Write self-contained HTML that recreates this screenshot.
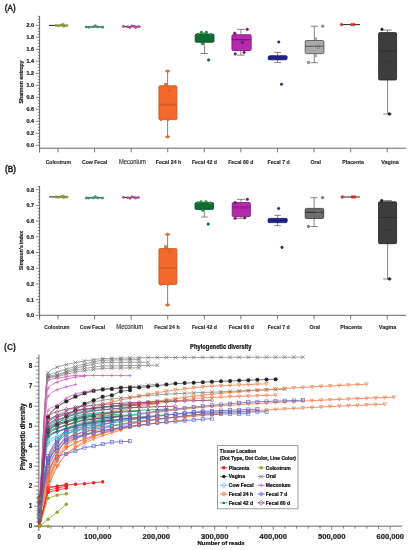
<!DOCTYPE html>
<html><head><meta charset="utf-8"><style>
html,body{margin:0;padding:0;background:#fff;}
svg{display:block;will-change:transform;}
text{font-family:"Liberation Sans",sans-serif;}
</style></head><body>
<svg width="415" height="550" viewBox="0 0 415 550">
<rect width="415" height="550" fill="#fff"/>
<text x="4.80" y="10.60" font-size="8.2" font-weight="normal" text-anchor="start" fill="#222" textLength="10.8" lengthAdjust="spacingAndGlyphs" stroke="#222" stroke-width="0.45" >(A)</text>
<line x1="39.60" y1="16.00" x2="39.60" y2="152.50" stroke="#555" stroke-width="0.9" />
<line x1="39.60" y1="148.20" x2="406.30" y2="148.20" stroke="#555" stroke-width="0.9" />
<line x1="35.80" y1="145.30" x2="39.60" y2="145.30" stroke="#555" stroke-width="0.7" />
<text x="33.90" y="147.20" font-size="5.4" font-weight="bold" text-anchor="end" fill="#222" stroke="#222" stroke-width="0.22" >0.0</text>
<line x1="37.80" y1="142.30" x2="39.60" y2="142.30" stroke="#555" stroke-width="0.7" />
<line x1="37.80" y1="139.30" x2="39.60" y2="139.30" stroke="#555" stroke-width="0.7" />
<line x1="37.80" y1="136.30" x2="39.60" y2="136.30" stroke="#555" stroke-width="0.7" />
<line x1="35.80" y1="133.30" x2="39.60" y2="133.30" stroke="#555" stroke-width="0.7" />
<text x="33.90" y="135.20" font-size="5.4" font-weight="bold" text-anchor="end" fill="#222" stroke="#222" stroke-width="0.22" >0.2</text>
<line x1="37.80" y1="130.30" x2="39.60" y2="130.30" stroke="#555" stroke-width="0.7" />
<line x1="37.80" y1="127.30" x2="39.60" y2="127.30" stroke="#555" stroke-width="0.7" />
<line x1="37.80" y1="124.30" x2="39.60" y2="124.30" stroke="#555" stroke-width="0.7" />
<line x1="35.80" y1="121.30" x2="39.60" y2="121.30" stroke="#555" stroke-width="0.7" />
<text x="33.90" y="123.20" font-size="5.4" font-weight="bold" text-anchor="end" fill="#222" stroke="#222" stroke-width="0.22" >0.4</text>
<line x1="37.80" y1="118.30" x2="39.60" y2="118.30" stroke="#555" stroke-width="0.7" />
<line x1="37.80" y1="115.30" x2="39.60" y2="115.30" stroke="#555" stroke-width="0.7" />
<line x1="37.80" y1="112.30" x2="39.60" y2="112.30" stroke="#555" stroke-width="0.7" />
<line x1="35.80" y1="109.30" x2="39.60" y2="109.30" stroke="#555" stroke-width="0.7" />
<text x="33.90" y="111.20" font-size="5.4" font-weight="bold" text-anchor="end" fill="#222" stroke="#222" stroke-width="0.22" >0.6</text>
<line x1="37.80" y1="106.30" x2="39.60" y2="106.30" stroke="#555" stroke-width="0.7" />
<line x1="37.80" y1="103.30" x2="39.60" y2="103.30" stroke="#555" stroke-width="0.7" />
<line x1="37.80" y1="100.30" x2="39.60" y2="100.30" stroke="#555" stroke-width="0.7" />
<line x1="35.80" y1="97.30" x2="39.60" y2="97.30" stroke="#555" stroke-width="0.7" />
<text x="33.90" y="99.20" font-size="5.4" font-weight="bold" text-anchor="end" fill="#222" stroke="#222" stroke-width="0.22" >0.8</text>
<line x1="37.80" y1="94.30" x2="39.60" y2="94.30" stroke="#555" stroke-width="0.7" />
<line x1="37.80" y1="91.30" x2="39.60" y2="91.30" stroke="#555" stroke-width="0.7" />
<line x1="37.80" y1="88.30" x2="39.60" y2="88.30" stroke="#555" stroke-width="0.7" />
<line x1="35.80" y1="85.30" x2="39.60" y2="85.30" stroke="#555" stroke-width="0.7" />
<text x="33.90" y="87.20" font-size="5.4" font-weight="bold" text-anchor="end" fill="#222" stroke="#222" stroke-width="0.22" >1.0</text>
<line x1="37.80" y1="82.30" x2="39.60" y2="82.30" stroke="#555" stroke-width="0.7" />
<line x1="37.80" y1="79.30" x2="39.60" y2="79.30" stroke="#555" stroke-width="0.7" />
<line x1="37.80" y1="76.30" x2="39.60" y2="76.30" stroke="#555" stroke-width="0.7" />
<line x1="35.80" y1="73.30" x2="39.60" y2="73.30" stroke="#555" stroke-width="0.7" />
<text x="33.90" y="75.20" font-size="5.4" font-weight="bold" text-anchor="end" fill="#222" stroke="#222" stroke-width="0.22" >1.2</text>
<line x1="37.80" y1="70.30" x2="39.60" y2="70.30" stroke="#555" stroke-width="0.7" />
<line x1="37.80" y1="67.30" x2="39.60" y2="67.30" stroke="#555" stroke-width="0.7" />
<line x1="37.80" y1="64.30" x2="39.60" y2="64.30" stroke="#555" stroke-width="0.7" />
<line x1="35.80" y1="61.30" x2="39.60" y2="61.30" stroke="#555" stroke-width="0.7" />
<text x="33.90" y="63.20" font-size="5.4" font-weight="bold" text-anchor="end" fill="#222" stroke="#222" stroke-width="0.22" >1.4</text>
<line x1="37.80" y1="58.30" x2="39.60" y2="58.30" stroke="#555" stroke-width="0.7" />
<line x1="37.80" y1="55.30" x2="39.60" y2="55.30" stroke="#555" stroke-width="0.7" />
<line x1="37.80" y1="52.30" x2="39.60" y2="52.30" stroke="#555" stroke-width="0.7" />
<line x1="35.80" y1="49.30" x2="39.60" y2="49.30" stroke="#555" stroke-width="0.7" />
<text x="33.90" y="51.20" font-size="5.4" font-weight="bold" text-anchor="end" fill="#222" stroke="#222" stroke-width="0.22" >1.6</text>
<line x1="37.80" y1="46.30" x2="39.60" y2="46.30" stroke="#555" stroke-width="0.7" />
<line x1="37.80" y1="43.30" x2="39.60" y2="43.30" stroke="#555" stroke-width="0.7" />
<line x1="37.80" y1="40.30" x2="39.60" y2="40.30" stroke="#555" stroke-width="0.7" />
<line x1="35.80" y1="37.30" x2="39.60" y2="37.30" stroke="#555" stroke-width="0.7" />
<text x="33.90" y="39.20" font-size="5.4" font-weight="bold" text-anchor="end" fill="#222" stroke="#222" stroke-width="0.22" >1.8</text>
<line x1="37.80" y1="34.30" x2="39.60" y2="34.30" stroke="#555" stroke-width="0.7" />
<line x1="37.80" y1="31.30" x2="39.60" y2="31.30" stroke="#555" stroke-width="0.7" />
<line x1="37.80" y1="28.30" x2="39.60" y2="28.30" stroke="#555" stroke-width="0.7" />
<line x1="35.80" y1="25.30" x2="39.60" y2="25.30" stroke="#555" stroke-width="0.7" />
<text x="33.90" y="27.20" font-size="5.4" font-weight="bold" text-anchor="end" fill="#222" stroke="#222" stroke-width="0.22" >2.0</text>
<line x1="37.80" y1="22.30" x2="39.60" y2="22.30" stroke="#555" stroke-width="0.7" />
<line x1="37.80" y1="19.30" x2="39.60" y2="19.30" stroke="#555" stroke-width="0.7" />
<line x1="37.80" y1="16.30" x2="39.60" y2="16.30" stroke="#555" stroke-width="0.7" />
<line x1="58.00" y1="148.20" x2="58.00" y2="152.30" stroke="#555" stroke-width="0.8" />
<text x="58.30" y="163.55" font-size="5.4" font-weight="bold" text-anchor="middle" fill="#222" textLength="25.2" lengthAdjust="spacingAndGlyphs" stroke="#222" stroke-width="0.1" >Colostrum</text>
<line x1="94.58" y1="148.20" x2="94.58" y2="152.30" stroke="#555" stroke-width="0.8" />
<text x="94.65" y="163.55" font-size="5.4" font-weight="bold" text-anchor="middle" fill="#222" textLength="25.3" lengthAdjust="spacingAndGlyphs" stroke="#222" stroke-width="0.1" >Cow Fecal</text>
<line x1="131.16" y1="148.20" x2="131.16" y2="152.30" stroke="#555" stroke-width="0.8" />
<text x="132.40" y="163.90" font-size="6.4" font-weight="normal" text-anchor="middle" fill="#333" textLength="26.7" lengthAdjust="spacingAndGlyphs" stroke="#333" stroke-width="0.15" >Meconium</text>
<line x1="167.74" y1="148.20" x2="167.74" y2="152.30" stroke="#555" stroke-width="0.8" />
<text x="168.50" y="163.55" font-size="5.4" font-weight="bold" text-anchor="middle" fill="#222" textLength="25.5" lengthAdjust="spacingAndGlyphs" stroke="#222" stroke-width="0.1" >Fecal 24 h</text>
<line x1="204.32" y1="148.20" x2="204.32" y2="152.30" stroke="#555" stroke-width="0.8" />
<text x="204.40" y="163.55" font-size="5.4" font-weight="bold" text-anchor="middle" fill="#222" textLength="24.9" lengthAdjust="spacingAndGlyphs" stroke="#222" stroke-width="0.1" >Fecal 42 d</text>
<line x1="240.90" y1="148.20" x2="240.90" y2="152.30" stroke="#555" stroke-width="0.8" />
<text x="240.80" y="163.55" font-size="5.4" font-weight="bold" text-anchor="middle" fill="#222" textLength="25.2" lengthAdjust="spacingAndGlyphs" stroke="#222" stroke-width="0.1" >Fecal 60 d</text>
<line x1="277.48" y1="148.20" x2="277.48" y2="152.30" stroke="#555" stroke-width="0.8" />
<text x="278.60" y="163.55" font-size="5.4" font-weight="bold" text-anchor="middle" fill="#222" textLength="22.1" lengthAdjust="spacingAndGlyphs" stroke="#222" stroke-width="0.1" >Fecal 7 d</text>
<line x1="314.06" y1="148.20" x2="314.06" y2="152.30" stroke="#555" stroke-width="0.8" />
<text x="315.70" y="163.55" font-size="5.4" font-weight="bold" text-anchor="middle" fill="#222" textLength="10.5" lengthAdjust="spacingAndGlyphs" stroke="#222" stroke-width="0.1" >Oral</text>
<line x1="350.64" y1="148.20" x2="350.64" y2="152.30" stroke="#555" stroke-width="0.8" />
<text x="353.10" y="163.55" font-size="5.4" font-weight="bold" text-anchor="middle" fill="#222" textLength="21.7" lengthAdjust="spacingAndGlyphs" stroke="#222" stroke-width="0.1" >Placenta</text>
<line x1="387.22" y1="148.20" x2="387.22" y2="152.30" stroke="#555" stroke-width="0.8" />
<text x="390.00" y="163.55" font-size="5.4" font-weight="bold" text-anchor="middle" fill="#222" textLength="17.6" lengthAdjust="spacingAndGlyphs" stroke="#222" stroke-width="0.1" >Vagina</text>
<text transform="translate(23.2,82) rotate(-90)" font-size="5.3" font-weight="bold" text-anchor="middle" fill="#222" stroke="#222" stroke-width="0.2" textLength="43" lengthAdjust="spacingAndGlyphs">Shannon entropy</text>
<text x="4.90" y="171.60" font-size="8.2" font-weight="normal" text-anchor="start" fill="#222" textLength="11.0" lengthAdjust="spacingAndGlyphs" stroke="#222" stroke-width="0.45" >(B)</text>
<line x1="39.60" y1="185.90" x2="39.60" y2="319.60" stroke="#555" stroke-width="0.9" />
<line x1="39.60" y1="315.30" x2="406.30" y2="315.30" stroke="#555" stroke-width="0.9" />
<line x1="35.80" y1="315.30" x2="39.60" y2="315.30" stroke="#555" stroke-width="0.7" />
<text x="33.90" y="317.20" font-size="5.4" font-weight="bold" text-anchor="end" fill="#222" stroke="#222" stroke-width="0.22" >0.0</text>
<line x1="37.80" y1="312.16" x2="39.60" y2="312.16" stroke="#555" stroke-width="0.7" />
<line x1="37.80" y1="309.02" x2="39.60" y2="309.02" stroke="#555" stroke-width="0.7" />
<line x1="37.80" y1="305.88" x2="39.60" y2="305.88" stroke="#555" stroke-width="0.7" />
<line x1="37.80" y1="302.74" x2="39.60" y2="302.74" stroke="#555" stroke-width="0.7" />
<line x1="35.80" y1="299.60" x2="39.60" y2="299.60" stroke="#555" stroke-width="0.7" />
<text x="33.90" y="301.50" font-size="5.4" font-weight="bold" text-anchor="end" fill="#222" stroke="#222" stroke-width="0.22" >0.1</text>
<line x1="37.80" y1="296.46" x2="39.60" y2="296.46" stroke="#555" stroke-width="0.7" />
<line x1="37.80" y1="293.32" x2="39.60" y2="293.32" stroke="#555" stroke-width="0.7" />
<line x1="37.80" y1="290.18" x2="39.60" y2="290.18" stroke="#555" stroke-width="0.7" />
<line x1="37.80" y1="287.04" x2="39.60" y2="287.04" stroke="#555" stroke-width="0.7" />
<line x1="35.80" y1="283.90" x2="39.60" y2="283.90" stroke="#555" stroke-width="0.7" />
<text x="33.90" y="285.80" font-size="5.4" font-weight="bold" text-anchor="end" fill="#222" stroke="#222" stroke-width="0.22" >0.2</text>
<line x1="37.80" y1="280.76" x2="39.60" y2="280.76" stroke="#555" stroke-width="0.7" />
<line x1="37.80" y1="277.62" x2="39.60" y2="277.62" stroke="#555" stroke-width="0.7" />
<line x1="37.80" y1="274.48" x2="39.60" y2="274.48" stroke="#555" stroke-width="0.7" />
<line x1="37.80" y1="271.34" x2="39.60" y2="271.34" stroke="#555" stroke-width="0.7" />
<line x1="35.80" y1="268.20" x2="39.60" y2="268.20" stroke="#555" stroke-width="0.7" />
<text x="33.90" y="270.10" font-size="5.4" font-weight="bold" text-anchor="end" fill="#222" stroke="#222" stroke-width="0.22" >0.3</text>
<line x1="37.80" y1="265.06" x2="39.60" y2="265.06" stroke="#555" stroke-width="0.7" />
<line x1="37.80" y1="261.92" x2="39.60" y2="261.92" stroke="#555" stroke-width="0.7" />
<line x1="37.80" y1="258.78" x2="39.60" y2="258.78" stroke="#555" stroke-width="0.7" />
<line x1="37.80" y1="255.64" x2="39.60" y2="255.64" stroke="#555" stroke-width="0.7" />
<line x1="35.80" y1="252.50" x2="39.60" y2="252.50" stroke="#555" stroke-width="0.7" />
<text x="33.90" y="254.40" font-size="5.4" font-weight="bold" text-anchor="end" fill="#222" stroke="#222" stroke-width="0.22" >0.4</text>
<line x1="37.80" y1="249.36" x2="39.60" y2="249.36" stroke="#555" stroke-width="0.7" />
<line x1="37.80" y1="246.22" x2="39.60" y2="246.22" stroke="#555" stroke-width="0.7" />
<line x1="37.80" y1="243.08" x2="39.60" y2="243.08" stroke="#555" stroke-width="0.7" />
<line x1="37.80" y1="239.94" x2="39.60" y2="239.94" stroke="#555" stroke-width="0.7" />
<line x1="35.80" y1="236.80" x2="39.60" y2="236.80" stroke="#555" stroke-width="0.7" />
<text x="33.90" y="238.70" font-size="5.4" font-weight="bold" text-anchor="end" fill="#222" stroke="#222" stroke-width="0.22" >0.5</text>
<line x1="37.80" y1="233.66" x2="39.60" y2="233.66" stroke="#555" stroke-width="0.7" />
<line x1="37.80" y1="230.52" x2="39.60" y2="230.52" stroke="#555" stroke-width="0.7" />
<line x1="37.80" y1="227.38" x2="39.60" y2="227.38" stroke="#555" stroke-width="0.7" />
<line x1="37.80" y1="224.24" x2="39.60" y2="224.24" stroke="#555" stroke-width="0.7" />
<line x1="35.80" y1="221.10" x2="39.60" y2="221.10" stroke="#555" stroke-width="0.7" />
<text x="33.90" y="223.00" font-size="5.4" font-weight="bold" text-anchor="end" fill="#222" stroke="#222" stroke-width="0.22" >0.6</text>
<line x1="37.80" y1="217.96" x2="39.60" y2="217.96" stroke="#555" stroke-width="0.7" />
<line x1="37.80" y1="214.82" x2="39.60" y2="214.82" stroke="#555" stroke-width="0.7" />
<line x1="37.80" y1="211.68" x2="39.60" y2="211.68" stroke="#555" stroke-width="0.7" />
<line x1="37.80" y1="208.54" x2="39.60" y2="208.54" stroke="#555" stroke-width="0.7" />
<line x1="35.80" y1="205.40" x2="39.60" y2="205.40" stroke="#555" stroke-width="0.7" />
<text x="33.90" y="207.30" font-size="5.4" font-weight="bold" text-anchor="end" fill="#222" stroke="#222" stroke-width="0.22" >0.7</text>
<line x1="37.80" y1="202.26" x2="39.60" y2="202.26" stroke="#555" stroke-width="0.7" />
<line x1="37.80" y1="199.12" x2="39.60" y2="199.12" stroke="#555" stroke-width="0.7" />
<line x1="37.80" y1="195.98" x2="39.60" y2="195.98" stroke="#555" stroke-width="0.7" />
<line x1="37.80" y1="192.84" x2="39.60" y2="192.84" stroke="#555" stroke-width="0.7" />
<line x1="35.80" y1="189.70" x2="39.60" y2="189.70" stroke="#555" stroke-width="0.7" />
<text x="33.90" y="191.60" font-size="5.4" font-weight="bold" text-anchor="end" fill="#222" stroke="#222" stroke-width="0.22" >0.8</text>
<line x1="37.80" y1="186.56" x2="39.60" y2="186.56" stroke="#555" stroke-width="0.7" />
<line x1="58.00" y1="315.30" x2="58.00" y2="319.40" stroke="#555" stroke-width="0.8" />
<text x="56.90" y="328.95" font-size="5.4" font-weight="bold" text-anchor="middle" fill="#222" textLength="25.2" lengthAdjust="spacingAndGlyphs" stroke="#222" stroke-width="0.1" >Colostrum</text>
<line x1="94.58" y1="315.30" x2="94.58" y2="319.40" stroke="#555" stroke-width="0.8" />
<text x="92.50" y="328.95" font-size="5.4" font-weight="bold" text-anchor="middle" fill="#222" textLength="25.3" lengthAdjust="spacingAndGlyphs" stroke="#222" stroke-width="0.1" >Cow Fecal</text>
<line x1="131.16" y1="315.30" x2="131.16" y2="319.40" stroke="#555" stroke-width="0.8" />
<text x="129.70" y="329.30" font-size="6.4" font-weight="normal" text-anchor="middle" fill="#333" textLength="26.7" lengthAdjust="spacingAndGlyphs" stroke="#333" stroke-width="0.15" >Meconium</text>
<line x1="167.74" y1="315.30" x2="167.74" y2="319.40" stroke="#555" stroke-width="0.8" />
<text x="166.90" y="328.95" font-size="5.4" font-weight="bold" text-anchor="middle" fill="#222" textLength="25.5" lengthAdjust="spacingAndGlyphs" stroke="#222" stroke-width="0.1" >Fecal 24 h</text>
<line x1="204.32" y1="315.30" x2="204.32" y2="319.40" stroke="#555" stroke-width="0.8" />
<text x="204.40" y="328.95" font-size="5.4" font-weight="bold" text-anchor="middle" fill="#222" textLength="24.9" lengthAdjust="spacingAndGlyphs" stroke="#222" stroke-width="0.1" >Fecal 42 d</text>
<line x1="240.90" y1="315.30" x2="240.90" y2="319.40" stroke="#555" stroke-width="0.8" />
<text x="241.40" y="328.95" font-size="5.4" font-weight="bold" text-anchor="middle" fill="#222" textLength="25.2" lengthAdjust="spacingAndGlyphs" stroke="#222" stroke-width="0.1" >Fecal 60 d</text>
<line x1="277.48" y1="315.30" x2="277.48" y2="319.40" stroke="#555" stroke-width="0.8" />
<text x="278.70" y="328.95" font-size="5.4" font-weight="bold" text-anchor="middle" fill="#222" textLength="22.1" lengthAdjust="spacingAndGlyphs" stroke="#222" stroke-width="0.1" >Fecal 7 d</text>
<line x1="314.06" y1="315.30" x2="314.06" y2="319.40" stroke="#555" stroke-width="0.8" />
<text x="314.80" y="328.95" font-size="5.4" font-weight="bold" text-anchor="middle" fill="#222" textLength="10.5" lengthAdjust="spacingAndGlyphs" stroke="#222" stroke-width="0.1" >Oral</text>
<line x1="350.64" y1="315.30" x2="350.64" y2="319.40" stroke="#555" stroke-width="0.8" />
<text x="351.20" y="328.95" font-size="5.4" font-weight="bold" text-anchor="middle" fill="#222" textLength="21.7" lengthAdjust="spacingAndGlyphs" stroke="#222" stroke-width="0.1" >Placenta</text>
<line x1="387.22" y1="315.30" x2="387.22" y2="319.40" stroke="#555" stroke-width="0.8" />
<text x="387.60" y="328.95" font-size="5.4" font-weight="bold" text-anchor="middle" fill="#222" textLength="17.6" lengthAdjust="spacingAndGlyphs" stroke="#222" stroke-width="0.1" >Vagina</text>
<text transform="translate(22.8,250.5) rotate(-90)" font-size="5.1" font-weight="bold" text-anchor="middle" fill="#222" stroke="#222" stroke-width="0.2" textLength="39" lengthAdjust="spacingAndGlyphs">Simpson&#8217;s index</text>
<line x1="48.90" y1="25.40" x2="67.90" y2="25.40" stroke="#222" stroke-width="1.0" />
<circle cx="56.00" cy="25.50" r="1.25" fill="#a3ad22" stroke="#555" stroke-width="0.3"/>
<circle cx="58.60" cy="25.70" r="1.25" fill="#a3ad22" stroke="#555" stroke-width="0.3"/>
<circle cx="61.20" cy="25.10" r="1.25" fill="#a3ad22" stroke="#555" stroke-width="0.3"/>
<circle cx="63.20" cy="24.50" r="1.25" fill="#a3ad22" stroke="#555" stroke-width="0.3"/>
<circle cx="63.80" cy="26.20" r="1.25" fill="#a3ad22" stroke="#555" stroke-width="0.3"/>
<circle cx="66.60" cy="25.60" r="1.25" fill="#a3ad22" stroke="#555" stroke-width="0.3"/>
<line x1="85.00" y1="26.90" x2="103.90" y2="26.90" stroke="#222" stroke-width="1.0" />
<circle cx="86.30" cy="27.10" r="1.2" fill="#1cb386" stroke="#555" stroke-width="0.3"/>
<circle cx="88.80" cy="27.20" r="1.2" fill="#1cb386" stroke="#555" stroke-width="0.3"/>
<circle cx="93.00" cy="26.90" r="1.2" fill="#1cb386" stroke="#555" stroke-width="0.3"/>
<circle cx="95.30" cy="25.60" r="1.2" fill="#1cb386" stroke="#555" stroke-width="0.3"/>
<circle cx="97.80" cy="26.90" r="1.2" fill="#1cb386" stroke="#555" stroke-width="0.3"/>
<circle cx="102.60" cy="27.20" r="1.2" fill="#1cb386" stroke="#555" stroke-width="0.3"/>
<line x1="122.20" y1="26.70" x2="140.70" y2="26.70" stroke="#222" stroke-width="1.0" />
<circle cx="123.50" cy="26.30" r="1.25" fill="#dc3fb0" stroke="#555" stroke-width="0.3"/>
<circle cx="127.60" cy="26.80" r="1.25" fill="#dc3fb0" stroke="#555" stroke-width="0.3"/>
<circle cx="130.00" cy="27.60" r="1.25" fill="#dc3fb0" stroke="#555" stroke-width="0.3"/>
<circle cx="132.00" cy="25.90" r="1.25" fill="#dc3fb0" stroke="#555" stroke-width="0.3"/>
<circle cx="134.30" cy="26.30" r="1.25" fill="#dc3fb0" stroke="#555" stroke-width="0.3"/>
<circle cx="135.60" cy="27.40" r="1.25" fill="#dc3fb0" stroke="#555" stroke-width="0.3"/>
<circle cx="138.50" cy="26.60" r="1.25" fill="#dc3fb0" stroke="#555" stroke-width="0.3"/>
<line x1="341.40" y1="24.60" x2="360.00" y2="24.60" stroke="#222" stroke-width="1.0" />
<circle cx="341.60" cy="24.60" r="1.45" fill="#ee2222" stroke="#555" stroke-width="0.3"/>
<circle cx="351.80" cy="24.60" r="1.45" fill="#ee2222" stroke="#555" stroke-width="0.3"/>
<circle cx="354.00" cy="24.60" r="1.45" fill="#ee2222" stroke="#555" stroke-width="0.3"/>
<line x1="167.60" y1="71.10" x2="167.60" y2="85.80" stroke="#666" stroke-width="0.8" />
<line x1="165.00" y1="71.10" x2="170.20" y2="71.10" stroke="#666" stroke-width="0.8" />
<line x1="167.60" y1="119.60" x2="167.60" y2="136.80" stroke="#666" stroke-width="0.8" />
<line x1="165.00" y1="136.80" x2="170.20" y2="136.80" stroke="#666" stroke-width="0.8" />
<rect x="158.90" y="85.80" width="18.00" height="33.80" rx="1.2" fill="#f26a2b" stroke="#c1511d" stroke-width="0.8"/>
<line x1="158.90" y1="104.90" x2="176.90" y2="104.90" stroke="#c1511d" stroke-width="0.9" />
<line x1="159.90" y1="103.30" x2="175.90" y2="103.30" stroke="#c1511d" stroke-width="0.7" stroke-dasharray="1,1.2"/>
<circle cx="167.60" cy="71.10" r="1.4" fill="#f26a2b" stroke="#c1511d" stroke-width="0.4"/>
<circle cx="167.60" cy="136.80" r="1.4" fill="#f26a2b" stroke="#c1511d" stroke-width="0.4"/>
<rect x="164.4" y="83.2" width="2.6" height="2.6" fill="#f26a2b" stroke="#c1511d" stroke-width="0.4"/>
<circle cx="169.60" cy="90.30" r="1.3" fill="none" stroke="#c1511d" stroke-width="0.5"/>
<circle cx="161.00" cy="119.40" r="1.3" fill="#f26a2b" stroke="#c1511d" stroke-width="0.4"/>
<circle cx="168.00" cy="119.40" r="1.3" fill="#f26a2b" stroke="#c1511d" stroke-width="0.4"/>
<line x1="204.40" y1="42.30" x2="204.40" y2="53.50" stroke="#666" stroke-width="0.8" />
<line x1="200.80" y1="53.50" x2="208.00" y2="53.50" stroke="#666" stroke-width="0.8" />
<rect x="195.20" y="34.10" width="18.80" height="8.20" rx="1.2" fill="#0f6b36" stroke="#0a4a24" stroke-width="0.8"/>
<circle cx="201.30" cy="32.40" r="1.4" fill="#1f8a45" stroke="#0a4a24" stroke-width="0.3"/>
<circle cx="206.40" cy="32.40" r="1.4" fill="#1f8a45" stroke="#0a4a24" stroke-width="0.3"/>
<circle cx="202.40" cy="43.60" r="1.4" fill="#1f8a45" stroke="#0a4a24" stroke-width="0.3"/>
<circle cx="198.00" cy="34.50" r="1.4" fill="#1f8a45" stroke="#0a4a24" stroke-width="0.3"/>
<circle cx="210.00" cy="34.80" r="1.4" fill="#1f8a45" stroke="#0a4a24" stroke-width="0.3"/>
<circle cx="204.00" cy="34.20" r="1.4" fill="#1f8a45" stroke="#0a4a24" stroke-width="0.3"/>
<circle cx="208.60" cy="60.00" r="1.4" fill="#0f6b36" stroke="#0a4a24" stroke-width="0.3"/>
<line x1="240.90" y1="29.30" x2="240.90" y2="34.70" stroke="#666" stroke-width="0.8" />
<line x1="237.10" y1="29.30" x2="244.70" y2="29.30" stroke="#666" stroke-width="0.8" />
<line x1="240.90" y1="50.50" x2="240.90" y2="55.10" stroke="#666" stroke-width="0.8" />
<line x1="237.10" y1="55.10" x2="244.70" y2="55.10" stroke="#666" stroke-width="0.8" />
<rect x="231.90" y="34.70" width="19.30" height="15.80" rx="1.2" fill="#b42bae" stroke="#7a1670" stroke-width="0.8"/>
<line x1="231.90" y1="39.50" x2="251.20" y2="39.50" stroke="#7a1670" stroke-width="0.9" />
<line x1="232.90" y1="40.50" x2="250.20" y2="40.50" stroke="#7a1670" stroke-width="0.7" stroke-dasharray="1,1.2"/>
<circle cx="247.20" cy="29.30" r="1.4" fill="#7a1670" stroke="#7a1670" stroke-width="0.3"/>
<circle cx="234.80" cy="33.30" r="1.4" fill="#7a1670" stroke="#7a1670" stroke-width="0.3"/>
<circle cx="235.20" cy="54.00" r="1.4" fill="#7a1670" stroke="#7a1670" stroke-width="0.3"/>
<circle cx="244.10" cy="52.40" r="1.4" fill="#7a1670" stroke="#7a1670" stroke-width="0.3"/>
<circle cx="242.50" cy="42.50" r="1.4" fill="#7a1670" stroke="#7a1670" stroke-width="0.3"/>
<line x1="277.60" y1="52.40" x2="277.60" y2="55.80" stroke="#666" stroke-width="0.8" />
<line x1="274.20" y1="52.40" x2="281.00" y2="52.40" stroke="#666" stroke-width="0.8" />
<line x1="277.60" y1="59.80" x2="277.60" y2="62.60" stroke="#666" stroke-width="0.8" />
<line x1="274.20" y1="62.60" x2="281.00" y2="62.60" stroke="#666" stroke-width="0.8" />
<rect x="268.30" y="55.80" width="18.70" height="4.00" rx="1.2" fill="#2a2a8c" stroke="#14145e" stroke-width="0.8"/>
<circle cx="269.50" cy="58.20" r="1.3" fill="#25259a" stroke="#111155" stroke-width="0.3"/>
<circle cx="272.00" cy="57.10" r="1.3" fill="#25259a" stroke="#111155" stroke-width="0.3"/>
<circle cx="274.50" cy="57.10" r="1.3" fill="#25259a" stroke="#111155" stroke-width="0.3"/>
<circle cx="277.00" cy="58.20" r="1.3" fill="#25259a" stroke="#111155" stroke-width="0.3"/>
<circle cx="279.50" cy="58.20" r="1.3" fill="#25259a" stroke="#111155" stroke-width="0.3"/>
<circle cx="282.00" cy="57.10" r="1.3" fill="#25259a" stroke="#111155" stroke-width="0.3"/>
<circle cx="284.50" cy="57.10" r="1.3" fill="#25259a" stroke="#111155" stroke-width="0.3"/>
<circle cx="286.00" cy="57.10" r="1.3" fill="#25259a" stroke="#111155" stroke-width="0.3"/>
<circle cx="278.80" cy="42.00" r="1.3" fill="#25259a" stroke="#111155" stroke-width="0.3"/>
<circle cx="281.50" cy="84.30" r="1.3" fill="#25259a" stroke="#111155" stroke-width="0.3"/>
<line x1="314.30" y1="26.20" x2="314.30" y2="40.50" stroke="#666" stroke-width="0.8" />
<line x1="310.70" y1="26.20" x2="317.90" y2="26.20" stroke="#666" stroke-width="0.8" />
<line x1="314.30" y1="53.60" x2="314.30" y2="62.70" stroke="#666" stroke-width="0.8" />
<line x1="310.70" y1="62.70" x2="317.90" y2="62.70" stroke="#666" stroke-width="0.8" />
<rect x="305.20" y="40.50" width="18.70" height="13.10" rx="1.2" fill="#a9a9a9" stroke="#4a4a4a" stroke-width="0.8"/>
<line x1="305.60" y1="46.20" x2="323.50" y2="46.20" stroke="#2a2a2a" stroke-width="1.1" stroke-dasharray="1.3,0.6"/>
<circle cx="322.70" cy="26.20" r="1.4" fill="#9a9a9a" stroke="#666" stroke-width="0.4"/>
<circle cx="308.50" cy="62.50" r="1.4" fill="#9a9a9a" stroke="#666" stroke-width="0.4"/>
<circle cx="318.20" cy="46.80" r="1.8" fill="none" stroke="#666" stroke-width="0.5"/>
<circle cx="315.50" cy="38.80" r="1.3" fill="#bbb" stroke="#777" stroke-width="0.6"/>
<circle cx="315.50" cy="55.40" r="1.3" fill="#bbb" stroke="#777" stroke-width="0.6"/>
<line x1="387.60" y1="30.00" x2="387.60" y2="32.60" stroke="#666" stroke-width="0.8" />
<line x1="383.30" y1="30.00" x2="391.90" y2="30.00" stroke="#666" stroke-width="0.8" />
<line x1="387.60" y1="80.00" x2="387.60" y2="114.00" stroke="#666" stroke-width="0.8" />
<line x1="383.30" y1="114.00" x2="391.90" y2="114.00" stroke="#666" stroke-width="0.8" />
<rect x="378.60" y="32.60" width="18.00" height="47.40" rx="1.2" fill="#3d3d3d" stroke="#222" stroke-width="0.8"/>
<line x1="378.60" y1="51.00" x2="396.60" y2="51.00" stroke="#2a2a2a" stroke-width="0.9" />
<line x1="379.60" y1="61.40" x2="395.60" y2="61.40" stroke="#2a2a2a" stroke-width="0.7" stroke-dasharray="1,1.2"/>
<circle cx="382.00" cy="29.40" r="1.4" fill="#222" stroke="#111" stroke-width="0.3"/>
<circle cx="389.40" cy="114.00" r="1.4" fill="#222" stroke="#111" stroke-width="0.3"/>
<line x1="49.00" y1="196.90" x2="68.20" y2="196.90" stroke="#222" stroke-width="1.0" />
<circle cx="56.00" cy="197.00" r="1.2" fill="#a3ad22" stroke="#555" stroke-width="0.3"/>
<circle cx="58.60" cy="197.20" r="1.2" fill="#a3ad22" stroke="#555" stroke-width="0.3"/>
<circle cx="61.20" cy="196.60" r="1.2" fill="#a3ad22" stroke="#555" stroke-width="0.3"/>
<circle cx="63.20" cy="196.10" r="1.2" fill="#a3ad22" stroke="#555" stroke-width="0.3"/>
<circle cx="63.80" cy="197.60" r="1.2" fill="#a3ad22" stroke="#555" stroke-width="0.3"/>
<circle cx="66.60" cy="197.10" r="1.2" fill="#a3ad22" stroke="#555" stroke-width="0.3"/>
<line x1="85.50" y1="197.80" x2="103.50" y2="197.80" stroke="#222" stroke-width="1.0" />
<circle cx="86.30" cy="198.00" r="1.2" fill="#1cb386" stroke="#555" stroke-width="0.3"/>
<circle cx="88.80" cy="198.10" r="1.2" fill="#1cb386" stroke="#555" stroke-width="0.3"/>
<circle cx="93.00" cy="197.80" r="1.2" fill="#1cb386" stroke="#555" stroke-width="0.3"/>
<circle cx="95.30" cy="196.70" r="1.2" fill="#1cb386" stroke="#555" stroke-width="0.3"/>
<circle cx="97.80" cy="197.80" r="1.2" fill="#1cb386" stroke="#555" stroke-width="0.3"/>
<circle cx="102.40" cy="198.10" r="1.2" fill="#1cb386" stroke="#555" stroke-width="0.3"/>
<line x1="122.30" y1="197.50" x2="139.50" y2="197.50" stroke="#222" stroke-width="1.0" />
<circle cx="123.50" cy="197.20" r="1.2" fill="#dc3fb0" stroke="#555" stroke-width="0.3"/>
<circle cx="127.60" cy="197.60" r="1.2" fill="#dc3fb0" stroke="#555" stroke-width="0.3"/>
<circle cx="130.00" cy="198.30" r="1.2" fill="#dc3fb0" stroke="#555" stroke-width="0.3"/>
<circle cx="132.00" cy="196.80" r="1.2" fill="#dc3fb0" stroke="#555" stroke-width="0.3"/>
<circle cx="134.30" cy="197.20" r="1.2" fill="#dc3fb0" stroke="#555" stroke-width="0.3"/>
<circle cx="135.60" cy="198.10" r="1.2" fill="#dc3fb0" stroke="#555" stroke-width="0.3"/>
<circle cx="138.30" cy="197.40" r="1.2" fill="#dc3fb0" stroke="#555" stroke-width="0.3"/>
<line x1="342.20" y1="197.00" x2="359.80" y2="197.00" stroke="#222" stroke-width="1.0" />
<circle cx="342.30" cy="197.00" r="1.45" fill="#ee2222" stroke="#555" stroke-width="0.3"/>
<circle cx="352.20" cy="197.00" r="1.45" fill="#ee2222" stroke="#555" stroke-width="0.3"/>
<circle cx="354.60" cy="197.00" r="1.45" fill="#ee2222" stroke="#555" stroke-width="0.3"/>
<line x1="167.60" y1="234.40" x2="167.60" y2="248.60" stroke="#666" stroke-width="0.8" />
<line x1="165.00" y1="234.40" x2="170.20" y2="234.40" stroke="#666" stroke-width="0.8" />
<line x1="167.60" y1="284.50" x2="167.60" y2="305.00" stroke="#666" stroke-width="0.8" />
<line x1="165.00" y1="305.00" x2="170.20" y2="305.00" stroke="#666" stroke-width="0.8" />
<rect x="158.90" y="248.60" width="18.00" height="35.90" rx="1.2" fill="#f26a2b" stroke="#c1511d" stroke-width="0.8"/>
<line x1="158.90" y1="267.90" x2="176.90" y2="267.90" stroke="#c1511d" stroke-width="0.9" />
<circle cx="167.60" cy="234.40" r="1.4" fill="#f26a2b" stroke="#c1511d" stroke-width="0.4"/>
<circle cx="167.60" cy="305.00" r="1.4" fill="#f26a2b" stroke="#c1511d" stroke-width="0.4"/>
<rect x="164.6" y="245.7" width="2.6" height="2.6" fill="#f26a2b" stroke="#c1511d" stroke-width="0.4"/>
<circle cx="169.80" cy="251.50" r="1.3" fill="none" stroke="#c1511d" stroke-width="0.5"/>
<circle cx="161.00" cy="284.30" r="1.3" fill="#f26a2b" stroke="#c1511d" stroke-width="0.4"/>
<circle cx="167.90" cy="284.30" r="1.3" fill="#f26a2b" stroke="#c1511d" stroke-width="0.4"/>
<line x1="204.30" y1="209.40" x2="204.30" y2="217.00" stroke="#666" stroke-width="0.8" />
<line x1="200.90" y1="217.00" x2="207.70" y2="217.00" stroke="#666" stroke-width="0.8" />
<rect x="195.00" y="202.60" width="18.60" height="6.80" rx="1.2" fill="#0f6b36" stroke="#0a4a24" stroke-width="0.8"/>
<circle cx="201.00" cy="201.80" r="1.4" fill="#2a9a45" stroke="#0a4a24" stroke-width="0.3"/>
<circle cx="206.00" cy="201.80" r="1.4" fill="#2a9a45" stroke="#0a4a24" stroke-width="0.3"/>
<circle cx="202.50" cy="210.20" r="1.4" fill="#2a9a45" stroke="#0a4a24" stroke-width="0.3"/>
<circle cx="198.00" cy="203.00" r="1.4" fill="#2a9a45" stroke="#0a4a24" stroke-width="0.3"/>
<circle cx="210.00" cy="203.20" r="1.4" fill="#2a9a45" stroke="#0a4a24" stroke-width="0.3"/>
<circle cx="208.20" cy="224.10" r="1.4" fill="#0f6b36" stroke="#0a4a24" stroke-width="0.3"/>
<line x1="241.00" y1="199.30" x2="241.00" y2="202.60" stroke="#666" stroke-width="0.8" />
<line x1="237.00" y1="199.30" x2="245.00" y2="199.30" stroke="#666" stroke-width="0.8" />
<line x1="241.00" y1="216.60" x2="241.00" y2="218.30" stroke="#666" stroke-width="0.8" />
<line x1="237.00" y1="218.30" x2="245.00" y2="218.30" stroke="#666" stroke-width="0.8" />
<rect x="232.20" y="202.60" width="18.20" height="14.00" rx="1.2" fill="#b42bae" stroke="#7a1670" stroke-width="0.8"/>
<line x1="232.20" y1="207.00" x2="250.40" y2="207.00" stroke="#7a1670" stroke-width="0.9" />
<line x1="233.20" y1="208.50" x2="249.40" y2="208.50" stroke="#7a1670" stroke-width="0.7" stroke-dasharray="1,1.2"/>
<circle cx="247.30" cy="199.30" r="1.4" fill="#7a1670" stroke="#7a1670" stroke-width="0.3"/>
<circle cx="235.20" cy="202.60" r="1.4" fill="#7a1670" stroke="#7a1670" stroke-width="0.3"/>
<circle cx="235.20" cy="218.30" r="1.4" fill="#7a1670" stroke="#7a1670" stroke-width="0.3"/>
<circle cx="244.80" cy="217.80" r="1.4" fill="#7a1670" stroke="#7a1670" stroke-width="0.3"/>
<line x1="277.60" y1="215.40" x2="277.60" y2="218.40" stroke="#666" stroke-width="0.8" />
<line x1="274.40" y1="215.40" x2="280.80" y2="215.40" stroke="#666" stroke-width="0.8" />
<line x1="277.60" y1="222.60" x2="277.60" y2="225.70" stroke="#666" stroke-width="0.8" />
<line x1="274.40" y1="225.70" x2="280.80" y2="225.70" stroke="#666" stroke-width="0.8" />
<rect x="268.10" y="218.40" width="19.00" height="4.20" rx="1.2" fill="#2a2a8c" stroke="#14145e" stroke-width="0.8"/>
<circle cx="269.50" cy="221.10" r="1.3" fill="#25259a" stroke="#111155" stroke-width="0.3"/>
<circle cx="272.00" cy="220.00" r="1.3" fill="#25259a" stroke="#111155" stroke-width="0.3"/>
<circle cx="274.50" cy="220.00" r="1.3" fill="#25259a" stroke="#111155" stroke-width="0.3"/>
<circle cx="277.00" cy="221.10" r="1.3" fill="#25259a" stroke="#111155" stroke-width="0.3"/>
<circle cx="279.50" cy="221.10" r="1.3" fill="#25259a" stroke="#111155" stroke-width="0.3"/>
<circle cx="282.00" cy="220.00" r="1.3" fill="#25259a" stroke="#111155" stroke-width="0.3"/>
<circle cx="284.50" cy="220.00" r="1.3" fill="#25259a" stroke="#111155" stroke-width="0.3"/>
<circle cx="286.00" cy="220.00" r="1.3" fill="#25259a" stroke="#111155" stroke-width="0.3"/>
<circle cx="278.60" cy="208.50" r="1.3" fill="#25259a" stroke="#111155" stroke-width="0.3"/>
<circle cx="282.00" cy="247.40" r="1.3" fill="#25259a" stroke="#111155" stroke-width="0.3"/>
<line x1="314.10" y1="197.70" x2="314.10" y2="208.40" stroke="#666" stroke-width="0.8" />
<line x1="310.50" y1="197.70" x2="317.70" y2="197.70" stroke="#666" stroke-width="0.8" />
<line x1="314.10" y1="218.50" x2="314.10" y2="226.50" stroke="#666" stroke-width="0.8" />
<line x1="310.50" y1="226.50" x2="317.70" y2="226.50" stroke="#666" stroke-width="0.8" />
<rect x="305.20" y="208.40" width="18.50" height="10.10" rx="1.2" fill="#6c6c6c" stroke="#3a3a3a" stroke-width="0.8"/>
<line x1="305.60" y1="212.40" x2="323.30" y2="212.40" stroke="#222" stroke-width="1.1" stroke-dasharray="1.3,0.6"/>
<circle cx="322.60" cy="197.70" r="1.4" fill="#8a8a8a" stroke="#555" stroke-width="0.4"/>
<circle cx="308.50" cy="226.50" r="1.4" fill="#8a8a8a" stroke="#555" stroke-width="0.4"/>
<circle cx="318.50" cy="212.80" r="1.5" fill="none" stroke="#999" stroke-width="0.4"/>
<line x1="387.60" y1="200.60" x2="387.60" y2="201.80" stroke="#666" stroke-width="0.8" />
<line x1="383.30" y1="200.60" x2="391.90" y2="200.60" stroke="#666" stroke-width="0.8" />
<line x1="387.60" y1="243.70" x2="387.60" y2="279.00" stroke="#666" stroke-width="0.8" />
<line x1="383.30" y1="279.00" x2="391.90" y2="279.00" stroke="#666" stroke-width="0.8" />
<rect x="378.50" y="201.80" width="18.10" height="41.90" rx="1.2" fill="#3d3d3d" stroke="#222" stroke-width="0.8"/>
<line x1="378.50" y1="217.40" x2="396.60" y2="217.40" stroke="#2a2a2a" stroke-width="0.9" />
<line x1="379.50" y1="229.80" x2="395.60" y2="229.80" stroke="#2a2a2a" stroke-width="0.7" stroke-dasharray="1,1.2"/>
<circle cx="381.70" cy="200.60" r="1.4" fill="#222" stroke="#111" stroke-width="0.3"/>
<circle cx="389.40" cy="279.00" r="1.4" fill="#222" stroke="#111" stroke-width="0.3"/>
<text x="4.00" y="349.80" font-size="8.8" font-weight="bold" text-anchor="start" fill="#222" textLength="12.0" lengthAdjust="spacingAndGlyphs" stroke="#222" stroke-width="0.1" >(C)</text>
<text x="220.80" y="348.50" font-size="6.5" font-weight="bold" text-anchor="middle" fill="#111" textLength="61.4" lengthAdjust="spacingAndGlyphs" stroke="#111" stroke-width="0.22" >Phylogenetic diversity</text>
<text transform="translate(24.5,436.8) rotate(-90)" font-size="6.3" font-weight="bold" text-anchor="middle" fill="#111" stroke="#111" stroke-width="0.2" textLength="66.7" lengthAdjust="spacingAndGlyphs">Phylogenetic diversity</text>
<line x1="38.90" y1="354.50" x2="38.90" y2="531.00" stroke="#555" stroke-width="0.9" />
<line x1="34.30" y1="526.20" x2="402.00" y2="526.20" stroke="#555" stroke-width="0.9" />
<line x1="34.10" y1="526.20" x2="38.90" y2="526.20" stroke="#555" stroke-width="0.7" />
<text x="32.20" y="528.40" font-size="6.3" font-weight="bold" text-anchor="end" fill="#222" stroke="#222" stroke-width="0.22" >0</text>
<line x1="36.10" y1="522.20" x2="38.90" y2="522.20" stroke="#555" stroke-width="0.7" />
<line x1="36.10" y1="518.20" x2="38.90" y2="518.20" stroke="#555" stroke-width="0.7" />
<line x1="36.10" y1="514.20" x2="38.90" y2="514.20" stroke="#555" stroke-width="0.7" />
<line x1="36.10" y1="510.20" x2="38.90" y2="510.20" stroke="#555" stroke-width="0.7" />
<line x1="34.10" y1="506.20" x2="38.90" y2="506.20" stroke="#555" stroke-width="0.7" />
<text x="32.20" y="508.40" font-size="6.3" font-weight="bold" text-anchor="end" fill="#222" stroke="#222" stroke-width="0.22" >1</text>
<line x1="36.10" y1="502.20" x2="38.90" y2="502.20" stroke="#555" stroke-width="0.7" />
<line x1="36.10" y1="498.20" x2="38.90" y2="498.20" stroke="#555" stroke-width="0.7" />
<line x1="36.10" y1="494.20" x2="38.90" y2="494.20" stroke="#555" stroke-width="0.7" />
<line x1="36.10" y1="490.20" x2="38.90" y2="490.20" stroke="#555" stroke-width="0.7" />
<line x1="34.10" y1="486.20" x2="38.90" y2="486.20" stroke="#555" stroke-width="0.7" />
<text x="32.20" y="488.40" font-size="6.3" font-weight="bold" text-anchor="end" fill="#222" stroke="#222" stroke-width="0.22" >2</text>
<line x1="36.10" y1="482.20" x2="38.90" y2="482.20" stroke="#555" stroke-width="0.7" />
<line x1="36.10" y1="478.20" x2="38.90" y2="478.20" stroke="#555" stroke-width="0.7" />
<line x1="36.10" y1="474.20" x2="38.90" y2="474.20" stroke="#555" stroke-width="0.7" />
<line x1="36.10" y1="470.20" x2="38.90" y2="470.20" stroke="#555" stroke-width="0.7" />
<line x1="34.10" y1="466.20" x2="38.90" y2="466.20" stroke="#555" stroke-width="0.7" />
<text x="32.20" y="468.40" font-size="6.3" font-weight="bold" text-anchor="end" fill="#222" stroke="#222" stroke-width="0.22" >3</text>
<line x1="36.10" y1="462.20" x2="38.90" y2="462.20" stroke="#555" stroke-width="0.7" />
<line x1="36.10" y1="458.20" x2="38.90" y2="458.20" stroke="#555" stroke-width="0.7" />
<line x1="36.10" y1="454.20" x2="38.90" y2="454.20" stroke="#555" stroke-width="0.7" />
<line x1="36.10" y1="450.20" x2="38.90" y2="450.20" stroke="#555" stroke-width="0.7" />
<line x1="34.10" y1="446.20" x2="38.90" y2="446.20" stroke="#555" stroke-width="0.7" />
<text x="32.20" y="448.40" font-size="6.3" font-weight="bold" text-anchor="end" fill="#222" stroke="#222" stroke-width="0.22" >4</text>
<line x1="36.10" y1="442.20" x2="38.90" y2="442.20" stroke="#555" stroke-width="0.7" />
<line x1="36.10" y1="438.20" x2="38.90" y2="438.20" stroke="#555" stroke-width="0.7" />
<line x1="36.10" y1="434.20" x2="38.90" y2="434.20" stroke="#555" stroke-width="0.7" />
<line x1="36.10" y1="430.20" x2="38.90" y2="430.20" stroke="#555" stroke-width="0.7" />
<line x1="34.10" y1="426.20" x2="38.90" y2="426.20" stroke="#555" stroke-width="0.7" />
<text x="32.20" y="428.40" font-size="6.3" font-weight="bold" text-anchor="end" fill="#222" stroke="#222" stroke-width="0.22" >5</text>
<line x1="36.10" y1="422.20" x2="38.90" y2="422.20" stroke="#555" stroke-width="0.7" />
<line x1="36.10" y1="418.20" x2="38.90" y2="418.20" stroke="#555" stroke-width="0.7" />
<line x1="36.10" y1="414.20" x2="38.90" y2="414.20" stroke="#555" stroke-width="0.7" />
<line x1="36.10" y1="410.20" x2="38.90" y2="410.20" stroke="#555" stroke-width="0.7" />
<line x1="34.10" y1="406.20" x2="38.90" y2="406.20" stroke="#555" stroke-width="0.7" />
<text x="32.20" y="408.40" font-size="6.3" font-weight="bold" text-anchor="end" fill="#222" stroke="#222" stroke-width="0.22" >6</text>
<line x1="36.10" y1="402.20" x2="38.90" y2="402.20" stroke="#555" stroke-width="0.7" />
<line x1="36.10" y1="398.20" x2="38.90" y2="398.20" stroke="#555" stroke-width="0.7" />
<line x1="36.10" y1="394.20" x2="38.90" y2="394.20" stroke="#555" stroke-width="0.7" />
<line x1="36.10" y1="390.20" x2="38.90" y2="390.20" stroke="#555" stroke-width="0.7" />
<line x1="34.10" y1="386.20" x2="38.90" y2="386.20" stroke="#555" stroke-width="0.7" />
<text x="32.20" y="388.40" font-size="6.3" font-weight="bold" text-anchor="end" fill="#222" stroke="#222" stroke-width="0.22" >7</text>
<line x1="36.10" y1="382.20" x2="38.90" y2="382.20" stroke="#555" stroke-width="0.7" />
<line x1="36.10" y1="378.20" x2="38.90" y2="378.20" stroke="#555" stroke-width="0.7" />
<line x1="36.10" y1="374.20" x2="38.90" y2="374.20" stroke="#555" stroke-width="0.7" />
<line x1="36.10" y1="370.20" x2="38.90" y2="370.20" stroke="#555" stroke-width="0.7" />
<line x1="34.10" y1="366.20" x2="38.90" y2="366.20" stroke="#555" stroke-width="0.7" />
<text x="32.20" y="368.40" font-size="6.3" font-weight="bold" text-anchor="end" fill="#222" stroke="#222" stroke-width="0.22" >8</text>
<line x1="36.10" y1="362.20" x2="38.90" y2="362.20" stroke="#555" stroke-width="0.7" />
<line x1="36.10" y1="358.20" x2="38.90" y2="358.20" stroke="#555" stroke-width="0.7" />
<text x="39.20" y="538.60" font-size="7.4" font-weight="bold" text-anchor="middle" fill="#222" textLength="3.4" lengthAdjust="spacingAndGlyphs" stroke="#222" stroke-width="0.22" >0</text>
<line x1="50.90" y1="526.20" x2="50.90" y2="528.70" stroke="#555" stroke-width="0.7" />
<line x1="62.60" y1="526.20" x2="62.60" y2="528.70" stroke="#555" stroke-width="0.7" />
<line x1="74.30" y1="526.20" x2="74.30" y2="528.70" stroke="#555" stroke-width="0.7" />
<line x1="86.00" y1="526.20" x2="86.00" y2="528.70" stroke="#555" stroke-width="0.7" />
<line x1="97.70" y1="526.20" x2="97.70" y2="530.20" stroke="#555" stroke-width="0.7" />
<text x="97.70" y="538.60" font-size="7.4" font-weight="bold" text-anchor="middle" fill="#222" textLength="27.5" lengthAdjust="spacingAndGlyphs" stroke="#222" stroke-width="0.22" >100,000</text>
<line x1="109.40" y1="526.20" x2="109.40" y2="528.70" stroke="#555" stroke-width="0.7" />
<line x1="121.10" y1="526.20" x2="121.10" y2="528.70" stroke="#555" stroke-width="0.7" />
<line x1="132.80" y1="526.20" x2="132.80" y2="528.70" stroke="#555" stroke-width="0.7" />
<line x1="144.50" y1="526.20" x2="144.50" y2="528.70" stroke="#555" stroke-width="0.7" />
<line x1="156.20" y1="526.20" x2="156.20" y2="530.20" stroke="#555" stroke-width="0.7" />
<text x="156.20" y="538.60" font-size="7.4" font-weight="bold" text-anchor="middle" fill="#222" textLength="27.5" lengthAdjust="spacingAndGlyphs" stroke="#222" stroke-width="0.22" >200,000</text>
<line x1="167.90" y1="526.20" x2="167.90" y2="528.70" stroke="#555" stroke-width="0.7" />
<line x1="179.60" y1="526.20" x2="179.60" y2="528.70" stroke="#555" stroke-width="0.7" />
<line x1="191.30" y1="526.20" x2="191.30" y2="528.70" stroke="#555" stroke-width="0.7" />
<line x1="203.00" y1="526.20" x2="203.00" y2="528.70" stroke="#555" stroke-width="0.7" />
<line x1="214.70" y1="526.20" x2="214.70" y2="530.20" stroke="#555" stroke-width="0.7" />
<text x="214.70" y="538.60" font-size="7.4" font-weight="bold" text-anchor="middle" fill="#222" textLength="27.5" lengthAdjust="spacingAndGlyphs" stroke="#222" stroke-width="0.22" >300,000</text>
<line x1="226.40" y1="526.20" x2="226.40" y2="528.70" stroke="#555" stroke-width="0.7" />
<line x1="238.10" y1="526.20" x2="238.10" y2="528.70" stroke="#555" stroke-width="0.7" />
<line x1="249.80" y1="526.20" x2="249.80" y2="528.70" stroke="#555" stroke-width="0.7" />
<line x1="261.50" y1="526.20" x2="261.50" y2="528.70" stroke="#555" stroke-width="0.7" />
<line x1="273.20" y1="526.20" x2="273.20" y2="530.20" stroke="#555" stroke-width="0.7" />
<text x="273.20" y="538.60" font-size="7.4" font-weight="bold" text-anchor="middle" fill="#222" textLength="27.5" lengthAdjust="spacingAndGlyphs" stroke="#222" stroke-width="0.22" >400,000</text>
<line x1="284.90" y1="526.20" x2="284.90" y2="528.70" stroke="#555" stroke-width="0.7" />
<line x1="296.60" y1="526.20" x2="296.60" y2="528.70" stroke="#555" stroke-width="0.7" />
<line x1="308.30" y1="526.20" x2="308.30" y2="528.70" stroke="#555" stroke-width="0.7" />
<line x1="320.00" y1="526.20" x2="320.00" y2="528.70" stroke="#555" stroke-width="0.7" />
<line x1="331.70" y1="526.20" x2="331.70" y2="530.20" stroke="#555" stroke-width="0.7" />
<text x="331.70" y="538.60" font-size="7.4" font-weight="bold" text-anchor="middle" fill="#222" textLength="27.5" lengthAdjust="spacingAndGlyphs" stroke="#222" stroke-width="0.22" >500,000</text>
<line x1="343.40" y1="526.20" x2="343.40" y2="528.70" stroke="#555" stroke-width="0.7" />
<line x1="355.10" y1="526.20" x2="355.10" y2="528.70" stroke="#555" stroke-width="0.7" />
<line x1="366.80" y1="526.20" x2="366.80" y2="528.70" stroke="#555" stroke-width="0.7" />
<line x1="378.50" y1="526.20" x2="378.50" y2="528.70" stroke="#555" stroke-width="0.7" />
<line x1="390.20" y1="526.20" x2="390.20" y2="530.20" stroke="#555" stroke-width="0.7" />
<text x="390.20" y="538.60" font-size="7.4" font-weight="bold" text-anchor="middle" fill="#222" textLength="27.5" lengthAdjust="spacingAndGlyphs" stroke="#222" stroke-width="0.22" >600,000</text>
<text x="221.10" y="544.60" font-size="5.9" font-weight="bold" text-anchor="middle" fill="#111" textLength="47" lengthAdjust="spacingAndGlyphs" stroke="#111" stroke-width="0.22" >Number of reads</text>
<path d="M39.60,525.20 L48.10,487.20 L57.20,486.20 L66.30,484.20" stroke="#ee2020" stroke-width="0.8" fill="none"/>
<path d="M39.60,525.20 L48.10,490.20 L57.20,488.20 L66.30,486.20" stroke="#ee2020" stroke-width="0.8" fill="none"/>
<path d="M39.60,525.20 L48.10,492.20 L57.20,490.20 L66.30,488.20" stroke="#ee2020" stroke-width="0.8" fill="none"/>
<path d="M39.60,525.20 L48.10,488.20 L57.20,486.20 L66.30,485.20 L75.40,484.20 L84.50,483.80 L93.60,482.80 L102.70,481.80" stroke="#ee2020" stroke-width="0.8" fill="none"/>
<path d="M39.60,526.20 L48.10,498.20 L57.20,495.20 L66.30,493.80" stroke="#9aa52a" stroke-width="0.8" fill="none"/>
<path d="M39.60,526.20 L48.10,519.20 L57.20,512.20 L66.30,504.20" stroke="#9aa52a" stroke-width="0.8" fill="none"/>
<path d="M39.60,526.20 L48.10,526.20" stroke="#9aa52a" stroke-width="0.8" fill="none"/>
<path d="M38.9,526.2 L39.60,506.81 C42.43,462.14 45.27,376.19 48.10,372.80 C51.13,369.17 54.17,368.38 57.20,367.20 C60.23,366.02 63.27,365.35 66.30,364.60 C69.33,363.85 72.37,363.19 75.40,362.60 C78.43,362.01 81.47,361.48 84.50,361.01 C87.53,360.53 90.57,360.10 93.60,359.70 C96.63,359.30 99.67,358.73 102.70,358.60 C105.73,358.47 108.77,358.43 111.80,358.35 C114.83,358.27 117.87,358.20 120.90,358.13 C123.93,358.06 126.97,358.00 130.00,357.94 C133.03,357.88 136.07,357.82 139.10,357.76 C142.13,357.71 145.17,357.62 148.20,357.60 C151.23,357.58 154.27,357.58 157.30,357.56 C160.33,357.55 163.37,357.54 166.40,357.53 C169.43,357.52 172.47,357.51 175.50,357.50 C178.53,357.49 181.57,357.48 184.60,357.47 C187.63,357.46 190.67,357.45 193.70,357.44 C196.73,357.43 199.77,357.42 202.80,357.42 C205.83,357.41 208.87,357.40 211.90,357.39 C214.93,357.38 217.97,357.38 221.00,357.37 C224.03,357.36 227.07,357.35 230.10,357.35 C233.13,357.34 236.17,357.33 239.20,357.33 C242.23,357.32 245.27,357.31 248.30,357.31 C251.33,357.30 254.37,357.29 257.40,357.29 C260.43,357.28 263.47,357.27 266.50,357.27 C269.53,357.26 272.57,357.26 275.60,357.25 C278.63,357.24 281.67,357.24 284.70,357.23 C287.73,357.23 290.77,357.22 293.80,357.22 C296.83,357.21 299.87,357.21 302.90,357.20" stroke="#8c8c8c" stroke-width="0.8" fill="none"/>
<path d="M38.9,526.2 L39.60,516.36 C42.43,469.31 45.27,377.05 48.10,375.20 C51.13,373.22 54.17,373.20 57.20,372.20 C60.23,371.20 63.27,370.13 66.30,369.20 C69.33,368.27 72.37,367.46 75.40,366.60 C78.43,365.74 81.47,364.81 84.50,364.05 C87.53,363.28 90.57,362.60 93.60,361.96 C96.63,361.33 99.67,360.31 102.70,360.20 C105.73,360.09 108.77,360.08 111.80,360.02 C114.83,359.97 117.87,359.92 120.90,359.87 C123.93,359.82 126.97,359.77 130.00,359.73 C133.03,359.68 136.07,359.64 139.10,359.60" stroke="#8c8c8c" stroke-width="0.8" fill="none"/>
<path d="M38.9,526.2 L39.60,500.91 C42.43,459.34 45.27,377.07 48.10,376.20 C51.13,375.27 54.17,375.46 57.20,374.80 C60.23,374.14 63.27,372.46 66.30,371.40 C69.33,370.34 72.37,369.27 75.40,368.40 C78.43,367.53 81.47,366.78 84.50,366.09 C87.53,365.39 90.57,364.77 93.60,364.20 C96.63,363.62 99.67,362.66 102.70,362.60 C105.73,362.54 108.77,362.53 111.80,362.50 C114.83,362.47 117.87,362.44 120.90,362.41 C123.93,362.39 126.97,362.36 130.00,362.34 C133.03,362.31 136.07,362.29 139.10,362.26 C142.13,362.24 145.17,362.22 148.20,362.20" stroke="#8c8c8c" stroke-width="0.8" fill="none"/>
<path d="M38.9,526.2 L39.60,510.46 C42.43,466.04 45.27,378.07 48.10,377.20 C51.13,376.27 54.17,376.45 57.20,375.80 C60.23,375.15 63.27,373.51 66.30,372.60 C69.33,371.69 72.37,370.86 75.40,370.20 C78.43,369.54 81.47,369.03 84.50,368.53 C87.53,368.02 90.57,367.57 93.60,367.16 C96.63,366.74 99.67,366.10 102.70,366.00 C105.73,365.90 108.77,365.88 111.80,365.83 C114.83,365.77 117.87,365.72 120.90,365.68 C123.93,365.63 126.97,365.58 130.00,365.54 C133.03,365.50 136.07,365.46 139.10,365.42 C142.13,365.38 145.17,365.34 148.20,365.30 C151.23,365.27 154.27,365.23 157.30,365.20" stroke="#8c8c8c" stroke-width="0.8" fill="none"/>
<path d="M38.9,526.2 L39.60,520.01 C42.43,472.61 45.27,378.55 48.10,377.80 C51.13,377.00 54.17,377.13 57.20,376.60 C60.23,376.07 63.27,374.92 66.30,374.20 C69.33,373.48 72.37,372.80 75.40,372.23 C78.43,371.66 81.47,371.16 84.50,370.70 C87.53,370.25 90.57,369.84 93.60,369.46 C96.63,369.07 99.67,368.50 102.70,368.40 C105.73,368.30 108.77,368.28 111.80,368.22 C114.83,368.17 117.87,368.12 120.90,368.07 C123.93,368.02 126.97,367.97 130.00,367.93 C133.03,367.88 136.07,367.84 139.10,367.80" stroke="#8c8c8c" stroke-width="0.8" fill="none"/>
<path d="M38.9,526.2 L39.60,504.56 C42.43,477.11 45.27,426.25 48.10,422.20 C51.13,417.87 54.17,416.97 57.20,415.26 C60.23,413.55 63.27,412.50 66.30,411.20 C69.33,409.90 72.37,408.55 75.40,407.47 C78.43,406.38 81.47,405.44 84.50,404.57 C87.53,403.70 90.57,402.92 93.60,402.20 C96.63,401.48 99.67,400.69 102.70,400.20 C105.73,399.71 108.77,399.41 111.80,399.04 C114.83,398.68 117.87,398.35 120.90,398.02 C123.93,397.70 126.97,397.40 130.00,397.11 C133.03,396.82 136.07,396.55 139.10,396.29 C142.13,396.03 145.17,395.77 148.20,395.53 C151.23,395.29 154.27,395.06 157.30,394.84 C160.33,394.62 163.37,394.38 166.40,394.20 C169.43,394.02 172.47,393.89 175.50,393.74 C178.53,393.59 181.57,393.44 184.60,393.30 C187.63,393.16 190.67,393.03 193.70,392.89 C196.73,392.76 199.77,392.63 202.80,392.51 C205.83,392.38 208.87,392.26 211.90,392.15 C214.93,392.03 217.97,391.93 221.00,391.80 C224.03,391.67 227.07,391.51 230.10,391.38 C233.13,391.24 236.17,391.11 239.20,390.97 C242.23,390.84 245.27,390.71 248.30,390.59 C251.33,390.46 254.37,390.34 257.40,390.22 C260.43,390.10 263.47,389.98 266.50,389.87 C269.53,389.75 272.57,389.64 275.60,389.53 C278.63,389.42 281.67,389.31 284.70,389.20" stroke="#8c8c8c" stroke-width="0.8" fill="none"/>
<path d="M38.9,526.2 L39.60,514.11 C42.43,485.47 45.27,432.60 48.10,428.20 C51.13,423.49 54.17,422.49 57.20,420.63 C60.23,418.77 63.27,417.41 66.30,416.20 C69.33,414.99 72.37,414.03 75.40,413.14 C78.43,412.25 81.47,411.48 84.50,410.77 C87.53,410.06 90.57,409.43 93.60,408.84 C96.63,408.25 99.67,407.67 102.70,407.20 C105.73,406.73 108.77,406.36 111.80,405.97 C114.83,405.59 117.87,405.23 120.90,404.89 C123.93,404.55 126.97,404.23 130.00,403.92 C133.03,403.62 136.07,403.33 139.10,403.05 C142.13,402.77 145.17,402.50 148.20,402.25 C151.23,401.99 154.27,401.75 157.30,401.51 C160.33,401.28 163.37,401.05 166.40,400.83 C169.43,400.61 172.47,400.41 175.50,400.20" stroke="#8c8c8c" stroke-width="0.8" fill="none"/>
<path d="M38.9,526.2 L39.60,498.66 C42.43,471.71 45.27,423.73 48.10,417.80 C51.13,411.45 54.17,409.64 57.20,407.20 C60.23,404.76 63.27,403.28 66.30,401.60 C69.33,399.92 72.37,398.30 75.40,397.00 C78.43,395.70 81.47,394.54 84.50,393.60 C87.53,392.66 90.57,391.97 93.60,391.20 C96.63,390.43 99.67,389.33 102.70,389.00 C105.73,388.67 108.77,388.56 111.80,388.36 C114.83,388.16 117.87,388.02 120.90,387.80 C123.93,387.58 126.97,387.23 130.00,386.96 C133.03,386.69 136.07,386.49 139.10,386.20 C142.13,385.91 145.17,385.49 148.20,385.16 C151.23,384.83 154.27,384.52 157.30,384.20" stroke="#8c8c8c" stroke-width="0.8" fill="none"/>
<path d="M38.9,526.2 L39.60,503.17 C42.43,474.51 45.27,423.07 48.10,417.20 C51.13,410.91 54.17,409.23 57.20,406.80 C60.23,404.37 63.27,402.88 66.30,401.20 C69.33,399.52 72.37,397.90 75.40,396.60 C78.43,395.30 81.47,394.14 84.50,393.20 C87.53,392.26 90.57,391.39 93.60,390.80 C96.63,390.21 99.67,389.61 102.70,389.40 C105.73,389.19 108.77,389.20 111.80,389.00 C114.83,388.80 117.87,387.92 120.90,387.80 C123.93,387.68 126.97,387.66 130.00,387.59 C133.03,387.52 136.07,387.50 139.10,387.40 C142.13,387.30 145.17,387.07 148.20,386.80 C151.23,386.53 154.27,385.96 157.30,385.60 C160.33,385.24 163.37,384.93 166.40,384.60 C169.43,384.27 172.47,383.82 175.50,383.60 C178.53,383.38 181.57,383.26 184.60,383.10 C187.63,382.94 190.67,382.79 193.70,382.64 C196.73,382.49 199.77,382.35 202.80,382.20 C205.83,382.05 208.87,381.90 211.90,381.76 C214.93,381.62 217.97,381.48 221.00,381.34 C224.03,381.20 227.07,381.07 230.10,380.94 C233.13,380.81 236.17,380.69 239.20,380.56 C242.23,380.44 245.27,380.32 248.30,380.20 C251.33,380.08 254.37,379.97 257.40,379.85 C260.43,379.74 263.47,379.63 266.50,379.52 C269.53,379.41 272.57,379.31 275.60,379.20" stroke="#505050" stroke-width="0.8" fill="none"/>
<path d="M38.9,526.2 L39.60,512.72 C42.43,485.88 45.27,436.80 48.10,432.20 C51.13,427.27 54.17,426.87 57.20,424.20 C60.23,421.53 63.27,418.49 66.30,416.20 C69.33,413.91 72.37,412.26 75.40,410.20 C78.43,408.14 81.47,405.34 84.50,403.80 C87.53,402.26 90.57,401.37 93.60,400.20 C96.63,399.03 99.67,397.53 102.70,396.80 C105.73,396.07 108.77,395.95 111.80,395.20 C114.83,394.45 117.87,392.01 120.90,391.40 C123.93,390.79 126.97,390.60 130.00,390.20" stroke="#505050" stroke-width="0.8" fill="none"/>
<path d="M38.9,526.2 L39.60,497.26 C42.43,474.91 45.27,433.17 48.10,430.20 C51.13,427.02 54.17,426.39 57.20,425.15 C60.23,423.91 63.27,423.10 66.30,422.20 C69.33,421.30 72.37,420.43 75.40,419.71 C78.43,418.98 81.47,418.36 84.50,417.78 C87.53,417.20 90.57,416.73 93.60,416.20" stroke="#505050" stroke-width="0.8" fill="none"/>
<path d="M38.9,526.2 L39.60,521.20 C42.43,502.87 45.27,476.46 48.10,466.20 C51.13,455.22 54.17,449.08 57.20,443.49 C60.23,437.90 63.27,433.74 66.30,430.20 C69.33,426.66 72.37,423.94 75.40,421.37 C78.43,418.80 81.47,416.58 84.50,414.52 C87.53,412.47 90.57,410.64 93.60,408.93 C96.63,407.22 99.67,405.22 102.70,404.20 C105.73,403.18 108.77,402.66 111.80,401.95 C114.83,401.25 117.87,400.60 120.90,399.97 C123.93,399.35 126.97,398.82 130.00,398.20 C133.03,397.58 136.07,396.85 139.10,396.22 C142.13,395.59 145.17,394.99 148.20,394.41 C151.23,393.83 154.27,393.28 157.30,392.74 C160.33,392.21 163.37,391.65 166.40,391.20 C169.43,390.75 172.47,390.38 175.50,389.99 C178.53,389.60 181.57,389.23 184.60,388.86 C187.63,388.50 190.67,388.14 193.70,387.80 C196.73,387.46 199.77,387.02 202.80,386.80 C205.83,386.58 208.87,386.47 211.90,386.31 C214.93,386.15 217.97,385.99 221.00,385.84 C224.03,385.69 227.07,385.54 230.10,385.39 C233.13,385.25 236.17,385.11 239.20,384.97 C242.23,384.83 245.27,384.69 248.30,384.56 C251.33,384.43 254.37,384.30 257.40,384.17 C260.43,384.05 263.47,383.92 266.50,383.80" stroke="#f47c45" stroke-width="0.8" fill="none"/>
<path d="M38.9,526.2 L39.60,505.75 C42.43,493.90 45.27,478.77 48.10,470.20 C51.13,461.02 54.17,454.03 57.20,448.75 C60.23,443.47 63.27,439.24 66.30,436.20 C69.33,433.16 72.37,431.12 75.40,429.03 C78.43,426.94 81.47,425.14 84.50,423.47 C87.53,421.80 90.57,420.32 93.60,418.93 C96.63,417.54 99.67,416.28 102.70,415.09 C105.73,413.90 108.77,412.80 111.80,411.76 C114.83,410.72 117.87,409.75 120.90,408.83 C123.93,407.90 126.97,406.91 130.00,406.20 C133.03,405.49 136.07,404.98 139.10,404.42 C142.13,403.85 145.17,403.31 148.20,402.79 C151.23,402.27 154.27,401.77 157.30,401.29 C160.33,400.81 163.37,400.35 166.40,399.90 C169.43,399.46 172.47,399.03 175.50,398.61 C178.53,398.20 181.57,397.79 184.60,397.40 C187.63,397.01 190.67,396.64 193.70,396.27 C196.73,395.90 199.77,395.53 202.80,395.20 C205.83,394.87 208.87,394.57 211.90,394.26 C214.93,393.96 217.97,393.66 221.00,393.37 C224.03,393.08 227.07,392.80 230.10,392.52 C233.13,392.24 236.17,391.98 239.20,391.71 C242.23,391.45 245.27,391.19 248.30,390.94 C251.33,390.69 254.37,390.42 257.40,390.20 C260.43,389.98 263.47,389.79 266.50,389.60 C269.53,389.40 272.57,389.21 275.60,389.02 C278.63,388.83 281.67,388.64 284.70,388.46 C287.73,388.27 290.77,388.10 293.80,387.92 C296.83,387.74 299.87,387.57 302.90,387.40 C305.93,387.23 308.97,387.06 312.00,386.90 C315.03,386.73 318.07,386.57 321.10,386.41 C324.13,386.25 327.17,386.10 330.20,385.94 C333.23,385.79 336.27,385.64 339.30,385.49 C342.33,385.34 345.37,385.19 348.40,385.05 C351.43,384.90 354.47,384.76 357.50,384.62 C360.53,384.48 363.57,384.34 366.60,384.20" stroke="#f47c45" stroke-width="0.8" fill="none"/>
<path d="M38.9,526.2 L39.60,515.30 C42.43,502.27 45.27,485.40 48.10,476.20 C51.13,466.35 54.17,459.08 57.20,453.49 C60.23,447.90 63.27,443.44 66.30,440.20 C69.33,436.96 72.37,434.78 75.40,432.55 C78.43,430.33 81.47,428.40 84.50,426.62 C87.53,424.85 90.57,423.26 93.60,421.78 C96.63,420.30 99.67,418.95 102.70,417.68 C105.73,416.41 108.77,415.24 111.80,414.13 C114.83,413.02 117.87,411.99 120.90,411.00 C123.93,410.01 126.97,408.90 130.00,408.20 C133.03,407.50 136.07,407.05 139.10,406.51 C142.13,405.98 145.17,405.47 148.20,404.97 C151.23,404.48 154.27,404.01 157.30,403.56 C160.33,403.10 163.37,402.67 166.40,402.25 C169.43,401.83 172.47,401.42 175.50,401.03 C178.53,400.63 181.57,400.25 184.60,399.88 C187.63,399.52 190.67,399.16 193.70,398.81 C196.73,398.46 199.77,397.98 202.80,397.80 C205.83,397.62 208.87,397.54 211.90,397.42 C214.93,397.29 217.97,397.17 221.00,397.06 C224.03,396.94 227.07,396.82 230.10,396.71 C233.13,396.60 236.17,396.49 239.20,396.38 C242.23,396.27 245.27,396.17 248.30,396.07 C251.33,395.96 254.37,395.86 257.40,395.77 C260.43,395.67 263.47,395.57 266.50,395.48 C269.53,395.38 272.57,395.29 275.60,395.20" stroke="#f47c45" stroke-width="0.8" fill="none"/>
<path d="M38.9,526.2 L39.60,499.85 C42.43,493.30 45.27,486.81 48.10,480.20 C51.13,473.12 54.17,464.03 57.20,458.75 C60.23,453.47 63.27,449.24 66.30,446.20 C69.33,443.16 72.37,441.12 75.40,439.03 C78.43,436.94 81.47,435.14 84.50,433.47 C87.53,431.80 90.57,430.32 93.60,428.93 C96.63,427.54 99.67,426.28 102.70,425.09 C105.73,423.90 108.77,422.80 111.80,421.76 C114.83,420.72 117.87,419.75 120.90,418.83 C123.93,417.90 126.97,416.83 130.00,416.20 C133.03,415.57 136.07,415.20 139.10,414.74 C142.13,414.28 145.17,413.83 148.20,413.41 C151.23,412.98 154.27,412.58 157.30,412.18 C160.33,411.79 163.37,411.41 166.40,411.05 C169.43,410.68 172.47,410.33 175.50,409.99 C178.53,409.65 181.57,409.32 184.60,409.00 C187.63,408.68 190.67,408.38 193.70,408.08 C196.73,407.77 199.77,407.45 202.80,407.20 C205.83,406.95 208.87,406.74 211.90,406.52 C214.93,406.30 217.97,406.09 221.00,405.88 C224.03,405.67 227.07,405.47 230.10,405.27 C233.13,405.07 236.17,404.88 239.20,404.69 C242.23,404.50 245.27,404.31 248.30,404.13 C251.33,403.95 254.37,403.78 257.40,403.60 C260.43,403.42 263.47,403.24 266.50,403.06 C269.53,402.89 272.57,402.71 275.60,402.54 C278.63,402.38 281.67,402.21 284.70,402.05 C287.73,401.88 290.77,401.72 293.80,401.57 C296.83,401.41 299.87,401.26 302.90,401.11 C305.93,400.95 308.97,400.80 312.00,400.66 C315.03,400.51 318.07,400.37 321.10,400.23 C324.13,400.08 327.17,399.95 330.20,399.81 C333.23,399.67 336.27,399.54 339.30,399.40 C342.33,399.27 345.37,399.14 348.40,399.01 C351.43,398.88 354.47,398.75 357.50,398.63 C360.53,398.50 363.57,398.38 366.60,398.26 C369.63,398.13 372.67,398.01 375.70,397.89 C378.73,397.78 381.77,397.66 384.80,397.54 C387.83,397.43 390.87,397.31 393.90,397.20" stroke="#f47c45" stroke-width="0.8" fill="none"/>
<path d="M38.9,526.2 L39.60,509.40 C42.43,501.66 45.27,493.14 48.10,486.20 C51.13,478.77 54.17,470.98 57.20,466.01 C60.23,461.04 63.27,457.17 66.30,454.20 C69.33,451.23 72.37,449.12 75.40,447.03 C78.43,444.94 81.47,443.14 84.50,441.47 C87.53,439.80 90.57,438.32 93.60,436.93 C96.63,435.54 99.67,434.28 102.70,433.09 C105.73,431.90 108.77,430.80 111.80,429.76 C114.83,428.72 117.87,427.75 120.90,426.83 C123.93,425.90 126.97,424.88 130.00,424.20 C133.03,423.52 136.07,423.05 139.10,422.51 C142.13,421.98 145.17,421.47 148.20,420.97 C151.23,420.48 154.27,420.01 157.30,419.56 C160.33,419.10 163.37,418.67 166.40,418.25 C169.43,417.83 172.47,417.42 175.50,417.03 C178.53,416.63 181.57,416.25 184.60,415.88 C187.63,415.52 190.67,415.16 193.70,414.81 C196.73,414.46 199.77,414.05 202.80,413.80 C205.83,413.55 208.87,413.39 211.90,413.20 C214.93,413.00 217.97,412.81 221.00,412.63 C224.03,412.44 227.07,412.26 230.10,412.09 C233.13,411.91 236.17,411.74 239.20,411.57 C242.23,411.40 245.27,411.23 248.30,411.07 C251.33,410.91 254.37,410.77 257.40,410.60 C260.43,410.43 263.47,410.22 266.50,410.03 C269.53,409.85 272.57,409.66 275.60,409.49 C278.63,409.31 281.67,409.13 284.70,408.96 C287.73,408.79 290.77,408.62 293.80,408.45 C296.83,408.29 299.87,408.12 302.90,407.96 C305.93,407.80 308.97,407.65 312.00,407.49 C315.03,407.34 318.07,407.19 321.10,407.04 C324.13,406.89 327.17,406.74 330.20,406.59 C333.23,406.45 336.27,406.31 339.30,406.16 C342.33,406.02 345.37,405.89 348.40,405.75 C351.43,405.61 354.47,405.48 357.50,405.35 C360.53,405.21 363.57,405.08 366.60,404.95 C369.63,404.82 372.67,404.70 375.70,404.57 C378.73,404.45 381.77,404.32 384.80,404.20" stroke="#f47c45" stroke-width="0.8" fill="none"/>
<path d="M38.9,526.2 L39.60,518.95 C42.43,506.70 45.27,490.87 48.10,482.20 C51.13,472.91 54.17,466.03 57.20,460.75 C60.23,455.47 63.27,450.66 66.30,448.20 C69.33,445.74 72.37,444.49 75.40,442.96 C78.43,441.44 81.47,440.12 84.50,438.90 C87.53,437.68 90.57,436.60 93.60,435.58 C96.63,434.57 99.67,433.64 102.70,432.78 C105.73,431.91 108.77,431.10 111.80,430.34 C114.83,429.58 117.87,428.78 120.90,428.20 C123.93,427.62 126.97,427.20 130.00,426.74 C133.03,426.27 136.07,425.83 139.10,425.41 C142.13,424.99 145.17,424.59 148.20,424.20 C151.23,423.81 154.27,423.44 157.30,423.09 C160.33,422.73 163.37,422.39 166.40,422.06 C169.43,421.73 172.47,421.41 175.50,421.10 C178.53,420.79 181.57,420.50 184.60,420.20" stroke="#f47c45" stroke-width="0.8" fill="none"/>
<path d="M38.9,526.2 L39.60,503.49 C42.43,497.06 45.27,490.93 48.10,484.20 C51.13,476.99 54.17,467.08 57.20,461.49 C60.23,455.90 63.27,450.62 66.30,448.20 C69.33,445.78 72.37,444.67 75.40,443.22 C78.43,441.77 81.47,440.51 84.50,439.36 C87.53,438.20 90.57,437.16 93.60,436.20 C96.63,435.24 99.67,434.36 102.70,433.53 C105.73,432.71 108.77,431.94 111.80,431.22 C114.83,430.50 117.87,429.82 120.90,429.18 C123.93,428.54 126.97,427.93 130.00,427.36 C133.03,426.78 136.07,426.23 139.10,425.71 C142.13,425.18 145.17,424.70 148.20,424.20" stroke="#f47c45" stroke-width="0.8" fill="none"/>
<path d="M38.9,526.2 L39.60,513.04 C42.43,504.76 45.27,495.60 48.10,488.20 C51.13,480.27 54.17,472.03 57.20,466.75 C60.23,461.47 63.27,456.99 66.30,454.20 C69.33,451.41 72.37,449.75 75.40,447.92 C78.43,446.09 81.47,444.50 84.50,443.04 C87.53,441.58 90.57,440.27 93.60,439.06 C96.63,437.84 99.67,436.73 102.70,435.69 C105.73,434.65 108.77,433.68 111.80,432.77 C114.83,431.86 117.87,431.06 120.90,430.20" stroke="#f47c45" stroke-width="0.8" fill="none"/>
<path d="M38.9,526.2 L39.60,497.59 C42.43,491.13 45.27,484.77 48.10,478.20 C51.13,471.17 54.17,462.03 57.20,456.75 C60.23,451.47 63.27,446.67 66.30,444.20 C69.33,441.73 72.37,440.47 75.40,438.94 C78.43,437.41 81.47,436.09 84.50,434.87 C87.53,433.64 90.57,432.55 93.60,431.53 C96.63,430.52 99.67,429.59 102.70,428.72 C105.73,427.85 108.77,427.04 111.80,426.28 C114.83,425.52 117.87,424.80 120.90,424.13 C123.93,423.45 126.97,422.67 130.00,422.20 C133.03,421.73 136.07,421.45 139.10,421.10 C142.13,420.75 145.17,420.42 148.20,420.10 C151.23,419.77 154.27,419.47 157.30,419.17 C160.33,418.88 163.37,418.59 166.40,418.32 C169.43,418.04 172.47,417.78 175.50,417.52 C178.53,417.26 181.57,417.02 184.60,416.78 C187.63,416.53 190.67,416.30 193.70,416.08 C196.73,415.85 199.77,415.63 202.80,415.42 C205.83,415.20 208.87,414.99 211.90,414.79 C214.93,414.59 217.97,414.40 221.00,414.20" stroke="#f47c45" stroke-width="0.8" fill="none"/>
<path d="M38.9,526.2 L39.60,498.99 C42.43,490.72 45.27,481.60 48.10,474.20 C51.13,466.28 54.17,458.03 57.20,452.75 C60.23,447.47 63.27,442.67 66.30,440.20 C69.33,437.73 72.37,436.47 75.40,434.94 C78.43,433.41 81.47,432.09 84.50,430.87 C87.53,429.64 90.57,428.55 93.60,427.53 C96.63,426.52 99.67,425.59 102.70,424.72 C105.73,423.85 108.77,423.04 111.80,422.28 C114.83,421.52 117.87,420.80 120.90,420.13 C123.93,419.45 126.97,418.55 130.00,418.20 C133.03,417.85 136.07,417.70 139.10,417.47 C142.13,417.24 145.17,417.02 148.20,416.81 C151.23,416.60 154.27,416.40 157.30,416.20" stroke="#f47c45" stroke-width="0.8" fill="none"/>
<path d="M38.9,526.2 L39.60,507.14 C42.43,490.16 45.27,464.10 48.10,456.20 C51.13,447.74 54.17,443.83 57.20,439.80 C60.23,435.76 63.27,431.94 66.30,430.20 C69.33,428.46 72.37,427.66 75.40,426.62 C78.43,425.57 81.47,424.67 84.50,423.84 C87.53,423.00 90.57,422.26 93.60,421.56 C96.63,420.87 99.67,420.24 102.70,419.64 C105.73,419.05 108.77,418.50 111.80,417.98 C114.83,417.46 117.87,416.97 120.90,416.51 C123.93,416.05 126.97,415.66 130.00,415.20 C133.03,414.74 136.07,414.20 139.10,413.74 C142.13,413.28 145.17,412.83 148.20,412.41 C151.23,411.98 154.27,411.58 157.30,411.18 C160.33,410.79 163.37,410.41 166.40,410.05 C169.43,409.68 172.47,409.33 175.50,408.99 C178.53,408.65 181.57,408.32 184.60,408.00 C187.63,407.68 190.67,407.38 193.70,407.08 C196.73,406.77 199.77,406.49 202.80,406.20 C205.83,405.91 208.87,405.60 211.90,405.32 C214.93,405.03 217.97,404.75 221.00,404.48 C224.03,404.21 227.07,403.94 230.10,403.68 C233.13,403.43 236.17,403.17 239.20,402.93 C242.23,402.68 245.27,402.36 248.30,402.20 C251.33,402.04 254.37,401.95 257.40,401.83 C260.43,401.71 263.47,401.60 266.50,401.48 C269.53,401.37 272.57,401.25 275.60,401.14 C278.63,401.03 281.67,400.92 284.70,400.82 C287.73,400.71 290.77,400.61 293.80,400.50 C296.83,400.40 299.87,400.30 302.90,400.20" stroke="#5a64c8" stroke-width="0.8" fill="none"/>
<path d="M38.9,526.2 L39.60,516.69 C42.43,497.19 45.27,466.35 48.10,458.20 C51.13,449.48 54.17,445.83 57.20,441.80 C60.23,437.76 63.27,433.85 66.30,432.20 C69.33,430.55 72.37,429.83 75.40,428.85 C78.43,427.88 81.47,427.04 84.50,426.26 C87.53,425.48 90.57,424.79 93.60,424.14 C96.63,423.49 99.67,422.90 102.70,422.35 C105.73,421.79 108.77,421.28 111.80,420.79 C114.83,420.31 117.87,419.86 120.90,419.43 C123.93,418.99 126.97,418.56 130.00,418.20 C133.03,417.84 136.07,417.54 139.10,417.23 C142.13,416.92 145.17,416.62 148.20,416.34 C151.23,416.06 154.27,415.78 157.30,415.52 C160.33,415.26 163.37,415.01 166.40,414.77 C169.43,414.52 172.47,414.29 175.50,414.06 C178.53,413.83 181.57,413.62 184.60,413.40 C187.63,413.19 190.67,412.98 193.70,412.78 C196.73,412.58 199.77,412.24 202.80,412.20 C205.83,412.16 208.87,412.16 211.90,412.13 C214.93,412.11 217.97,412.09 221.00,412.07 C224.03,412.05 227.07,412.03 230.10,412.01 C233.13,411.99 236.17,411.97 239.20,411.96 C242.23,411.94 245.27,411.92 248.30,411.90 C251.33,411.88 254.37,411.87 257.40,411.85 C260.43,411.83 263.47,411.82 266.50,411.80" stroke="#5a64c8" stroke-width="0.8" fill="none"/>
<path d="M38.9,526.2 L39.60,501.24 C42.43,487.56 45.27,467.68 48.10,460.20 C51.13,452.20 54.17,447.83 57.20,443.80 C60.23,439.76 63.27,435.85 66.30,434.20 C69.33,432.55 72.37,431.83 75.40,430.85 C78.43,429.88 81.47,429.04 84.50,428.26 C87.53,427.48 90.57,426.79 93.60,426.14 C96.63,425.49 99.67,424.90 102.70,424.35 C105.73,423.79 108.77,423.28 111.80,422.79 C114.83,422.31 117.87,421.86 120.90,421.43 C123.93,420.99 126.97,420.64 130.00,420.20 C133.03,419.76 136.07,419.23 139.10,418.77 C142.13,418.32 145.17,417.89 148.20,417.47 C151.23,417.05 154.27,416.66 157.30,416.27 C160.33,415.89 163.37,415.52 166.40,415.16 C169.43,414.81 172.47,414.46 175.50,414.13 C178.53,413.80 181.57,413.48 184.60,413.16 C187.63,412.85 190.67,412.55 193.70,412.26 C196.73,411.96 199.77,411.59 202.80,411.40 C205.83,411.21 208.87,411.12 211.90,410.99 C214.93,410.85 217.97,410.72 221.00,410.59 C224.03,410.47 227.07,410.34 230.10,410.22 C233.13,410.10 236.17,409.98 239.20,409.87 C242.23,409.75 245.27,409.64 248.30,409.53 C251.33,409.41 254.37,409.31 257.40,409.20" stroke="#5a64c8" stroke-width="0.8" fill="none"/>
<path d="M38.9,526.2 L39.60,510.79 C42.43,494.59 45.27,469.55 48.10,462.20 C51.13,454.33 54.17,450.78 57.20,447.06 C60.23,443.33 63.27,439.90 66.30,438.20 C69.33,436.50 72.37,435.66 75.40,434.62 C78.43,433.57 81.47,432.67 84.50,431.84 C87.53,431.00 90.57,430.26 93.60,429.56 C96.63,428.87 99.67,428.24 102.70,427.64 C105.73,427.05 108.77,426.50 111.80,425.98 C114.83,425.46 117.87,424.97 120.90,424.51 C123.93,424.05 126.97,423.66 130.00,423.20 C133.03,422.74 136.07,422.20 139.10,421.74 C142.13,421.28 145.17,420.83 148.20,420.41 C151.23,419.98 154.27,419.58 157.30,419.18 C160.33,418.79 163.37,418.41 166.40,418.05 C169.43,417.68 172.47,417.33 175.50,416.99 C178.53,416.65 181.57,416.32 184.60,416.00 C187.63,415.68 190.67,415.38 193.70,415.08 C196.73,414.77 199.77,414.25 202.80,414.20 C205.83,414.15 208.87,414.14 211.90,414.11 C214.93,414.08 217.97,414.06 221.00,414.03 C224.03,414.00 227.07,413.97 230.10,413.95 C233.13,413.92 236.17,413.90 239.20,413.87 C242.23,413.85 245.27,413.82 248.30,413.80" stroke="#5a64c8" stroke-width="0.8" fill="none"/>
<path d="M38.9,526.2 L39.60,520.34 C42.43,502.29 45.27,473.73 48.10,466.20 C51.13,458.14 54.17,454.78 57.20,451.06 C60.23,447.33 63.27,443.98 66.30,442.20 C69.33,440.42 72.37,439.49 75.40,438.38 C78.43,437.26 81.47,436.30 84.50,435.41 C87.53,434.52 90.57,433.73 93.60,432.99 C96.63,432.25 99.67,431.57 102.70,430.94 C105.73,430.31 108.77,429.72 111.80,429.17 C114.83,428.61 117.87,428.09 120.90,427.60 C123.93,427.11 126.97,426.62 130.00,426.20 C133.03,425.78 136.07,425.43 139.10,425.07 C142.13,424.71 145.17,424.37 148.20,424.04 C151.23,423.71 154.27,423.40 157.30,423.09 C160.33,422.79 163.37,422.50 166.40,422.22 C169.43,421.93 172.47,421.66 175.50,421.40 C178.53,421.14 181.57,420.88 184.60,420.63 C187.63,420.39 190.67,420.15 193.70,419.92 C196.73,419.68 199.77,419.46 202.80,419.24 C205.83,419.02 208.87,418.81 211.90,418.60" stroke="#5a64c8" stroke-width="0.8" fill="none"/>
<path d="M38.9,526.2 L39.60,504.89 C42.43,493.99 45.27,478.89 48.10,472.20 C51.13,465.04 54.17,458.47 57.20,456.80 C60.23,455.13 63.27,454.77 66.30,453.80 C69.33,452.83 72.37,452.02 75.40,451.00 C78.43,449.98 81.47,448.26 84.50,447.60 C87.53,446.94 90.57,446.75 93.60,446.20 C96.63,445.65 99.67,444.87 102.70,444.20 C105.73,443.53 108.77,442.48 111.80,442.20 C114.83,441.92 117.87,441.84 120.90,441.67 C123.93,441.51 126.97,441.36 130.00,441.20" stroke="#5a64c8" stroke-width="0.8" fill="none"/>
<path d="M38.9,526.2 L39.60,514.44 C42.43,497.02 45.27,469.17 48.10,462.20 C51.13,454.74 54.17,451.73 57.20,448.32 C60.23,444.90 63.27,441.75 66.30,440.20 C69.33,438.65 72.37,437.90 75.40,436.95 C78.43,436.00 81.47,435.19 84.50,434.43 C87.53,433.67 90.57,433.00 93.60,432.37 C96.63,431.74 99.67,431.17 102.70,430.63 C105.73,430.09 108.77,429.59 111.80,429.12 C114.83,428.65 117.87,428.21 120.90,427.79 C123.93,427.37 126.97,427.00 130.00,426.60" stroke="#5a64c8" stroke-width="0.8" fill="none"/>
<path d="M38.9,526.2 L39.60,508.54 C42.43,485.09 45.27,441.86 48.10,438.20 C51.13,434.28 54.17,433.44 57.20,431.89 C60.23,430.34 63.27,429.09 66.30,428.20 C69.33,427.31 72.37,426.72 75.40,426.11 C78.43,425.50 81.47,424.97 84.50,424.48 C87.53,423.99 90.57,423.56 93.60,423.15 C96.63,422.75 99.67,422.38 102.70,422.03 C105.73,421.68 108.77,421.36 111.80,421.06 C114.83,420.75 117.87,420.46 120.90,420.20 C123.93,419.94 126.97,419.70 130.00,419.47 C133.03,419.24 136.07,419.02 139.10,418.80 C142.13,418.59 145.17,418.40 148.20,418.20" stroke="#3cc8d4" stroke-width="0.8" fill="none"/>
<path d="M38.9,526.2 L39.60,518.08 C42.43,487.46 45.27,429.58 48.10,426.20 C51.13,422.58 54.17,421.92 57.20,420.52 C60.23,419.12 63.27,418.32 66.30,417.20 C69.33,416.08 72.37,414.81 75.40,413.82 C78.43,412.84 81.47,411.66 84.50,411.20 C87.53,410.74 90.57,410.55 93.60,410.27 C96.63,409.99 99.67,409.73 102.70,409.48 C105.73,409.24 108.77,409.01 111.80,408.80 C114.83,408.59 117.87,408.45 120.90,408.20 C123.93,407.95 126.97,407.53 130.00,407.20" stroke="#3cc8d4" stroke-width="0.8" fill="none"/>
<path d="M38.9,526.2 L39.60,502.63 C42.43,478.49 45.27,433.53 48.10,430.20 C51.13,426.64 54.17,425.92 57.20,424.52 C60.23,423.12 63.27,422.32 66.30,421.20 C69.33,420.08 72.37,418.81 75.40,417.82 C78.43,416.84 81.47,415.66 84.50,415.20 C87.53,414.74 90.57,414.55 93.60,414.27 C96.63,413.99 99.67,413.73 102.70,413.48 C105.73,413.24 108.77,413.01 111.80,412.80 C114.83,412.59 117.87,412.40 120.90,412.20" stroke="#3cc8d4" stroke-width="0.8" fill="none"/>
<path d="M38.9,526.2 L39.60,512.18 C42.43,486.19 45.27,437.54 48.10,434.20 C51.13,430.62 54.17,429.92 57.20,428.52 C60.23,427.12 63.27,426.32 66.30,425.20 C69.33,424.08 72.37,422.81 75.40,421.82 C78.43,420.84 81.47,419.76 84.50,419.20 C87.53,418.64 90.57,418.34 93.60,417.96 C96.63,417.58 99.67,417.23 102.70,416.91 C105.73,416.59 108.77,416.29 111.80,416.00 C114.83,415.72 117.87,415.41 120.90,415.20 C123.93,414.99 126.97,414.84 130.00,414.67 C133.03,414.51 136.07,414.36 139.10,414.20" stroke="#3cc8d4" stroke-width="0.8" fill="none"/>
<path d="M38.9,526.2 L39.60,496.73 C42.43,477.22 45.27,441.80 48.10,438.20 C51.13,434.34 54.17,433.44 57.20,431.89 C60.23,430.34 63.27,429.38 66.30,428.20 C69.33,427.02 72.37,425.81 75.40,424.82 C78.43,423.84 81.47,422.74 84.50,422.20 C87.53,421.66 90.57,421.39 93.60,421.04 C96.63,420.68 99.67,420.36 102.70,420.05 C105.73,419.75 108.77,419.48 111.80,419.20" stroke="#3cc8d4" stroke-width="0.8" fill="none"/>
<path d="M38.9,526.2 L39.60,506.28 C42.43,484.92 45.27,445.83 48.10,442.20 C51.13,438.31 54.17,437.44 57.20,435.89 C60.23,434.34 63.27,433.38 66.30,432.20 C69.33,431.02 72.37,429.81 75.40,428.82 C78.43,427.84 81.47,426.71 84.50,426.20 C87.53,425.69 90.57,425.45 93.60,425.12 C96.63,424.79 99.67,424.51 102.70,424.20" stroke="#3cc8d4" stroke-width="0.8" fill="none"/>
<path d="M38.9,526.2 L39.60,515.83 C42.43,491.95 45.27,447.87 48.10,444.20 C51.13,440.28 54.17,439.44 57.20,437.89 C60.23,436.34 63.27,435.26 66.30,434.20 C69.33,433.14 72.37,432.20 75.40,431.38 C78.43,430.56 81.47,429.80 84.50,429.20 C87.53,428.60 90.57,428.12 93.60,427.65 C96.63,427.18 99.67,426.74 102.70,426.34 C105.73,425.93 108.77,425.56 111.80,425.20 C114.83,424.85 117.87,424.53 120.90,424.20" stroke="#3cc8d4" stroke-width="0.8" fill="none"/>
<path d="M38.9,526.2 L39.60,500.38 C42.43,474.32 45.27,425.19 48.10,422.20 C51.13,418.99 54.17,418.39 57.20,417.15 C60.23,415.91 63.27,415.16 66.30,414.20 C69.33,413.24 72.37,412.20 75.40,411.38 C78.43,410.56 81.47,409.64 84.50,409.20 C87.53,408.76 90.57,408.55 93.60,408.27 C96.63,407.99 99.67,407.73 102.70,407.48 C105.73,407.24 108.77,407.01 111.80,406.80 C114.83,406.59 117.87,406.39 120.90,406.20 C123.93,406.01 126.97,405.84 130.00,405.67 C133.03,405.51 136.07,405.36 139.10,405.20" stroke="#24a062" stroke-width="0.8" fill="none"/>
<path d="M38.9,526.2 L39.60,509.93 C42.43,482.69 45.27,431.55 48.10,428.20 C51.13,424.61 54.17,423.92 57.20,422.52 C60.23,421.12 63.27,420.22 66.30,419.20 C69.33,418.18 72.37,417.20 75.40,416.38 C78.43,415.56 81.47,414.64 84.50,414.20 C87.53,413.76 90.57,413.55 93.60,413.27 C96.63,412.99 99.67,412.73 102.70,412.48 C105.73,412.24 108.77,412.01 111.80,411.80 C114.83,411.59 117.87,411.38 120.90,411.20 C123.93,411.02 126.97,410.87 130.00,410.72 C133.03,410.57 136.07,410.43 139.10,410.29 C142.13,410.15 145.17,410.02 148.20,409.90 C151.23,409.77 154.27,409.65 157.30,409.54 C160.33,409.42 163.37,409.31 166.40,409.20" stroke="#24a062" stroke-width="0.8" fill="none"/>
<path d="M38.9,526.2 L39.60,519.48 C42.43,489.72 45.27,433.22 48.10,430.20 C51.13,426.97 54.17,426.39 57.20,425.15 C60.23,423.91 63.27,423.16 66.30,422.20 C69.33,421.24 72.37,420.20 75.40,419.38 C78.43,418.56 81.47,417.64 84.50,417.20 C87.53,416.76 90.57,416.55 93.60,416.27 C96.63,415.99 99.67,415.73 102.70,415.48 C105.73,415.24 108.77,415.01 111.80,414.80 C114.83,414.59 117.87,414.40 120.90,414.20" stroke="#24a062" stroke-width="0.8" fill="none"/>
<path d="M38.9,526.2 L39.60,504.03 C42.43,480.75 45.27,437.52 48.10,434.20 C51.13,430.65 54.17,429.92 57.20,428.52 C60.23,427.12 63.27,426.22 66.30,425.20 C69.33,424.18 72.37,423.20 75.40,422.38 C78.43,421.56 81.47,420.73 84.50,420.20 C87.53,419.67 90.57,419.34 93.60,418.96 C96.63,418.58 99.67,418.23 102.70,417.91 C105.73,417.59 108.77,417.29 111.80,417.00 C114.83,416.72 117.87,416.50 120.90,416.20 C123.93,415.90 126.97,415.53 130.00,415.20" stroke="#24a062" stroke-width="0.8" fill="none"/>
<path d="M38.9,526.2 L39.60,513.58 C42.43,487.78 45.27,439.19 48.10,436.20 C51.13,433.00 54.17,432.39 57.20,431.15 C60.23,429.91 63.27,429.16 66.30,428.20 C69.33,427.24 72.37,426.20 75.40,425.38 C78.43,424.56 81.47,423.71 84.50,423.20 C87.53,422.69 90.57,422.39 93.60,422.04 C96.63,421.68 99.67,421.36 102.70,421.05 C105.73,420.75 108.77,420.48 111.80,420.20" stroke="#24a062" stroke-width="0.8" fill="none"/>
<path d="M38.9,526.2 L39.60,505.42 C42.43,463.68 45.27,381.44 48.10,380.20 C51.13,378.87 54.17,378.75 57.20,378.20 C60.23,377.65 63.27,377.27 66.30,376.80 C69.33,376.33 72.37,375.40 75.40,375.40 C78.43,375.40 81.47,375.43 84.50,375.45 C87.53,375.46 90.57,375.48 93.60,375.49 C96.63,375.50 99.67,375.51 102.70,375.52 C105.73,375.53 108.77,375.54 111.80,375.55 C114.83,375.56 117.87,375.57 120.90,375.58 C123.93,375.59 126.97,375.59 130.00,375.60" stroke="#de58bc" stroke-width="0.8" fill="none"/>
<path d="M38.9,526.2 L39.60,514.97 C42.43,472.71 45.27,391.82 48.10,388.20 C51.13,384.33 54.17,383.53 57.20,382.20 C60.23,380.87 63.27,380.00 66.30,379.20 C69.33,378.40 72.37,377.64 75.40,377.20 C78.43,376.76 81.47,376.53 84.50,376.20" stroke="#de58bc" stroke-width="0.8" fill="none"/>
<path d="M38.9,526.2 L39.60,499.52 C42.43,465.08 45.27,400.01 48.10,396.20 C51.13,392.13 54.17,391.16 57.20,389.80 C60.23,388.44 63.27,387.65 66.30,386.80 C69.33,385.95 72.37,385.33 75.40,384.60" stroke="#de58bc" stroke-width="0.8" fill="none"/>
<path d="M38.9,526.2 L39.60,509.07 C42.43,476.11 45.27,413.20 48.10,410.20 C51.13,406.98 54.17,407.14 57.20,405.20 C60.23,403.26 63.27,399.90 66.30,398.20 C69.33,396.50 72.37,395.20 75.40,394.20 C78.43,393.20 81.47,392.44 84.50,391.80 C87.53,391.16 90.57,390.73 93.60,390.20" stroke="#de58bc" stroke-width="0.8" fill="none"/>
<path d="M38.9,526.2 L39.60,518.62 C42.43,487.81 45.27,430.85 48.10,426.20 C51.13,421.22 54.17,419.98 57.20,418.20 C60.23,416.42 63.27,415.42 66.30,414.20 C69.33,412.98 72.37,411.81 75.40,410.82 C78.43,409.84 81.47,409.07 84.50,408.20" stroke="#de58bc" stroke-width="0.8" fill="none"/>
<path d="M38.9,526.2 L39.60,498.13 C42.43,470.82 45.27,418.85 48.10,416.20 C51.13,413.37 54.17,412.87 57.20,411.78 C60.23,410.70 63.27,409.88 66.30,409.20 C69.33,408.52 72.37,408.00 75.40,407.51 C78.43,407.02 81.47,406.56 84.50,406.20 C87.53,405.84 90.57,405.55 93.60,405.27 C96.63,404.99 99.67,404.73 102.70,404.48 C105.73,404.24 108.77,404.01 111.80,403.80 C114.83,403.59 117.87,403.37 120.90,403.20 C123.93,403.03 126.97,402.91 130.00,402.78 C133.03,402.64 136.07,402.52 139.10,402.39 C142.13,402.27 145.17,402.16 148.20,402.04 C151.23,401.93 154.27,401.83 157.30,401.72 C160.33,401.62 163.37,401.52 166.40,401.43 C169.43,401.33 172.47,401.24 175.50,401.15 C178.53,401.06 181.57,400.97 184.60,400.89 C187.63,400.81 190.67,400.73 193.70,400.65 C196.73,400.57 199.77,400.49 202.80,400.42 C205.83,400.34 208.87,400.27 211.90,400.20" stroke="#8e3a70" stroke-width="0.8" fill="none"/>
<path d="M38.9,526.2 L39.60,507.67 C42.43,478.52 45.27,422.85 48.10,420.20 C51.13,417.36 54.17,416.87 57.20,415.78 C60.23,414.70 63.27,414.00 66.30,413.20 C69.33,412.40 72.37,411.60 75.40,410.95 C78.43,410.29 81.47,409.68 84.50,409.20 C87.53,408.72 90.57,408.34 93.60,407.96 C96.63,407.58 99.67,407.23 102.70,406.91 C105.73,406.59 108.77,406.29 111.80,406.00 C114.83,405.72 117.87,405.42 120.90,405.20 C123.93,404.98 126.97,404.81 130.00,404.63 C133.03,404.45 136.07,404.27 139.10,404.11 C142.13,403.94 145.17,403.79 148.20,403.64 C151.23,403.48 154.27,403.35 157.30,403.20" stroke="#8e3a70" stroke-width="0.8" fill="none"/>
<path d="M38.9,526.2 L39.60,517.22 C42.43,486.22 45.27,426.86 48.10,424.20 C51.13,421.35 54.17,420.87 57.20,419.78 C60.23,418.70 63.27,418.10 66.30,417.20 C69.33,416.30 72.37,415.20 75.40,414.38 C78.43,413.56 81.47,412.73 84.50,412.20 C87.53,411.67 90.57,411.34 93.60,410.96 C96.63,410.58 99.67,410.23 102.70,409.91 C105.73,409.59 108.77,409.29 111.80,409.00 C114.83,408.72 117.87,408.38 120.90,408.20 C123.93,408.02 126.97,407.92 130.00,407.79 C133.03,407.66 136.07,407.53 139.10,407.41 C142.13,407.30 145.17,407.18 148.20,407.07 C151.23,406.96 154.27,406.86 157.30,406.76 C160.33,406.66 163.37,406.56 166.40,406.47 C169.43,406.38 172.47,406.29 175.50,406.20" stroke="#8e3a70" stroke-width="0.8" fill="none"/>
<path d="M38.9,526.2 L39.60,501.77 C42.43,477.25 45.27,430.83 48.10,428.20 C51.13,425.38 54.17,424.87 57.20,423.78 C60.23,422.70 63.27,422.10 66.30,421.20 C69.33,420.30 72.37,419.20 75.40,418.38 C78.43,417.56 81.47,416.73 84.50,416.20 C87.53,415.67 90.57,415.34 93.60,414.96 C96.63,414.58 99.67,414.23 102.70,413.91 C105.73,413.59 108.77,413.29 111.80,413.00 C114.83,412.72 117.87,412.41 120.90,412.20 C123.93,411.99 126.97,411.84 130.00,411.67 C133.03,411.51 136.07,411.36 139.10,411.20" stroke="#8e3a70" stroke-width="0.8" fill="none"/>
<path d="M38.9,526.2 L39.60,511.32 C42.43,484.95 45.27,434.84 48.10,432.20 C51.13,429.37 54.17,428.87 57.20,427.78 C60.23,426.70 63.27,426.10 66.30,425.20 C69.33,424.30 72.37,423.20 75.40,422.38 C78.43,421.56 81.47,420.73 84.50,420.20 C87.53,419.67 90.57,419.34 93.60,418.96 C96.63,418.58 99.67,418.23 102.70,417.91 C105.73,417.59 108.77,417.29 111.80,417.00 C114.83,416.72 117.87,416.47 120.90,416.20" stroke="#8e3a70" stroke-width="0.8" fill="none"/>
<path d="M38.9,526.2 L39.60,520.87 C42.43,492.65 45.27,438.85 48.10,436.20 C51.13,433.36 54.17,432.87 57.20,431.78 C60.23,430.70 63.27,430.10 66.30,429.20 C69.33,428.30 72.37,427.20 75.40,426.38 C78.43,425.56 81.47,424.80 84.50,424.20 C87.53,423.60 90.57,423.12 93.60,422.65 C96.63,422.18 99.67,421.74 102.70,421.34 C105.73,420.93 108.77,420.56 111.80,420.20 C114.83,419.85 117.87,419.48 120.90,419.20 C123.93,418.92 126.97,418.70 130.00,418.47 C133.03,418.24 136.07,418.02 139.10,417.80 C142.13,417.59 145.17,417.40 148.20,417.20" stroke="#8e3a70" stroke-width="0.8" fill="none"/>
<circle cx="39.60" cy="525.20" r="1.70" fill="#ee2020"/>
<circle cx="48.10" cy="487.20" r="1.70" fill="#ee2020"/>
<circle cx="57.20" cy="486.20" r="1.70" fill="#ee2020"/>
<circle cx="66.30" cy="484.20" r="1.70" fill="#ee2020"/>
<circle cx="39.60" cy="525.20" r="1.70" fill="#ee2020"/>
<circle cx="48.10" cy="490.20" r="1.70" fill="#ee2020"/>
<circle cx="57.20" cy="488.20" r="1.70" fill="#ee2020"/>
<circle cx="66.30" cy="486.20" r="1.70" fill="#ee2020"/>
<circle cx="39.60" cy="525.20" r="1.70" fill="#ee2020"/>
<circle cx="48.10" cy="492.20" r="1.70" fill="#ee2020"/>
<circle cx="57.20" cy="490.20" r="1.70" fill="#ee2020"/>
<circle cx="66.30" cy="488.20" r="1.70" fill="#ee2020"/>
<circle cx="39.60" cy="525.20" r="1.70" fill="#ee2020"/>
<circle cx="48.10" cy="488.20" r="1.70" fill="#ee2020"/>
<circle cx="57.20" cy="486.20" r="1.70" fill="#ee2020"/>
<circle cx="66.30" cy="485.20" r="1.70" fill="#ee2020"/>
<circle cx="75.40" cy="484.20" r="1.70" fill="#ee2020"/>
<circle cx="84.50" cy="483.80" r="1.70" fill="#ee2020"/>
<circle cx="93.60" cy="482.80" r="1.70" fill="#ee2020"/>
<circle cx="102.70" cy="481.80" r="1.70" fill="#ee2020"/>
<circle cx="39.60" cy="526.20" r="1.70" fill="#9aa52a"/>
<circle cx="48.10" cy="498.20" r="1.70" fill="#9aa52a"/>
<circle cx="57.20" cy="495.20" r="1.70" fill="#9aa52a"/>
<circle cx="66.30" cy="493.80" r="1.70" fill="#9aa52a"/>
<circle cx="39.60" cy="526.20" r="1.70" fill="#9aa52a"/>
<circle cx="48.10" cy="519.20" r="1.70" fill="#9aa52a"/>
<circle cx="57.20" cy="512.20" r="1.70" fill="#9aa52a"/>
<circle cx="66.30" cy="504.20" r="1.70" fill="#9aa52a"/>
<circle cx="39.60" cy="526.20" r="1.70" fill="#9aa52a"/>
<circle cx="48.10" cy="526.20" r="1.70" fill="#9aa52a"/>
<path d="M37.75,504.96L41.45,508.66M37.75,508.66L41.45,504.96" stroke="#6e6e6e" stroke-width="0.7" fill="none"/>
<path d="M46.25,370.95L49.95,374.65M46.25,374.65L49.95,370.95" stroke="#6e6e6e" stroke-width="0.7" fill="none"/>
<path d="M55.35,365.35L59.05,369.05M55.35,369.05L59.05,365.35" stroke="#6e6e6e" stroke-width="0.7" fill="none"/>
<path d="M64.45,362.75L68.15,366.45M64.45,366.45L68.15,362.75" stroke="#6e6e6e" stroke-width="0.7" fill="none"/>
<path d="M73.55,360.75L77.25,364.45M73.55,364.45L77.25,360.75" stroke="#6e6e6e" stroke-width="0.7" fill="none"/>
<path d="M82.65,359.16L86.35,362.86M82.65,362.86L86.35,359.16" stroke="#6e6e6e" stroke-width="0.7" fill="none"/>
<path d="M91.75,357.85L95.45,361.55M91.75,361.55L95.45,357.85" stroke="#6e6e6e" stroke-width="0.7" fill="none"/>
<path d="M100.85,356.75L104.55,360.45M100.85,360.45L104.55,356.75" stroke="#6e6e6e" stroke-width="0.7" fill="none"/>
<path d="M109.95,356.50L113.65,360.20M109.95,360.20L113.65,356.50" stroke="#6e6e6e" stroke-width="0.7" fill="none"/>
<path d="M119.05,356.28L122.75,359.98M119.05,359.98L122.75,356.28" stroke="#6e6e6e" stroke-width="0.7" fill="none"/>
<path d="M128.15,356.09L131.85,359.79M128.15,359.79L131.85,356.09" stroke="#6e6e6e" stroke-width="0.7" fill="none"/>
<path d="M137.25,355.91L140.95,359.61M137.25,359.61L140.95,355.91" stroke="#6e6e6e" stroke-width="0.7" fill="none"/>
<path d="M146.35,355.75L150.05,359.45M146.35,359.45L150.05,355.75" stroke="#6e6e6e" stroke-width="0.7" fill="none"/>
<path d="M155.45,355.71L159.15,359.41M155.45,359.41L159.15,355.71" stroke="#6e6e6e" stroke-width="0.7" fill="none"/>
<path d="M164.55,355.68L168.25,359.38M164.55,359.38L168.25,355.68" stroke="#6e6e6e" stroke-width="0.7" fill="none"/>
<path d="M173.65,355.65L177.35,359.35M173.65,359.35L177.35,355.65" stroke="#6e6e6e" stroke-width="0.7" fill="none"/>
<path d="M182.75,355.62L186.45,359.32M182.75,359.32L186.45,355.62" stroke="#6e6e6e" stroke-width="0.7" fill="none"/>
<path d="M191.85,355.59L195.55,359.29M191.85,359.29L195.55,355.59" stroke="#6e6e6e" stroke-width="0.7" fill="none"/>
<path d="M200.95,355.57L204.65,359.27M200.95,359.27L204.65,355.57" stroke="#6e6e6e" stroke-width="0.7" fill="none"/>
<path d="M210.05,355.54L213.75,359.24M210.05,359.24L213.75,355.54" stroke="#6e6e6e" stroke-width="0.7" fill="none"/>
<path d="M219.15,355.52L222.85,359.22M219.15,359.22L222.85,355.52" stroke="#6e6e6e" stroke-width="0.7" fill="none"/>
<path d="M228.25,355.50L231.95,359.20M228.25,359.20L231.95,355.50" stroke="#6e6e6e" stroke-width="0.7" fill="none"/>
<path d="M237.35,355.48L241.05,359.18M237.35,359.18L241.05,355.48" stroke="#6e6e6e" stroke-width="0.7" fill="none"/>
<path d="M246.45,355.46L250.15,359.16M246.45,359.16L250.15,355.46" stroke="#6e6e6e" stroke-width="0.7" fill="none"/>
<path d="M255.55,355.44L259.25,359.14M255.55,359.14L259.25,355.44" stroke="#6e6e6e" stroke-width="0.7" fill="none"/>
<path d="M264.65,355.42L268.35,359.12M264.65,359.12L268.35,355.42" stroke="#6e6e6e" stroke-width="0.7" fill="none"/>
<path d="M273.75,355.40L277.45,359.10M273.75,359.10L277.45,355.40" stroke="#6e6e6e" stroke-width="0.7" fill="none"/>
<path d="M282.85,355.38L286.55,359.08M282.85,359.08L286.55,355.38" stroke="#6e6e6e" stroke-width="0.7" fill="none"/>
<path d="M291.95,355.37L295.65,359.07M291.95,359.07L295.65,355.37" stroke="#6e6e6e" stroke-width="0.7" fill="none"/>
<path d="M301.05,355.35L304.75,359.05M301.05,359.05L304.75,355.35" stroke="#6e6e6e" stroke-width="0.7" fill="none"/>
<path d="M37.75,514.51L41.45,518.21M37.75,518.21L41.45,514.51" stroke="#6e6e6e" stroke-width="0.7" fill="none"/>
<path d="M46.25,373.35L49.95,377.05M46.25,377.05L49.95,373.35" stroke="#6e6e6e" stroke-width="0.7" fill="none"/>
<path d="M55.35,370.35L59.05,374.05M55.35,374.05L59.05,370.35" stroke="#6e6e6e" stroke-width="0.7" fill="none"/>
<path d="M64.45,367.35L68.15,371.05M64.45,371.05L68.15,367.35" stroke="#6e6e6e" stroke-width="0.7" fill="none"/>
<path d="M73.55,364.75L77.25,368.45M73.55,368.45L77.25,364.75" stroke="#6e6e6e" stroke-width="0.7" fill="none"/>
<path d="M82.65,362.20L86.35,365.90M82.65,365.90L86.35,362.20" stroke="#6e6e6e" stroke-width="0.7" fill="none"/>
<path d="M91.75,360.11L95.45,363.81M91.75,363.81L95.45,360.11" stroke="#6e6e6e" stroke-width="0.7" fill="none"/>
<path d="M100.85,358.35L104.55,362.05M100.85,362.05L104.55,358.35" stroke="#6e6e6e" stroke-width="0.7" fill="none"/>
<path d="M109.95,358.17L113.65,361.87M109.95,361.87L113.65,358.17" stroke="#6e6e6e" stroke-width="0.7" fill="none"/>
<path d="M119.05,358.02L122.75,361.72M119.05,361.72L122.75,358.02" stroke="#6e6e6e" stroke-width="0.7" fill="none"/>
<path d="M128.15,357.88L131.85,361.58M128.15,361.58L131.85,357.88" stroke="#6e6e6e" stroke-width="0.7" fill="none"/>
<path d="M137.25,357.75L140.95,361.45M137.25,361.45L140.95,357.75" stroke="#6e6e6e" stroke-width="0.7" fill="none"/>
<path d="M37.75,499.06L41.45,502.76M37.75,502.76L41.45,499.06" stroke="#6e6e6e" stroke-width="0.7" fill="none"/>
<path d="M46.25,374.35L49.95,378.05M46.25,378.05L49.95,374.35" stroke="#6e6e6e" stroke-width="0.7" fill="none"/>
<path d="M55.35,372.95L59.05,376.65M55.35,376.65L59.05,372.95" stroke="#6e6e6e" stroke-width="0.7" fill="none"/>
<path d="M64.45,369.55L68.15,373.25M64.45,373.25L68.15,369.55" stroke="#6e6e6e" stroke-width="0.7" fill="none"/>
<path d="M73.55,366.55L77.25,370.25M73.55,370.25L77.25,366.55" stroke="#6e6e6e" stroke-width="0.7" fill="none"/>
<path d="M82.65,364.24L86.35,367.94M82.65,367.94L86.35,364.24" stroke="#6e6e6e" stroke-width="0.7" fill="none"/>
<path d="M91.75,362.35L95.45,366.05M91.75,366.05L95.45,362.35" stroke="#6e6e6e" stroke-width="0.7" fill="none"/>
<path d="M100.85,360.75L104.55,364.45M100.85,364.45L104.55,360.75" stroke="#6e6e6e" stroke-width="0.7" fill="none"/>
<path d="M109.95,360.65L113.65,364.35M109.95,364.35L113.65,360.65" stroke="#6e6e6e" stroke-width="0.7" fill="none"/>
<path d="M119.05,360.56L122.75,364.26M119.05,364.26L122.75,360.56" stroke="#6e6e6e" stroke-width="0.7" fill="none"/>
<path d="M128.15,360.49L131.85,364.19M128.15,364.19L131.85,360.49" stroke="#6e6e6e" stroke-width="0.7" fill="none"/>
<path d="M137.25,360.41L140.95,364.11M137.25,364.11L140.95,360.41" stroke="#6e6e6e" stroke-width="0.7" fill="none"/>
<path d="M146.35,360.35L150.05,364.05M146.35,364.05L150.05,360.35" stroke="#6e6e6e" stroke-width="0.7" fill="none"/>
<path d="M37.75,508.61L41.45,512.31M37.75,512.31L41.45,508.61" stroke="#6e6e6e" stroke-width="0.7" fill="none"/>
<path d="M46.25,375.35L49.95,379.05M46.25,379.05L49.95,375.35" stroke="#6e6e6e" stroke-width="0.7" fill="none"/>
<path d="M55.35,373.95L59.05,377.65M55.35,377.65L59.05,373.95" stroke="#6e6e6e" stroke-width="0.7" fill="none"/>
<path d="M64.45,370.75L68.15,374.45M64.45,374.45L68.15,370.75" stroke="#6e6e6e" stroke-width="0.7" fill="none"/>
<path d="M73.55,368.35L77.25,372.05M73.55,372.05L77.25,368.35" stroke="#6e6e6e" stroke-width="0.7" fill="none"/>
<path d="M82.65,366.68L86.35,370.38M82.65,370.38L86.35,366.68" stroke="#6e6e6e" stroke-width="0.7" fill="none"/>
<path d="M91.75,365.31L95.45,369.01M91.75,369.01L95.45,365.31" stroke="#6e6e6e" stroke-width="0.7" fill="none"/>
<path d="M100.85,364.15L104.55,367.85M100.85,367.85L104.55,364.15" stroke="#6e6e6e" stroke-width="0.7" fill="none"/>
<path d="M109.95,363.98L113.65,367.68M109.95,367.68L113.65,363.98" stroke="#6e6e6e" stroke-width="0.7" fill="none"/>
<path d="M119.05,363.83L122.75,367.53M119.05,367.53L122.75,363.83" stroke="#6e6e6e" stroke-width="0.7" fill="none"/>
<path d="M128.15,363.69L131.85,367.39M128.15,367.39L131.85,363.69" stroke="#6e6e6e" stroke-width="0.7" fill="none"/>
<path d="M137.25,363.57L140.95,367.27M137.25,367.27L140.95,363.57" stroke="#6e6e6e" stroke-width="0.7" fill="none"/>
<path d="M146.35,363.45L150.05,367.15M146.35,367.15L150.05,363.45" stroke="#6e6e6e" stroke-width="0.7" fill="none"/>
<path d="M155.45,363.35L159.15,367.05M155.45,367.05L159.15,363.35" stroke="#6e6e6e" stroke-width="0.7" fill="none"/>
<path d="M37.75,518.16L41.45,521.86M37.75,521.86L41.45,518.16" stroke="#6e6e6e" stroke-width="0.7" fill="none"/>
<path d="M46.25,375.95L49.95,379.65M46.25,379.65L49.95,375.95" stroke="#6e6e6e" stroke-width="0.7" fill="none"/>
<path d="M55.35,374.75L59.05,378.45M55.35,378.45L59.05,374.75" stroke="#6e6e6e" stroke-width="0.7" fill="none"/>
<path d="M64.45,372.35L68.15,376.05M64.45,376.05L68.15,372.35" stroke="#6e6e6e" stroke-width="0.7" fill="none"/>
<path d="M73.55,370.38L77.25,374.08M73.55,374.08L77.25,370.38" stroke="#6e6e6e" stroke-width="0.7" fill="none"/>
<path d="M82.65,368.85L86.35,372.55M82.65,372.55L86.35,368.85" stroke="#6e6e6e" stroke-width="0.7" fill="none"/>
<path d="M91.75,367.61L95.45,371.31M91.75,371.31L95.45,367.61" stroke="#6e6e6e" stroke-width="0.7" fill="none"/>
<path d="M100.85,366.55L104.55,370.25M100.85,370.25L104.55,366.55" stroke="#6e6e6e" stroke-width="0.7" fill="none"/>
<path d="M109.95,366.37L113.65,370.07M109.95,370.07L113.65,366.37" stroke="#6e6e6e" stroke-width="0.7" fill="none"/>
<path d="M119.05,366.22L122.75,369.92M119.05,369.92L122.75,366.22" stroke="#6e6e6e" stroke-width="0.7" fill="none"/>
<path d="M128.15,366.08L131.85,369.78M128.15,369.78L131.85,366.08" stroke="#6e6e6e" stroke-width="0.7" fill="none"/>
<path d="M137.25,365.95L140.95,369.65M137.25,369.65L140.95,365.95" stroke="#6e6e6e" stroke-width="0.7" fill="none"/>
<path d="M37.75,502.71L41.45,506.41M37.75,506.41L41.45,502.71" stroke="#6e6e6e" stroke-width="0.7" fill="none"/>
<path d="M46.25,420.35L49.95,424.05M46.25,424.05L49.95,420.35" stroke="#6e6e6e" stroke-width="0.7" fill="none"/>
<path d="M55.35,413.41L59.05,417.11M55.35,417.11L59.05,413.41" stroke="#6e6e6e" stroke-width="0.7" fill="none"/>
<path d="M64.45,409.35L68.15,413.05M64.45,413.05L68.15,409.35" stroke="#6e6e6e" stroke-width="0.7" fill="none"/>
<path d="M73.55,405.62L77.25,409.32M73.55,409.32L77.25,405.62" stroke="#6e6e6e" stroke-width="0.7" fill="none"/>
<path d="M82.65,402.72L86.35,406.42M82.65,406.42L86.35,402.72" stroke="#6e6e6e" stroke-width="0.7" fill="none"/>
<path d="M91.75,400.35L95.45,404.05M91.75,404.05L95.45,400.35" stroke="#6e6e6e" stroke-width="0.7" fill="none"/>
<path d="M100.85,398.35L104.55,402.05M100.85,402.05L104.55,398.35" stroke="#6e6e6e" stroke-width="0.7" fill="none"/>
<path d="M109.95,397.19L113.65,400.89M109.95,400.89L113.65,397.19" stroke="#6e6e6e" stroke-width="0.7" fill="none"/>
<path d="M119.05,396.17L122.75,399.87M119.05,399.87L122.75,396.17" stroke="#6e6e6e" stroke-width="0.7" fill="none"/>
<path d="M128.15,395.26L131.85,398.96M128.15,398.96L131.85,395.26" stroke="#6e6e6e" stroke-width="0.7" fill="none"/>
<path d="M137.25,394.44L140.95,398.14M137.25,398.14L140.95,394.44" stroke="#6e6e6e" stroke-width="0.7" fill="none"/>
<path d="M146.35,393.68L150.05,397.38M146.35,397.38L150.05,393.68" stroke="#6e6e6e" stroke-width="0.7" fill="none"/>
<path d="M155.45,392.99L159.15,396.69M155.45,396.69L159.15,392.99" stroke="#6e6e6e" stroke-width="0.7" fill="none"/>
<path d="M164.55,392.35L168.25,396.05M164.55,396.05L168.25,392.35" stroke="#6e6e6e" stroke-width="0.7" fill="none"/>
<path d="M173.65,391.89L177.35,395.59M173.65,395.59L177.35,391.89" stroke="#6e6e6e" stroke-width="0.7" fill="none"/>
<path d="M182.75,391.45L186.45,395.15M182.75,395.15L186.45,391.45" stroke="#6e6e6e" stroke-width="0.7" fill="none"/>
<path d="M191.85,391.04L195.55,394.74M191.85,394.74L195.55,391.04" stroke="#6e6e6e" stroke-width="0.7" fill="none"/>
<path d="M200.95,390.66L204.65,394.36M200.95,394.36L204.65,390.66" stroke="#6e6e6e" stroke-width="0.7" fill="none"/>
<path d="M210.05,390.30L213.75,394.00M210.05,394.00L213.75,390.30" stroke="#6e6e6e" stroke-width="0.7" fill="none"/>
<path d="M219.15,389.95L222.85,393.65M219.15,393.65L222.85,389.95" stroke="#6e6e6e" stroke-width="0.7" fill="none"/>
<path d="M228.25,389.53L231.95,393.23M228.25,393.23L231.95,389.53" stroke="#6e6e6e" stroke-width="0.7" fill="none"/>
<path d="M237.35,389.12L241.05,392.82M237.35,392.82L241.05,389.12" stroke="#6e6e6e" stroke-width="0.7" fill="none"/>
<path d="M246.45,388.74L250.15,392.44M246.45,392.44L250.15,388.74" stroke="#6e6e6e" stroke-width="0.7" fill="none"/>
<path d="M255.55,388.37L259.25,392.07M255.55,392.07L259.25,388.37" stroke="#6e6e6e" stroke-width="0.7" fill="none"/>
<path d="M264.65,388.02L268.35,391.72M264.65,391.72L268.35,388.02" stroke="#6e6e6e" stroke-width="0.7" fill="none"/>
<path d="M273.75,387.68L277.45,391.38M273.75,391.38L277.45,387.68" stroke="#6e6e6e" stroke-width="0.7" fill="none"/>
<path d="M282.85,387.35L286.55,391.05M282.85,391.05L286.55,387.35" stroke="#6e6e6e" stroke-width="0.7" fill="none"/>
<path d="M37.75,512.26L41.45,515.96M37.75,515.96L41.45,512.26" stroke="#6e6e6e" stroke-width="0.7" fill="none"/>
<path d="M46.25,426.35L49.95,430.05M46.25,430.05L49.95,426.35" stroke="#6e6e6e" stroke-width="0.7" fill="none"/>
<path d="M55.35,418.78L59.05,422.48M55.35,422.48L59.05,418.78" stroke="#6e6e6e" stroke-width="0.7" fill="none"/>
<path d="M64.45,414.35L68.15,418.05M64.45,418.05L68.15,414.35" stroke="#6e6e6e" stroke-width="0.7" fill="none"/>
<path d="M73.55,411.29L77.25,414.99M73.55,414.99L77.25,411.29" stroke="#6e6e6e" stroke-width="0.7" fill="none"/>
<path d="M82.65,408.92L86.35,412.62M82.65,412.62L86.35,408.92" stroke="#6e6e6e" stroke-width="0.7" fill="none"/>
<path d="M91.75,406.99L95.45,410.69M91.75,410.69L95.45,406.99" stroke="#6e6e6e" stroke-width="0.7" fill="none"/>
<path d="M100.85,405.35L104.55,409.05M100.85,409.05L104.55,405.35" stroke="#6e6e6e" stroke-width="0.7" fill="none"/>
<path d="M109.95,404.12L113.65,407.82M109.95,407.82L113.65,404.12" stroke="#6e6e6e" stroke-width="0.7" fill="none"/>
<path d="M119.05,403.04L122.75,406.74M119.05,406.74L122.75,403.04" stroke="#6e6e6e" stroke-width="0.7" fill="none"/>
<path d="M128.15,402.07L131.85,405.77M128.15,405.77L131.85,402.07" stroke="#6e6e6e" stroke-width="0.7" fill="none"/>
<path d="M137.25,401.20L140.95,404.90M137.25,404.90L140.95,401.20" stroke="#6e6e6e" stroke-width="0.7" fill="none"/>
<path d="M146.35,400.40L150.05,404.10M146.35,404.10L150.05,400.40" stroke="#6e6e6e" stroke-width="0.7" fill="none"/>
<path d="M155.45,399.66L159.15,403.36M155.45,403.36L159.15,399.66" stroke="#6e6e6e" stroke-width="0.7" fill="none"/>
<path d="M164.55,398.98L168.25,402.68M164.55,402.68L168.25,398.98" stroke="#6e6e6e" stroke-width="0.7" fill="none"/>
<path d="M173.65,398.35L177.35,402.05M173.65,402.05L177.35,398.35" stroke="#6e6e6e" stroke-width="0.7" fill="none"/>
<path d="M37.75,496.81L41.45,500.51M37.75,500.51L41.45,496.81" stroke="#6e6e6e" stroke-width="0.7" fill="none"/>
<path d="M46.25,415.95L49.95,419.65M46.25,419.65L49.95,415.95" stroke="#6e6e6e" stroke-width="0.7" fill="none"/>
<path d="M55.35,405.35L59.05,409.05M55.35,409.05L59.05,405.35" stroke="#6e6e6e" stroke-width="0.7" fill="none"/>
<path d="M64.45,399.75L68.15,403.45M64.45,403.45L68.15,399.75" stroke="#6e6e6e" stroke-width="0.7" fill="none"/>
<path d="M73.55,395.15L77.25,398.85M73.55,398.85L77.25,395.15" stroke="#6e6e6e" stroke-width="0.7" fill="none"/>
<path d="M82.65,391.75L86.35,395.45M82.65,395.45L86.35,391.75" stroke="#6e6e6e" stroke-width="0.7" fill="none"/>
<path d="M91.75,389.35L95.45,393.05M91.75,393.05L95.45,389.35" stroke="#6e6e6e" stroke-width="0.7" fill="none"/>
<path d="M100.85,387.15L104.55,390.85M100.85,390.85L104.55,387.15" stroke="#6e6e6e" stroke-width="0.7" fill="none"/>
<path d="M109.95,386.51L113.65,390.21M109.95,390.21L113.65,386.51" stroke="#6e6e6e" stroke-width="0.7" fill="none"/>
<path d="M119.05,385.95L122.75,389.65M119.05,389.65L122.75,385.95" stroke="#6e6e6e" stroke-width="0.7" fill="none"/>
<path d="M128.15,385.11L131.85,388.81M128.15,388.81L131.85,385.11" stroke="#6e6e6e" stroke-width="0.7" fill="none"/>
<path d="M137.25,384.35L140.95,388.05M137.25,388.05L140.95,384.35" stroke="#6e6e6e" stroke-width="0.7" fill="none"/>
<path d="M146.35,383.31L150.05,387.01M146.35,387.01L150.05,383.31" stroke="#6e6e6e" stroke-width="0.7" fill="none"/>
<path d="M155.45,382.35L159.15,386.05M155.45,386.05L159.15,382.35" stroke="#6e6e6e" stroke-width="0.7" fill="none"/>
<circle cx="39.60" cy="503.17" r="2.00" fill="#262626"/>
<circle cx="48.10" cy="417.20" r="2.00" fill="#262626"/>
<circle cx="57.20" cy="406.80" r="2.00" fill="#262626"/>
<circle cx="66.30" cy="401.20" r="2.00" fill="#262626"/>
<circle cx="75.40" cy="396.60" r="2.00" fill="#262626"/>
<circle cx="84.50" cy="393.20" r="2.00" fill="#262626"/>
<circle cx="93.60" cy="390.80" r="2.00" fill="#262626"/>
<circle cx="102.70" cy="389.40" r="2.00" fill="#262626"/>
<circle cx="111.80" cy="389.00" r="2.00" fill="#262626"/>
<circle cx="120.90" cy="387.80" r="2.00" fill="#262626"/>
<circle cx="130.00" cy="387.59" r="2.00" fill="#262626"/>
<circle cx="139.10" cy="387.40" r="2.00" fill="#262626"/>
<circle cx="148.20" cy="386.80" r="2.00" fill="#262626"/>
<circle cx="157.30" cy="385.60" r="2.00" fill="#262626"/>
<circle cx="166.40" cy="384.60" r="2.00" fill="#262626"/>
<circle cx="175.50" cy="383.60" r="2.00" fill="#262626"/>
<circle cx="184.60" cy="383.10" r="2.00" fill="#262626"/>
<circle cx="193.70" cy="382.64" r="2.00" fill="#262626"/>
<circle cx="202.80" cy="382.20" r="2.00" fill="#262626"/>
<circle cx="211.90" cy="381.76" r="2.00" fill="#262626"/>
<circle cx="221.00" cy="381.34" r="2.00" fill="#262626"/>
<circle cx="230.10" cy="380.94" r="2.00" fill="#262626"/>
<circle cx="239.20" cy="380.56" r="2.00" fill="#262626"/>
<circle cx="248.30" cy="380.20" r="2.00" fill="#262626"/>
<circle cx="257.40" cy="379.85" r="2.00" fill="#262626"/>
<circle cx="266.50" cy="379.52" r="2.00" fill="#262626"/>
<circle cx="275.60" cy="379.20" r="2.00" fill="#262626"/>
<circle cx="39.60" cy="512.72" r="2.00" fill="#262626"/>
<circle cx="48.10" cy="432.20" r="2.00" fill="#262626"/>
<circle cx="57.20" cy="424.20" r="2.00" fill="#262626"/>
<circle cx="66.30" cy="416.20" r="2.00" fill="#262626"/>
<circle cx="75.40" cy="410.20" r="2.00" fill="#262626"/>
<circle cx="84.50" cy="403.80" r="2.00" fill="#262626"/>
<circle cx="93.60" cy="400.20" r="2.00" fill="#262626"/>
<circle cx="102.70" cy="396.80" r="2.00" fill="#262626"/>
<circle cx="111.80" cy="395.20" r="2.00" fill="#262626"/>
<circle cx="120.90" cy="391.40" r="2.00" fill="#262626"/>
<circle cx="130.00" cy="390.20" r="2.00" fill="#262626"/>
<circle cx="39.60" cy="497.26" r="2.00" fill="#262626"/>
<circle cx="48.10" cy="430.20" r="2.00" fill="#262626"/>
<circle cx="57.20" cy="425.15" r="2.00" fill="#262626"/>
<circle cx="66.30" cy="422.20" r="2.00" fill="#262626"/>
<circle cx="75.40" cy="419.71" r="2.00" fill="#262626"/>
<circle cx="84.50" cy="417.78" r="2.00" fill="#262626"/>
<circle cx="93.60" cy="416.20" r="2.00" fill="#262626"/>
<path d="M37.90,519.84L41.30,519.84L39.60,522.90Z" stroke="#f26a30" stroke-width="0.6" fill="none"/>
<path d="M46.40,464.84L49.80,464.84L48.10,467.90Z" stroke="#f26a30" stroke-width="0.6" fill="none"/>
<path d="M55.50,442.13L58.90,442.13L57.20,445.19Z" stroke="#f26a30" stroke-width="0.6" fill="none"/>
<path d="M64.60,428.84L68.00,428.84L66.30,431.90Z" stroke="#f26a30" stroke-width="0.6" fill="none"/>
<path d="M73.70,420.01L77.10,420.01L75.40,423.07Z" stroke="#f26a30" stroke-width="0.6" fill="none"/>
<path d="M82.80,413.16L86.20,413.16L84.50,416.22Z" stroke="#f26a30" stroke-width="0.6" fill="none"/>
<path d="M91.90,407.57L95.30,407.57L93.60,410.63Z" stroke="#f26a30" stroke-width="0.6" fill="none"/>
<path d="M101.00,402.84L104.40,402.84L102.70,405.90Z" stroke="#f26a30" stroke-width="0.6" fill="none"/>
<path d="M110.10,400.59L113.50,400.59L111.80,403.65Z" stroke="#f26a30" stroke-width="0.6" fill="none"/>
<path d="M119.20,398.61L122.60,398.61L120.90,401.67Z" stroke="#f26a30" stroke-width="0.6" fill="none"/>
<path d="M128.30,396.84L131.70,396.84L130.00,399.90Z" stroke="#f26a30" stroke-width="0.6" fill="none"/>
<path d="M137.40,394.86L140.80,394.86L139.10,397.92Z" stroke="#f26a30" stroke-width="0.6" fill="none"/>
<path d="M146.50,393.05L149.90,393.05L148.20,396.11Z" stroke="#f26a30" stroke-width="0.6" fill="none"/>
<path d="M155.60,391.38L159.00,391.38L157.30,394.44Z" stroke="#f26a30" stroke-width="0.6" fill="none"/>
<path d="M164.70,389.84L168.10,389.84L166.40,392.90Z" stroke="#f26a30" stroke-width="0.6" fill="none"/>
<path d="M173.80,388.63L177.20,388.63L175.50,391.69Z" stroke="#f26a30" stroke-width="0.6" fill="none"/>
<path d="M182.90,387.50L186.30,387.50L184.60,390.56Z" stroke="#f26a30" stroke-width="0.6" fill="none"/>
<path d="M192.00,386.44L195.40,386.44L193.70,389.50Z" stroke="#f26a30" stroke-width="0.6" fill="none"/>
<path d="M201.10,385.44L204.50,385.44L202.80,388.50Z" stroke="#f26a30" stroke-width="0.6" fill="none"/>
<path d="M210.20,384.95L213.60,384.95L211.90,388.01Z" stroke="#f26a30" stroke-width="0.6" fill="none"/>
<path d="M219.30,384.48L222.70,384.48L221.00,387.54Z" stroke="#f26a30" stroke-width="0.6" fill="none"/>
<path d="M228.40,384.03L231.80,384.03L230.10,387.09Z" stroke="#f26a30" stroke-width="0.6" fill="none"/>
<path d="M237.50,383.61L240.90,383.61L239.20,386.67Z" stroke="#f26a30" stroke-width="0.6" fill="none"/>
<path d="M246.60,383.20L250.00,383.20L248.30,386.26Z" stroke="#f26a30" stroke-width="0.6" fill="none"/>
<path d="M255.70,382.81L259.10,382.81L257.40,385.87Z" stroke="#f26a30" stroke-width="0.6" fill="none"/>
<path d="M264.80,382.44L268.20,382.44L266.50,385.50Z" stroke="#f26a30" stroke-width="0.6" fill="none"/>
<path d="M37.90,504.39L41.30,504.39L39.60,507.45Z" stroke="#f26a30" stroke-width="0.6" fill="none"/>
<path d="M46.40,468.84L49.80,468.84L48.10,471.90Z" stroke="#f26a30" stroke-width="0.6" fill="none"/>
<path d="M55.50,447.39L58.90,447.39L57.20,450.45Z" stroke="#f26a30" stroke-width="0.6" fill="none"/>
<path d="M64.60,434.84L68.00,434.84L66.30,437.90Z" stroke="#f26a30" stroke-width="0.6" fill="none"/>
<path d="M73.70,427.67L77.10,427.67L75.40,430.73Z" stroke="#f26a30" stroke-width="0.6" fill="none"/>
<path d="M82.80,422.11L86.20,422.11L84.50,425.17Z" stroke="#f26a30" stroke-width="0.6" fill="none"/>
<path d="M91.90,417.57L95.30,417.57L93.60,420.63Z" stroke="#f26a30" stroke-width="0.6" fill="none"/>
<path d="M101.00,413.73L104.40,413.73L102.70,416.79Z" stroke="#f26a30" stroke-width="0.6" fill="none"/>
<path d="M110.10,410.40L113.50,410.40L111.80,413.46Z" stroke="#f26a30" stroke-width="0.6" fill="none"/>
<path d="M119.20,407.47L122.60,407.47L120.90,410.53Z" stroke="#f26a30" stroke-width="0.6" fill="none"/>
<path d="M128.30,404.84L131.70,404.84L130.00,407.90Z" stroke="#f26a30" stroke-width="0.6" fill="none"/>
<path d="M137.40,403.06L140.80,403.06L139.10,406.12Z" stroke="#f26a30" stroke-width="0.6" fill="none"/>
<path d="M146.50,401.43L149.90,401.43L148.20,404.49Z" stroke="#f26a30" stroke-width="0.6" fill="none"/>
<path d="M155.60,399.93L159.00,399.93L157.30,402.99Z" stroke="#f26a30" stroke-width="0.6" fill="none"/>
<path d="M164.70,398.54L168.10,398.54L166.40,401.60Z" stroke="#f26a30" stroke-width="0.6" fill="none"/>
<path d="M173.80,397.25L177.20,397.25L175.50,400.31Z" stroke="#f26a30" stroke-width="0.6" fill="none"/>
<path d="M182.90,396.04L186.30,396.04L184.60,399.10Z" stroke="#f26a30" stroke-width="0.6" fill="none"/>
<path d="M192.00,394.91L195.40,394.91L193.70,397.97Z" stroke="#f26a30" stroke-width="0.6" fill="none"/>
<path d="M201.10,393.84L204.50,393.84L202.80,396.90Z" stroke="#f26a30" stroke-width="0.6" fill="none"/>
<path d="M210.20,392.90L213.60,392.90L211.90,395.96Z" stroke="#f26a30" stroke-width="0.6" fill="none"/>
<path d="M219.30,392.01L222.70,392.01L221.00,395.07Z" stroke="#f26a30" stroke-width="0.6" fill="none"/>
<path d="M228.40,391.16L231.80,391.16L230.10,394.22Z" stroke="#f26a30" stroke-width="0.6" fill="none"/>
<path d="M237.50,390.35L240.90,390.35L239.20,393.41Z" stroke="#f26a30" stroke-width="0.6" fill="none"/>
<path d="M246.60,389.58L250.00,389.58L248.30,392.64Z" stroke="#f26a30" stroke-width="0.6" fill="none"/>
<path d="M255.70,388.84L259.10,388.84L257.40,391.90Z" stroke="#f26a30" stroke-width="0.6" fill="none"/>
<path d="M264.80,388.24L268.20,388.24L266.50,391.30Z" stroke="#f26a30" stroke-width="0.6" fill="none"/>
<path d="M273.90,387.66L277.30,387.66L275.60,390.72Z" stroke="#f26a30" stroke-width="0.6" fill="none"/>
<path d="M283.00,387.10L286.40,387.10L284.70,390.16Z" stroke="#f26a30" stroke-width="0.6" fill="none"/>
<path d="M292.10,386.56L295.50,386.56L293.80,389.62Z" stroke="#f26a30" stroke-width="0.6" fill="none"/>
<path d="M301.20,386.04L304.60,386.04L302.90,389.10Z" stroke="#f26a30" stroke-width="0.6" fill="none"/>
<path d="M310.30,385.54L313.70,385.54L312.00,388.60Z" stroke="#f26a30" stroke-width="0.6" fill="none"/>
<path d="M319.40,385.05L322.80,385.05L321.10,388.11Z" stroke="#f26a30" stroke-width="0.6" fill="none"/>
<path d="M328.50,384.58L331.90,384.58L330.20,387.64Z" stroke="#f26a30" stroke-width="0.6" fill="none"/>
<path d="M337.60,384.13L341.00,384.13L339.30,387.19Z" stroke="#f26a30" stroke-width="0.6" fill="none"/>
<path d="M346.70,383.69L350.10,383.69L348.40,386.75Z" stroke="#f26a30" stroke-width="0.6" fill="none"/>
<path d="M355.80,383.26L359.20,383.26L357.50,386.32Z" stroke="#f26a30" stroke-width="0.6" fill="none"/>
<path d="M364.90,382.84L368.30,382.84L366.60,385.90Z" stroke="#f26a30" stroke-width="0.6" fill="none"/>
<path d="M37.90,513.94L41.30,513.94L39.60,517.00Z" stroke="#f26a30" stroke-width="0.6" fill="none"/>
<path d="M46.40,474.84L49.80,474.84L48.10,477.90Z" stroke="#f26a30" stroke-width="0.6" fill="none"/>
<path d="M55.50,452.13L58.90,452.13L57.20,455.19Z" stroke="#f26a30" stroke-width="0.6" fill="none"/>
<path d="M64.60,438.84L68.00,438.84L66.30,441.90Z" stroke="#f26a30" stroke-width="0.6" fill="none"/>
<path d="M73.70,431.19L77.10,431.19L75.40,434.25Z" stroke="#f26a30" stroke-width="0.6" fill="none"/>
<path d="M82.80,425.26L86.20,425.26L84.50,428.32Z" stroke="#f26a30" stroke-width="0.6" fill="none"/>
<path d="M91.90,420.42L95.30,420.42L93.60,423.48Z" stroke="#f26a30" stroke-width="0.6" fill="none"/>
<path d="M101.00,416.32L104.40,416.32L102.70,419.38Z" stroke="#f26a30" stroke-width="0.6" fill="none"/>
<path d="M110.10,412.77L113.50,412.77L111.80,415.83Z" stroke="#f26a30" stroke-width="0.6" fill="none"/>
<path d="M119.20,409.64L122.60,409.64L120.90,412.70Z" stroke="#f26a30" stroke-width="0.6" fill="none"/>
<path d="M128.30,406.84L131.70,406.84L130.00,409.90Z" stroke="#f26a30" stroke-width="0.6" fill="none"/>
<path d="M137.40,405.15L140.80,405.15L139.10,408.21Z" stroke="#f26a30" stroke-width="0.6" fill="none"/>
<path d="M146.50,403.61L149.90,403.61L148.20,406.67Z" stroke="#f26a30" stroke-width="0.6" fill="none"/>
<path d="M155.60,402.20L159.00,402.20L157.30,405.26Z" stroke="#f26a30" stroke-width="0.6" fill="none"/>
<path d="M164.70,400.89L168.10,400.89L166.40,403.95Z" stroke="#f26a30" stroke-width="0.6" fill="none"/>
<path d="M173.80,399.67L177.20,399.67L175.50,402.73Z" stroke="#f26a30" stroke-width="0.6" fill="none"/>
<path d="M182.90,398.52L186.30,398.52L184.60,401.58Z" stroke="#f26a30" stroke-width="0.6" fill="none"/>
<path d="M192.00,397.45L195.40,397.45L193.70,400.51Z" stroke="#f26a30" stroke-width="0.6" fill="none"/>
<path d="M201.10,396.44L204.50,396.44L202.80,399.50Z" stroke="#f26a30" stroke-width="0.6" fill="none"/>
<path d="M210.20,396.06L213.60,396.06L211.90,399.12Z" stroke="#f26a30" stroke-width="0.6" fill="none"/>
<path d="M219.30,395.70L222.70,395.70L221.00,398.76Z" stroke="#f26a30" stroke-width="0.6" fill="none"/>
<path d="M228.40,395.35L231.80,395.35L230.10,398.41Z" stroke="#f26a30" stroke-width="0.6" fill="none"/>
<path d="M237.50,395.02L240.90,395.02L239.20,398.08Z" stroke="#f26a30" stroke-width="0.6" fill="none"/>
<path d="M246.60,394.71L250.00,394.71L248.30,397.77Z" stroke="#f26a30" stroke-width="0.6" fill="none"/>
<path d="M255.70,394.41L259.10,394.41L257.40,397.47Z" stroke="#f26a30" stroke-width="0.6" fill="none"/>
<path d="M264.80,394.12L268.20,394.12L266.50,397.18Z" stroke="#f26a30" stroke-width="0.6" fill="none"/>
<path d="M273.90,393.84L277.30,393.84L275.60,396.90Z" stroke="#f26a30" stroke-width="0.6" fill="none"/>
<path d="M37.90,498.49L41.30,498.49L39.60,501.55Z" stroke="#f26a30" stroke-width="0.6" fill="none"/>
<path d="M46.40,478.84L49.80,478.84L48.10,481.90Z" stroke="#f26a30" stroke-width="0.6" fill="none"/>
<path d="M55.50,457.39L58.90,457.39L57.20,460.45Z" stroke="#f26a30" stroke-width="0.6" fill="none"/>
<path d="M64.60,444.84L68.00,444.84L66.30,447.90Z" stroke="#f26a30" stroke-width="0.6" fill="none"/>
<path d="M73.70,437.67L77.10,437.67L75.40,440.73Z" stroke="#f26a30" stroke-width="0.6" fill="none"/>
<path d="M82.80,432.11L86.20,432.11L84.50,435.17Z" stroke="#f26a30" stroke-width="0.6" fill="none"/>
<path d="M91.90,427.57L95.30,427.57L93.60,430.63Z" stroke="#f26a30" stroke-width="0.6" fill="none"/>
<path d="M101.00,423.73L104.40,423.73L102.70,426.79Z" stroke="#f26a30" stroke-width="0.6" fill="none"/>
<path d="M110.10,420.40L113.50,420.40L111.80,423.46Z" stroke="#f26a30" stroke-width="0.6" fill="none"/>
<path d="M119.20,417.47L122.60,417.47L120.90,420.53Z" stroke="#f26a30" stroke-width="0.6" fill="none"/>
<path d="M128.30,414.84L131.70,414.84L130.00,417.90Z" stroke="#f26a30" stroke-width="0.6" fill="none"/>
<path d="M137.40,413.38L140.80,413.38L139.10,416.44Z" stroke="#f26a30" stroke-width="0.6" fill="none"/>
<path d="M146.50,412.05L149.90,412.05L148.20,415.11Z" stroke="#f26a30" stroke-width="0.6" fill="none"/>
<path d="M155.60,410.82L159.00,410.82L157.30,413.88Z" stroke="#f26a30" stroke-width="0.6" fill="none"/>
<path d="M164.70,409.69L168.10,409.69L166.40,412.75Z" stroke="#f26a30" stroke-width="0.6" fill="none"/>
<path d="M173.80,408.63L177.20,408.63L175.50,411.69Z" stroke="#f26a30" stroke-width="0.6" fill="none"/>
<path d="M182.90,407.64L186.30,407.64L184.60,410.70Z" stroke="#f26a30" stroke-width="0.6" fill="none"/>
<path d="M192.00,406.72L195.40,406.72L193.70,409.78Z" stroke="#f26a30" stroke-width="0.6" fill="none"/>
<path d="M201.10,405.84L204.50,405.84L202.80,408.90Z" stroke="#f26a30" stroke-width="0.6" fill="none"/>
<path d="M210.20,405.16L213.60,405.16L211.90,408.22Z" stroke="#f26a30" stroke-width="0.6" fill="none"/>
<path d="M219.30,404.52L222.70,404.52L221.00,407.58Z" stroke="#f26a30" stroke-width="0.6" fill="none"/>
<path d="M228.40,403.91L231.80,403.91L230.10,406.97Z" stroke="#f26a30" stroke-width="0.6" fill="none"/>
<path d="M237.50,403.33L240.90,403.33L239.20,406.39Z" stroke="#f26a30" stroke-width="0.6" fill="none"/>
<path d="M246.60,402.77L250.00,402.77L248.30,405.83Z" stroke="#f26a30" stroke-width="0.6" fill="none"/>
<path d="M255.70,402.24L259.10,402.24L257.40,405.30Z" stroke="#f26a30" stroke-width="0.6" fill="none"/>
<path d="M264.80,401.70L268.20,401.70L266.50,404.76Z" stroke="#f26a30" stroke-width="0.6" fill="none"/>
<path d="M273.90,401.18L277.30,401.18L275.60,404.24Z" stroke="#f26a30" stroke-width="0.6" fill="none"/>
<path d="M283.00,400.69L286.40,400.69L284.70,403.75Z" stroke="#f26a30" stroke-width="0.6" fill="none"/>
<path d="M292.10,400.21L295.50,400.21L293.80,403.27Z" stroke="#f26a30" stroke-width="0.6" fill="none"/>
<path d="M301.20,399.75L304.60,399.75L302.90,402.81Z" stroke="#f26a30" stroke-width="0.6" fill="none"/>
<path d="M310.30,399.30L313.70,399.30L312.00,402.36Z" stroke="#f26a30" stroke-width="0.6" fill="none"/>
<path d="M319.40,398.87L322.80,398.87L321.10,401.93Z" stroke="#f26a30" stroke-width="0.6" fill="none"/>
<path d="M328.50,398.45L331.90,398.45L330.20,401.51Z" stroke="#f26a30" stroke-width="0.6" fill="none"/>
<path d="M337.60,398.04L341.00,398.04L339.30,401.10Z" stroke="#f26a30" stroke-width="0.6" fill="none"/>
<path d="M346.70,397.65L350.10,397.65L348.40,400.71Z" stroke="#f26a30" stroke-width="0.6" fill="none"/>
<path d="M355.80,397.27L359.20,397.27L357.50,400.33Z" stroke="#f26a30" stroke-width="0.6" fill="none"/>
<path d="M364.90,396.90L368.30,396.90L366.60,399.96Z" stroke="#f26a30" stroke-width="0.6" fill="none"/>
<path d="M374.00,396.53L377.40,396.53L375.70,399.59Z" stroke="#f26a30" stroke-width="0.6" fill="none"/>
<path d="M383.10,396.18L386.50,396.18L384.80,399.24Z" stroke="#f26a30" stroke-width="0.6" fill="none"/>
<path d="M392.20,395.84L395.60,395.84L393.90,398.90Z" stroke="#f26a30" stroke-width="0.6" fill="none"/>
<path d="M37.90,508.04L41.30,508.04L39.60,511.10Z" stroke="#f26a30" stroke-width="0.6" fill="none"/>
<path d="M46.40,484.84L49.80,484.84L48.10,487.90Z" stroke="#f26a30" stroke-width="0.6" fill="none"/>
<path d="M55.50,464.65L58.90,464.65L57.20,467.71Z" stroke="#f26a30" stroke-width="0.6" fill="none"/>
<path d="M64.60,452.84L68.00,452.84L66.30,455.90Z" stroke="#f26a30" stroke-width="0.6" fill="none"/>
<path d="M73.70,445.67L77.10,445.67L75.40,448.73Z" stroke="#f26a30" stroke-width="0.6" fill="none"/>
<path d="M82.80,440.11L86.20,440.11L84.50,443.17Z" stroke="#f26a30" stroke-width="0.6" fill="none"/>
<path d="M91.90,435.57L95.30,435.57L93.60,438.63Z" stroke="#f26a30" stroke-width="0.6" fill="none"/>
<path d="M101.00,431.73L104.40,431.73L102.70,434.79Z" stroke="#f26a30" stroke-width="0.6" fill="none"/>
<path d="M110.10,428.40L113.50,428.40L111.80,431.46Z" stroke="#f26a30" stroke-width="0.6" fill="none"/>
<path d="M119.20,425.47L122.60,425.47L120.90,428.53Z" stroke="#f26a30" stroke-width="0.6" fill="none"/>
<path d="M128.30,422.84L131.70,422.84L130.00,425.90Z" stroke="#f26a30" stroke-width="0.6" fill="none"/>
<path d="M137.40,421.15L140.80,421.15L139.10,424.21Z" stroke="#f26a30" stroke-width="0.6" fill="none"/>
<path d="M146.50,419.61L149.90,419.61L148.20,422.67Z" stroke="#f26a30" stroke-width="0.6" fill="none"/>
<path d="M155.60,418.20L159.00,418.20L157.30,421.26Z" stroke="#f26a30" stroke-width="0.6" fill="none"/>
<path d="M164.70,416.89L168.10,416.89L166.40,419.95Z" stroke="#f26a30" stroke-width="0.6" fill="none"/>
<path d="M173.80,415.67L177.20,415.67L175.50,418.73Z" stroke="#f26a30" stroke-width="0.6" fill="none"/>
<path d="M182.90,414.52L186.30,414.52L184.60,417.58Z" stroke="#f26a30" stroke-width="0.6" fill="none"/>
<path d="M192.00,413.45L195.40,413.45L193.70,416.51Z" stroke="#f26a30" stroke-width="0.6" fill="none"/>
<path d="M201.10,412.44L204.50,412.44L202.80,415.50Z" stroke="#f26a30" stroke-width="0.6" fill="none"/>
<path d="M210.20,411.84L213.60,411.84L211.90,414.90Z" stroke="#f26a30" stroke-width="0.6" fill="none"/>
<path d="M219.30,411.27L222.70,411.27L221.00,414.33Z" stroke="#f26a30" stroke-width="0.6" fill="none"/>
<path d="M228.40,410.73L231.80,410.73L230.10,413.79Z" stroke="#f26a30" stroke-width="0.6" fill="none"/>
<path d="M237.50,410.21L240.90,410.21L239.20,413.27Z" stroke="#f26a30" stroke-width="0.6" fill="none"/>
<path d="M246.60,409.71L250.00,409.71L248.30,412.77Z" stroke="#f26a30" stroke-width="0.6" fill="none"/>
<path d="M255.70,409.24L259.10,409.24L257.40,412.30Z" stroke="#f26a30" stroke-width="0.6" fill="none"/>
<path d="M264.80,408.67L268.20,408.67L266.50,411.73Z" stroke="#f26a30" stroke-width="0.6" fill="none"/>
<path d="M273.90,408.13L277.30,408.13L275.60,411.19Z" stroke="#f26a30" stroke-width="0.6" fill="none"/>
<path d="M283.00,407.60L286.40,407.60L284.70,410.66Z" stroke="#f26a30" stroke-width="0.6" fill="none"/>
<path d="M292.10,407.09L295.50,407.09L293.80,410.15Z" stroke="#f26a30" stroke-width="0.6" fill="none"/>
<path d="M301.20,406.60L304.60,406.60L302.90,409.66Z" stroke="#f26a30" stroke-width="0.6" fill="none"/>
<path d="M310.30,406.13L313.70,406.13L312.00,409.19Z" stroke="#f26a30" stroke-width="0.6" fill="none"/>
<path d="M319.40,405.68L322.80,405.68L321.10,408.74Z" stroke="#f26a30" stroke-width="0.6" fill="none"/>
<path d="M328.50,405.23L331.90,405.23L330.20,408.29Z" stroke="#f26a30" stroke-width="0.6" fill="none"/>
<path d="M337.60,404.80L341.00,404.80L339.30,407.86Z" stroke="#f26a30" stroke-width="0.6" fill="none"/>
<path d="M346.70,404.39L350.10,404.39L348.40,407.45Z" stroke="#f26a30" stroke-width="0.6" fill="none"/>
<path d="M355.80,403.99L359.20,403.99L357.50,407.05Z" stroke="#f26a30" stroke-width="0.6" fill="none"/>
<path d="M364.90,403.59L368.30,403.59L366.60,406.65Z" stroke="#f26a30" stroke-width="0.6" fill="none"/>
<path d="M374.00,403.21L377.40,403.21L375.70,406.27Z" stroke="#f26a30" stroke-width="0.6" fill="none"/>
<path d="M383.10,402.84L386.50,402.84L384.80,405.90Z" stroke="#f26a30" stroke-width="0.6" fill="none"/>
<path d="M37.90,517.59L41.30,517.59L39.60,520.65Z" stroke="#f26a30" stroke-width="0.6" fill="none"/>
<path d="M46.40,480.84L49.80,480.84L48.10,483.90Z" stroke="#f26a30" stroke-width="0.6" fill="none"/>
<path d="M55.50,459.39L58.90,459.39L57.20,462.45Z" stroke="#f26a30" stroke-width="0.6" fill="none"/>
<path d="M64.60,446.84L68.00,446.84L66.30,449.90Z" stroke="#f26a30" stroke-width="0.6" fill="none"/>
<path d="M73.70,441.60L77.10,441.60L75.40,444.66Z" stroke="#f26a30" stroke-width="0.6" fill="none"/>
<path d="M82.80,437.54L86.20,437.54L84.50,440.60Z" stroke="#f26a30" stroke-width="0.6" fill="none"/>
<path d="M91.90,434.22L95.30,434.22L93.60,437.28Z" stroke="#f26a30" stroke-width="0.6" fill="none"/>
<path d="M101.00,431.42L104.40,431.42L102.70,434.48Z" stroke="#f26a30" stroke-width="0.6" fill="none"/>
<path d="M110.10,428.98L113.50,428.98L111.80,432.04Z" stroke="#f26a30" stroke-width="0.6" fill="none"/>
<path d="M119.20,426.84L122.60,426.84L120.90,429.90Z" stroke="#f26a30" stroke-width="0.6" fill="none"/>
<path d="M128.30,425.38L131.70,425.38L130.00,428.44Z" stroke="#f26a30" stroke-width="0.6" fill="none"/>
<path d="M137.40,424.05L140.80,424.05L139.10,427.11Z" stroke="#f26a30" stroke-width="0.6" fill="none"/>
<path d="M146.50,422.84L149.90,422.84L148.20,425.90Z" stroke="#f26a30" stroke-width="0.6" fill="none"/>
<path d="M155.60,421.73L159.00,421.73L157.30,424.79Z" stroke="#f26a30" stroke-width="0.6" fill="none"/>
<path d="M164.70,420.70L168.10,420.70L166.40,423.76Z" stroke="#f26a30" stroke-width="0.6" fill="none"/>
<path d="M173.80,419.74L177.20,419.74L175.50,422.80Z" stroke="#f26a30" stroke-width="0.6" fill="none"/>
<path d="M182.90,418.84L186.30,418.84L184.60,421.90Z" stroke="#f26a30" stroke-width="0.6" fill="none"/>
<path d="M37.90,502.13L41.30,502.13L39.60,505.19Z" stroke="#f26a30" stroke-width="0.6" fill="none"/>
<path d="M46.40,482.84L49.80,482.84L48.10,485.90Z" stroke="#f26a30" stroke-width="0.6" fill="none"/>
<path d="M55.50,460.13L58.90,460.13L57.20,463.19Z" stroke="#f26a30" stroke-width="0.6" fill="none"/>
<path d="M64.60,446.84L68.00,446.84L66.30,449.90Z" stroke="#f26a30" stroke-width="0.6" fill="none"/>
<path d="M73.70,441.86L77.10,441.86L75.40,444.92Z" stroke="#f26a30" stroke-width="0.6" fill="none"/>
<path d="M82.80,438.00L86.20,438.00L84.50,441.06Z" stroke="#f26a30" stroke-width="0.6" fill="none"/>
<path d="M91.90,434.84L95.30,434.84L93.60,437.90Z" stroke="#f26a30" stroke-width="0.6" fill="none"/>
<path d="M101.00,432.17L104.40,432.17L102.70,435.23Z" stroke="#f26a30" stroke-width="0.6" fill="none"/>
<path d="M110.10,429.86L113.50,429.86L111.80,432.92Z" stroke="#f26a30" stroke-width="0.6" fill="none"/>
<path d="M119.20,427.82L122.60,427.82L120.90,430.88Z" stroke="#f26a30" stroke-width="0.6" fill="none"/>
<path d="M128.30,426.00L131.70,426.00L130.00,429.06Z" stroke="#f26a30" stroke-width="0.6" fill="none"/>
<path d="M137.40,424.35L140.80,424.35L139.10,427.41Z" stroke="#f26a30" stroke-width="0.6" fill="none"/>
<path d="M146.50,422.84L149.90,422.84L148.20,425.90Z" stroke="#f26a30" stroke-width="0.6" fill="none"/>
<path d="M37.90,511.68L41.30,511.68L39.60,514.74Z" stroke="#f26a30" stroke-width="0.6" fill="none"/>
<path d="M46.40,486.84L49.80,486.84L48.10,489.90Z" stroke="#f26a30" stroke-width="0.6" fill="none"/>
<path d="M55.50,465.39L58.90,465.39L57.20,468.45Z" stroke="#f26a30" stroke-width="0.6" fill="none"/>
<path d="M64.60,452.84L68.00,452.84L66.30,455.90Z" stroke="#f26a30" stroke-width="0.6" fill="none"/>
<path d="M73.70,446.56L77.10,446.56L75.40,449.62Z" stroke="#f26a30" stroke-width="0.6" fill="none"/>
<path d="M82.80,441.68L86.20,441.68L84.50,444.74Z" stroke="#f26a30" stroke-width="0.6" fill="none"/>
<path d="M91.90,437.70L95.30,437.70L93.60,440.76Z" stroke="#f26a30" stroke-width="0.6" fill="none"/>
<path d="M101.00,434.33L104.40,434.33L102.70,437.39Z" stroke="#f26a30" stroke-width="0.6" fill="none"/>
<path d="M110.10,431.41L113.50,431.41L111.80,434.47Z" stroke="#f26a30" stroke-width="0.6" fill="none"/>
<path d="M119.20,428.84L122.60,428.84L120.90,431.90Z" stroke="#f26a30" stroke-width="0.6" fill="none"/>
<path d="M37.90,496.23L41.30,496.23L39.60,499.29Z" stroke="#f26a30" stroke-width="0.6" fill="none"/>
<path d="M46.40,476.84L49.80,476.84L48.10,479.90Z" stroke="#f26a30" stroke-width="0.6" fill="none"/>
<path d="M55.50,455.39L58.90,455.39L57.20,458.45Z" stroke="#f26a30" stroke-width="0.6" fill="none"/>
<path d="M64.60,442.84L68.00,442.84L66.30,445.90Z" stroke="#f26a30" stroke-width="0.6" fill="none"/>
<path d="M73.70,437.58L77.10,437.58L75.40,440.64Z" stroke="#f26a30" stroke-width="0.6" fill="none"/>
<path d="M82.80,433.51L86.20,433.51L84.50,436.57Z" stroke="#f26a30" stroke-width="0.6" fill="none"/>
<path d="M91.90,430.17L95.30,430.17L93.60,433.23Z" stroke="#f26a30" stroke-width="0.6" fill="none"/>
<path d="M101.00,427.36L104.40,427.36L102.70,430.42Z" stroke="#f26a30" stroke-width="0.6" fill="none"/>
<path d="M110.10,424.92L113.50,424.92L111.80,427.98Z" stroke="#f26a30" stroke-width="0.6" fill="none"/>
<path d="M119.20,422.77L122.60,422.77L120.90,425.83Z" stroke="#f26a30" stroke-width="0.6" fill="none"/>
<path d="M128.30,420.84L131.70,420.84L130.00,423.90Z" stroke="#f26a30" stroke-width="0.6" fill="none"/>
<path d="M137.40,419.74L140.80,419.74L139.10,422.80Z" stroke="#f26a30" stroke-width="0.6" fill="none"/>
<path d="M146.50,418.74L149.90,418.74L148.20,421.80Z" stroke="#f26a30" stroke-width="0.6" fill="none"/>
<path d="M155.60,417.81L159.00,417.81L157.30,420.87Z" stroke="#f26a30" stroke-width="0.6" fill="none"/>
<path d="M164.70,416.96L168.10,416.96L166.40,420.02Z" stroke="#f26a30" stroke-width="0.6" fill="none"/>
<path d="M173.80,416.16L177.20,416.16L175.50,419.22Z" stroke="#f26a30" stroke-width="0.6" fill="none"/>
<path d="M182.90,415.42L186.30,415.42L184.60,418.48Z" stroke="#f26a30" stroke-width="0.6" fill="none"/>
<path d="M192.00,414.72L195.40,414.72L193.70,417.78Z" stroke="#f26a30" stroke-width="0.6" fill="none"/>
<path d="M201.10,414.06L204.50,414.06L202.80,417.12Z" stroke="#f26a30" stroke-width="0.6" fill="none"/>
<path d="M210.20,413.43L213.60,413.43L211.90,416.49Z" stroke="#f26a30" stroke-width="0.6" fill="none"/>
<path d="M219.30,412.84L222.70,412.84L221.00,415.90Z" stroke="#f26a30" stroke-width="0.6" fill="none"/>
<path d="M37.90,497.63L41.30,497.63L39.60,500.69Z" stroke="#f26a30" stroke-width="0.6" fill="none"/>
<path d="M46.40,472.84L49.80,472.84L48.10,475.90Z" stroke="#f26a30" stroke-width="0.6" fill="none"/>
<path d="M55.50,451.39L58.90,451.39L57.20,454.45Z" stroke="#f26a30" stroke-width="0.6" fill="none"/>
<path d="M64.60,438.84L68.00,438.84L66.30,441.90Z" stroke="#f26a30" stroke-width="0.6" fill="none"/>
<path d="M73.70,433.58L77.10,433.58L75.40,436.64Z" stroke="#f26a30" stroke-width="0.6" fill="none"/>
<path d="M82.80,429.51L86.20,429.51L84.50,432.57Z" stroke="#f26a30" stroke-width="0.6" fill="none"/>
<path d="M91.90,426.17L95.30,426.17L93.60,429.23Z" stroke="#f26a30" stroke-width="0.6" fill="none"/>
<path d="M101.00,423.36L104.40,423.36L102.70,426.42Z" stroke="#f26a30" stroke-width="0.6" fill="none"/>
<path d="M110.10,420.92L113.50,420.92L111.80,423.98Z" stroke="#f26a30" stroke-width="0.6" fill="none"/>
<path d="M119.20,418.77L122.60,418.77L120.90,421.83Z" stroke="#f26a30" stroke-width="0.6" fill="none"/>
<path d="M128.30,416.84L131.70,416.84L130.00,419.90Z" stroke="#f26a30" stroke-width="0.6" fill="none"/>
<path d="M137.40,416.11L140.80,416.11L139.10,419.17Z" stroke="#f26a30" stroke-width="0.6" fill="none"/>
<path d="M146.50,415.45L149.90,415.45L148.20,418.51Z" stroke="#f26a30" stroke-width="0.6" fill="none"/>
<path d="M155.60,414.84L159.00,414.84L157.30,417.90Z" stroke="#f26a30" stroke-width="0.6" fill="none"/>
<rect x="38.00" y="505.54" width="3.20" height="3.20" stroke="#5a64c8" stroke-width="0.6" fill="none"/>
<rect x="46.50" y="454.60" width="3.20" height="3.20" stroke="#5a64c8" stroke-width="0.6" fill="none"/>
<rect x="55.60" y="438.20" width="3.20" height="3.20" stroke="#5a64c8" stroke-width="0.6" fill="none"/>
<rect x="64.70" y="428.60" width="3.20" height="3.20" stroke="#5a64c8" stroke-width="0.6" fill="none"/>
<rect x="73.80" y="425.02" width="3.20" height="3.20" stroke="#5a64c8" stroke-width="0.6" fill="none"/>
<rect x="82.90" y="422.24" width="3.20" height="3.20" stroke="#5a64c8" stroke-width="0.6" fill="none"/>
<rect x="92.00" y="419.96" width="3.20" height="3.20" stroke="#5a64c8" stroke-width="0.6" fill="none"/>
<rect x="101.10" y="418.04" width="3.20" height="3.20" stroke="#5a64c8" stroke-width="0.6" fill="none"/>
<rect x="110.20" y="416.38" width="3.20" height="3.20" stroke="#5a64c8" stroke-width="0.6" fill="none"/>
<rect x="119.30" y="414.91" width="3.20" height="3.20" stroke="#5a64c8" stroke-width="0.6" fill="none"/>
<rect x="128.40" y="413.60" width="3.20" height="3.20" stroke="#5a64c8" stroke-width="0.6" fill="none"/>
<rect x="137.50" y="412.14" width="3.20" height="3.20" stroke="#5a64c8" stroke-width="0.6" fill="none"/>
<rect x="146.60" y="410.81" width="3.20" height="3.20" stroke="#5a64c8" stroke-width="0.6" fill="none"/>
<rect x="155.70" y="409.58" width="3.20" height="3.20" stroke="#5a64c8" stroke-width="0.6" fill="none"/>
<rect x="164.80" y="408.45" width="3.20" height="3.20" stroke="#5a64c8" stroke-width="0.6" fill="none"/>
<rect x="173.90" y="407.39" width="3.20" height="3.20" stroke="#5a64c8" stroke-width="0.6" fill="none"/>
<rect x="183.00" y="406.40" width="3.20" height="3.20" stroke="#5a64c8" stroke-width="0.6" fill="none"/>
<rect x="192.10" y="405.48" width="3.20" height="3.20" stroke="#5a64c8" stroke-width="0.6" fill="none"/>
<rect x="201.20" y="404.60" width="3.20" height="3.20" stroke="#5a64c8" stroke-width="0.6" fill="none"/>
<rect x="210.30" y="403.72" width="3.20" height="3.20" stroke="#5a64c8" stroke-width="0.6" fill="none"/>
<rect x="219.40" y="402.88" width="3.20" height="3.20" stroke="#5a64c8" stroke-width="0.6" fill="none"/>
<rect x="228.50" y="402.08" width="3.20" height="3.20" stroke="#5a64c8" stroke-width="0.6" fill="none"/>
<rect x="237.60" y="401.33" width="3.20" height="3.20" stroke="#5a64c8" stroke-width="0.6" fill="none"/>
<rect x="246.70" y="400.60" width="3.20" height="3.20" stroke="#5a64c8" stroke-width="0.6" fill="none"/>
<rect x="255.80" y="400.23" width="3.20" height="3.20" stroke="#5a64c8" stroke-width="0.6" fill="none"/>
<rect x="264.90" y="399.88" width="3.20" height="3.20" stroke="#5a64c8" stroke-width="0.6" fill="none"/>
<rect x="274.00" y="399.54" width="3.20" height="3.20" stroke="#5a64c8" stroke-width="0.6" fill="none"/>
<rect x="283.10" y="399.22" width="3.20" height="3.20" stroke="#5a64c8" stroke-width="0.6" fill="none"/>
<rect x="292.20" y="398.90" width="3.20" height="3.20" stroke="#5a64c8" stroke-width="0.6" fill="none"/>
<rect x="301.30" y="398.60" width="3.20" height="3.20" stroke="#5a64c8" stroke-width="0.6" fill="none"/>
<rect x="38.00" y="515.09" width="3.20" height="3.20" stroke="#5a64c8" stroke-width="0.6" fill="none"/>
<rect x="46.50" y="456.60" width="3.20" height="3.20" stroke="#5a64c8" stroke-width="0.6" fill="none"/>
<rect x="55.60" y="440.20" width="3.20" height="3.20" stroke="#5a64c8" stroke-width="0.6" fill="none"/>
<rect x="64.70" y="430.60" width="3.20" height="3.20" stroke="#5a64c8" stroke-width="0.6" fill="none"/>
<rect x="73.80" y="427.25" width="3.20" height="3.20" stroke="#5a64c8" stroke-width="0.6" fill="none"/>
<rect x="82.90" y="424.66" width="3.20" height="3.20" stroke="#5a64c8" stroke-width="0.6" fill="none"/>
<rect x="92.00" y="422.54" width="3.20" height="3.20" stroke="#5a64c8" stroke-width="0.6" fill="none"/>
<rect x="101.10" y="420.75" width="3.20" height="3.20" stroke="#5a64c8" stroke-width="0.6" fill="none"/>
<rect x="110.20" y="419.19" width="3.20" height="3.20" stroke="#5a64c8" stroke-width="0.6" fill="none"/>
<rect x="119.30" y="417.83" width="3.20" height="3.20" stroke="#5a64c8" stroke-width="0.6" fill="none"/>
<rect x="128.40" y="416.60" width="3.20" height="3.20" stroke="#5a64c8" stroke-width="0.6" fill="none"/>
<rect x="137.50" y="415.63" width="3.20" height="3.20" stroke="#5a64c8" stroke-width="0.6" fill="none"/>
<rect x="146.60" y="414.74" width="3.20" height="3.20" stroke="#5a64c8" stroke-width="0.6" fill="none"/>
<rect x="155.70" y="413.92" width="3.20" height="3.20" stroke="#5a64c8" stroke-width="0.6" fill="none"/>
<rect x="164.80" y="413.17" width="3.20" height="3.20" stroke="#5a64c8" stroke-width="0.6" fill="none"/>
<rect x="173.90" y="412.46" width="3.20" height="3.20" stroke="#5a64c8" stroke-width="0.6" fill="none"/>
<rect x="183.00" y="411.80" width="3.20" height="3.20" stroke="#5a64c8" stroke-width="0.6" fill="none"/>
<rect x="192.10" y="411.18" width="3.20" height="3.20" stroke="#5a64c8" stroke-width="0.6" fill="none"/>
<rect x="201.20" y="410.60" width="3.20" height="3.20" stroke="#5a64c8" stroke-width="0.6" fill="none"/>
<rect x="210.30" y="410.53" width="3.20" height="3.20" stroke="#5a64c8" stroke-width="0.6" fill="none"/>
<rect x="219.40" y="410.47" width="3.20" height="3.20" stroke="#5a64c8" stroke-width="0.6" fill="none"/>
<rect x="228.50" y="410.41" width="3.20" height="3.20" stroke="#5a64c8" stroke-width="0.6" fill="none"/>
<rect x="237.60" y="410.36" width="3.20" height="3.20" stroke="#5a64c8" stroke-width="0.6" fill="none"/>
<rect x="246.70" y="410.30" width="3.20" height="3.20" stroke="#5a64c8" stroke-width="0.6" fill="none"/>
<rect x="255.80" y="410.25" width="3.20" height="3.20" stroke="#5a64c8" stroke-width="0.6" fill="none"/>
<rect x="264.90" y="410.20" width="3.20" height="3.20" stroke="#5a64c8" stroke-width="0.6" fill="none"/>
<rect x="38.00" y="499.64" width="3.20" height="3.20" stroke="#5a64c8" stroke-width="0.6" fill="none"/>
<rect x="46.50" y="458.60" width="3.20" height="3.20" stroke="#5a64c8" stroke-width="0.6" fill="none"/>
<rect x="55.60" y="442.20" width="3.20" height="3.20" stroke="#5a64c8" stroke-width="0.6" fill="none"/>
<rect x="64.70" y="432.60" width="3.20" height="3.20" stroke="#5a64c8" stroke-width="0.6" fill="none"/>
<rect x="73.80" y="429.25" width="3.20" height="3.20" stroke="#5a64c8" stroke-width="0.6" fill="none"/>
<rect x="82.90" y="426.66" width="3.20" height="3.20" stroke="#5a64c8" stroke-width="0.6" fill="none"/>
<rect x="92.00" y="424.54" width="3.20" height="3.20" stroke="#5a64c8" stroke-width="0.6" fill="none"/>
<rect x="101.10" y="422.75" width="3.20" height="3.20" stroke="#5a64c8" stroke-width="0.6" fill="none"/>
<rect x="110.20" y="421.19" width="3.20" height="3.20" stroke="#5a64c8" stroke-width="0.6" fill="none"/>
<rect x="119.30" y="419.83" width="3.20" height="3.20" stroke="#5a64c8" stroke-width="0.6" fill="none"/>
<rect x="128.40" y="418.60" width="3.20" height="3.20" stroke="#5a64c8" stroke-width="0.6" fill="none"/>
<rect x="137.50" y="417.17" width="3.20" height="3.20" stroke="#5a64c8" stroke-width="0.6" fill="none"/>
<rect x="146.60" y="415.87" width="3.20" height="3.20" stroke="#5a64c8" stroke-width="0.6" fill="none"/>
<rect x="155.70" y="414.67" width="3.20" height="3.20" stroke="#5a64c8" stroke-width="0.6" fill="none"/>
<rect x="164.80" y="413.56" width="3.20" height="3.20" stroke="#5a64c8" stroke-width="0.6" fill="none"/>
<rect x="173.90" y="412.53" width="3.20" height="3.20" stroke="#5a64c8" stroke-width="0.6" fill="none"/>
<rect x="183.00" y="411.56" width="3.20" height="3.20" stroke="#5a64c8" stroke-width="0.6" fill="none"/>
<rect x="192.10" y="410.66" width="3.20" height="3.20" stroke="#5a64c8" stroke-width="0.6" fill="none"/>
<rect x="201.20" y="409.80" width="3.20" height="3.20" stroke="#5a64c8" stroke-width="0.6" fill="none"/>
<rect x="210.30" y="409.39" width="3.20" height="3.20" stroke="#5a64c8" stroke-width="0.6" fill="none"/>
<rect x="219.40" y="408.99" width="3.20" height="3.20" stroke="#5a64c8" stroke-width="0.6" fill="none"/>
<rect x="228.50" y="408.62" width="3.20" height="3.20" stroke="#5a64c8" stroke-width="0.6" fill="none"/>
<rect x="237.60" y="408.27" width="3.20" height="3.20" stroke="#5a64c8" stroke-width="0.6" fill="none"/>
<rect x="246.70" y="407.93" width="3.20" height="3.20" stroke="#5a64c8" stroke-width="0.6" fill="none"/>
<rect x="255.80" y="407.60" width="3.20" height="3.20" stroke="#5a64c8" stroke-width="0.6" fill="none"/>
<rect x="38.00" y="509.19" width="3.20" height="3.20" stroke="#5a64c8" stroke-width="0.6" fill="none"/>
<rect x="46.50" y="460.60" width="3.20" height="3.20" stroke="#5a64c8" stroke-width="0.6" fill="none"/>
<rect x="55.60" y="445.46" width="3.20" height="3.20" stroke="#5a64c8" stroke-width="0.6" fill="none"/>
<rect x="64.70" y="436.60" width="3.20" height="3.20" stroke="#5a64c8" stroke-width="0.6" fill="none"/>
<rect x="73.80" y="433.02" width="3.20" height="3.20" stroke="#5a64c8" stroke-width="0.6" fill="none"/>
<rect x="82.90" y="430.24" width="3.20" height="3.20" stroke="#5a64c8" stroke-width="0.6" fill="none"/>
<rect x="92.00" y="427.96" width="3.20" height="3.20" stroke="#5a64c8" stroke-width="0.6" fill="none"/>
<rect x="101.10" y="426.04" width="3.20" height="3.20" stroke="#5a64c8" stroke-width="0.6" fill="none"/>
<rect x="110.20" y="424.38" width="3.20" height="3.20" stroke="#5a64c8" stroke-width="0.6" fill="none"/>
<rect x="119.30" y="422.91" width="3.20" height="3.20" stroke="#5a64c8" stroke-width="0.6" fill="none"/>
<rect x="128.40" y="421.60" width="3.20" height="3.20" stroke="#5a64c8" stroke-width="0.6" fill="none"/>
<rect x="137.50" y="420.14" width="3.20" height="3.20" stroke="#5a64c8" stroke-width="0.6" fill="none"/>
<rect x="146.60" y="418.81" width="3.20" height="3.20" stroke="#5a64c8" stroke-width="0.6" fill="none"/>
<rect x="155.70" y="417.58" width="3.20" height="3.20" stroke="#5a64c8" stroke-width="0.6" fill="none"/>
<rect x="164.80" y="416.45" width="3.20" height="3.20" stroke="#5a64c8" stroke-width="0.6" fill="none"/>
<rect x="173.90" y="415.39" width="3.20" height="3.20" stroke="#5a64c8" stroke-width="0.6" fill="none"/>
<rect x="183.00" y="414.40" width="3.20" height="3.20" stroke="#5a64c8" stroke-width="0.6" fill="none"/>
<rect x="192.10" y="413.48" width="3.20" height="3.20" stroke="#5a64c8" stroke-width="0.6" fill="none"/>
<rect x="201.20" y="412.60" width="3.20" height="3.20" stroke="#5a64c8" stroke-width="0.6" fill="none"/>
<rect x="210.30" y="412.51" width="3.20" height="3.20" stroke="#5a64c8" stroke-width="0.6" fill="none"/>
<rect x="219.40" y="412.43" width="3.20" height="3.20" stroke="#5a64c8" stroke-width="0.6" fill="none"/>
<rect x="228.50" y="412.35" width="3.20" height="3.20" stroke="#5a64c8" stroke-width="0.6" fill="none"/>
<rect x="237.60" y="412.27" width="3.20" height="3.20" stroke="#5a64c8" stroke-width="0.6" fill="none"/>
<rect x="246.70" y="412.20" width="3.20" height="3.20" stroke="#5a64c8" stroke-width="0.6" fill="none"/>
<rect x="38.00" y="518.74" width="3.20" height="3.20" stroke="#5a64c8" stroke-width="0.6" fill="none"/>
<rect x="46.50" y="464.60" width="3.20" height="3.20" stroke="#5a64c8" stroke-width="0.6" fill="none"/>
<rect x="55.60" y="449.46" width="3.20" height="3.20" stroke="#5a64c8" stroke-width="0.6" fill="none"/>
<rect x="64.70" y="440.60" width="3.20" height="3.20" stroke="#5a64c8" stroke-width="0.6" fill="none"/>
<rect x="73.80" y="436.78" width="3.20" height="3.20" stroke="#5a64c8" stroke-width="0.6" fill="none"/>
<rect x="82.90" y="433.81" width="3.20" height="3.20" stroke="#5a64c8" stroke-width="0.6" fill="none"/>
<rect x="92.00" y="431.39" width="3.20" height="3.20" stroke="#5a64c8" stroke-width="0.6" fill="none"/>
<rect x="101.10" y="429.34" width="3.20" height="3.20" stroke="#5a64c8" stroke-width="0.6" fill="none"/>
<rect x="110.20" y="427.57" width="3.20" height="3.20" stroke="#5a64c8" stroke-width="0.6" fill="none"/>
<rect x="119.30" y="426.00" width="3.20" height="3.20" stroke="#5a64c8" stroke-width="0.6" fill="none"/>
<rect x="128.40" y="424.60" width="3.20" height="3.20" stroke="#5a64c8" stroke-width="0.6" fill="none"/>
<rect x="137.50" y="423.47" width="3.20" height="3.20" stroke="#5a64c8" stroke-width="0.6" fill="none"/>
<rect x="146.60" y="422.44" width="3.20" height="3.20" stroke="#5a64c8" stroke-width="0.6" fill="none"/>
<rect x="155.70" y="421.49" width="3.20" height="3.20" stroke="#5a64c8" stroke-width="0.6" fill="none"/>
<rect x="164.80" y="420.62" width="3.20" height="3.20" stroke="#5a64c8" stroke-width="0.6" fill="none"/>
<rect x="173.90" y="419.80" width="3.20" height="3.20" stroke="#5a64c8" stroke-width="0.6" fill="none"/>
<rect x="183.00" y="419.03" width="3.20" height="3.20" stroke="#5a64c8" stroke-width="0.6" fill="none"/>
<rect x="192.10" y="418.32" width="3.20" height="3.20" stroke="#5a64c8" stroke-width="0.6" fill="none"/>
<rect x="201.20" y="417.64" width="3.20" height="3.20" stroke="#5a64c8" stroke-width="0.6" fill="none"/>
<rect x="210.30" y="417.00" width="3.20" height="3.20" stroke="#5a64c8" stroke-width="0.6" fill="none"/>
<rect x="38.00" y="503.29" width="3.20" height="3.20" stroke="#5a64c8" stroke-width="0.6" fill="none"/>
<rect x="46.50" y="470.60" width="3.20" height="3.20" stroke="#5a64c8" stroke-width="0.6" fill="none"/>
<rect x="55.60" y="455.20" width="3.20" height="3.20" stroke="#5a64c8" stroke-width="0.6" fill="none"/>
<rect x="64.70" y="452.20" width="3.20" height="3.20" stroke="#5a64c8" stroke-width="0.6" fill="none"/>
<rect x="73.80" y="449.40" width="3.20" height="3.20" stroke="#5a64c8" stroke-width="0.6" fill="none"/>
<rect x="82.90" y="446.00" width="3.20" height="3.20" stroke="#5a64c8" stroke-width="0.6" fill="none"/>
<rect x="92.00" y="444.60" width="3.20" height="3.20" stroke="#5a64c8" stroke-width="0.6" fill="none"/>
<rect x="101.10" y="442.60" width="3.20" height="3.20" stroke="#5a64c8" stroke-width="0.6" fill="none"/>
<rect x="110.20" y="440.60" width="3.20" height="3.20" stroke="#5a64c8" stroke-width="0.6" fill="none"/>
<rect x="119.30" y="440.07" width="3.20" height="3.20" stroke="#5a64c8" stroke-width="0.6" fill="none"/>
<rect x="128.40" y="439.60" width="3.20" height="3.20" stroke="#5a64c8" stroke-width="0.6" fill="none"/>
<rect x="38.00" y="512.84" width="3.20" height="3.20" stroke="#5a64c8" stroke-width="0.6" fill="none"/>
<rect x="46.50" y="460.60" width="3.20" height="3.20" stroke="#5a64c8" stroke-width="0.6" fill="none"/>
<rect x="55.60" y="446.72" width="3.20" height="3.20" stroke="#5a64c8" stroke-width="0.6" fill="none"/>
<rect x="64.70" y="438.60" width="3.20" height="3.20" stroke="#5a64c8" stroke-width="0.6" fill="none"/>
<rect x="73.80" y="435.35" width="3.20" height="3.20" stroke="#5a64c8" stroke-width="0.6" fill="none"/>
<rect x="82.90" y="432.83" width="3.20" height="3.20" stroke="#5a64c8" stroke-width="0.6" fill="none"/>
<rect x="92.00" y="430.77" width="3.20" height="3.20" stroke="#5a64c8" stroke-width="0.6" fill="none"/>
<rect x="101.10" y="429.03" width="3.20" height="3.20" stroke="#5a64c8" stroke-width="0.6" fill="none"/>
<rect x="110.20" y="427.52" width="3.20" height="3.20" stroke="#5a64c8" stroke-width="0.6" fill="none"/>
<rect x="119.30" y="426.19" width="3.20" height="3.20" stroke="#5a64c8" stroke-width="0.6" fill="none"/>
<rect x="128.40" y="425.00" width="3.20" height="3.20" stroke="#5a64c8" stroke-width="0.6" fill="none"/>
<path d="M39.60,506.64L41.50,508.54L39.60,510.44L37.70,508.54Z" stroke="#2bb5c2" stroke-width="0.6" fill="none"/>
<path d="M48.10,436.30L50.00,438.20L48.10,440.10L46.20,438.20Z" stroke="#2bb5c2" stroke-width="0.6" fill="none"/>
<path d="M57.20,429.99L59.10,431.89L57.20,433.79L55.30,431.89Z" stroke="#2bb5c2" stroke-width="0.6" fill="none"/>
<path d="M66.30,426.30L68.20,428.20L66.30,430.10L64.40,428.20Z" stroke="#2bb5c2" stroke-width="0.6" fill="none"/>
<path d="M75.40,424.21L77.30,426.11L75.40,428.01L73.50,426.11Z" stroke="#2bb5c2" stroke-width="0.6" fill="none"/>
<path d="M84.50,422.58L86.40,424.48L84.50,426.38L82.60,424.48Z" stroke="#2bb5c2" stroke-width="0.6" fill="none"/>
<path d="M93.60,421.25L95.50,423.15L93.60,425.05L91.70,423.15Z" stroke="#2bb5c2" stroke-width="0.6" fill="none"/>
<path d="M102.70,420.13L104.60,422.03L102.70,423.93L100.80,422.03Z" stroke="#2bb5c2" stroke-width="0.6" fill="none"/>
<path d="M111.80,419.16L113.70,421.06L111.80,422.96L109.90,421.06Z" stroke="#2bb5c2" stroke-width="0.6" fill="none"/>
<path d="M120.90,418.30L122.80,420.20L120.90,422.10L119.00,420.20Z" stroke="#2bb5c2" stroke-width="0.6" fill="none"/>
<path d="M130.00,417.57L131.90,419.47L130.00,421.37L128.10,419.47Z" stroke="#2bb5c2" stroke-width="0.6" fill="none"/>
<path d="M139.10,416.90L141.00,418.80L139.10,420.70L137.20,418.80Z" stroke="#2bb5c2" stroke-width="0.6" fill="none"/>
<path d="M148.20,416.30L150.10,418.20L148.20,420.10L146.30,418.20Z" stroke="#2bb5c2" stroke-width="0.6" fill="none"/>
<path d="M39.60,516.18L41.50,518.08L39.60,519.98L37.70,518.08Z" stroke="#2bb5c2" stroke-width="0.6" fill="none"/>
<path d="M48.10,424.30L50.00,426.20L48.10,428.10L46.20,426.20Z" stroke="#2bb5c2" stroke-width="0.6" fill="none"/>
<path d="M57.20,418.62L59.10,420.52L57.20,422.42L55.30,420.52Z" stroke="#2bb5c2" stroke-width="0.6" fill="none"/>
<path d="M66.30,415.30L68.20,417.20L66.30,419.10L64.40,417.20Z" stroke="#2bb5c2" stroke-width="0.6" fill="none"/>
<path d="M75.40,411.92L77.30,413.82L75.40,415.72L73.50,413.82Z" stroke="#2bb5c2" stroke-width="0.6" fill="none"/>
<path d="M84.50,409.30L86.40,411.20L84.50,413.10L82.60,411.20Z" stroke="#2bb5c2" stroke-width="0.6" fill="none"/>
<path d="M93.60,408.37L95.50,410.27L93.60,412.17L91.70,410.27Z" stroke="#2bb5c2" stroke-width="0.6" fill="none"/>
<path d="M102.70,407.58L104.60,409.48L102.70,411.38L100.80,409.48Z" stroke="#2bb5c2" stroke-width="0.6" fill="none"/>
<path d="M111.80,406.90L113.70,408.80L111.80,410.70L109.90,408.80Z" stroke="#2bb5c2" stroke-width="0.6" fill="none"/>
<path d="M120.90,406.30L122.80,408.20L120.90,410.10L119.00,408.20Z" stroke="#2bb5c2" stroke-width="0.6" fill="none"/>
<path d="M130.00,405.30L131.90,407.20L130.00,409.10L128.10,407.20Z" stroke="#2bb5c2" stroke-width="0.6" fill="none"/>
<path d="M39.60,500.73L41.50,502.63L39.60,504.53L37.70,502.63Z" stroke="#2bb5c2" stroke-width="0.6" fill="none"/>
<path d="M48.10,428.30L50.00,430.20L48.10,432.10L46.20,430.20Z" stroke="#2bb5c2" stroke-width="0.6" fill="none"/>
<path d="M57.20,422.62L59.10,424.52L57.20,426.42L55.30,424.52Z" stroke="#2bb5c2" stroke-width="0.6" fill="none"/>
<path d="M66.30,419.30L68.20,421.20L66.30,423.10L64.40,421.20Z" stroke="#2bb5c2" stroke-width="0.6" fill="none"/>
<path d="M75.40,415.92L77.30,417.82L75.40,419.72L73.50,417.82Z" stroke="#2bb5c2" stroke-width="0.6" fill="none"/>
<path d="M84.50,413.30L86.40,415.20L84.50,417.10L82.60,415.20Z" stroke="#2bb5c2" stroke-width="0.6" fill="none"/>
<path d="M93.60,412.37L95.50,414.27L93.60,416.17L91.70,414.27Z" stroke="#2bb5c2" stroke-width="0.6" fill="none"/>
<path d="M102.70,411.58L104.60,413.48L102.70,415.38L100.80,413.48Z" stroke="#2bb5c2" stroke-width="0.6" fill="none"/>
<path d="M111.80,410.90L113.70,412.80L111.80,414.70L109.90,412.80Z" stroke="#2bb5c2" stroke-width="0.6" fill="none"/>
<path d="M120.90,410.30L122.80,412.20L120.90,414.10L119.00,412.20Z" stroke="#2bb5c2" stroke-width="0.6" fill="none"/>
<path d="M39.60,510.28L41.50,512.18L39.60,514.08L37.70,512.18Z" stroke="#2bb5c2" stroke-width="0.6" fill="none"/>
<path d="M48.10,432.30L50.00,434.20L48.10,436.10L46.20,434.20Z" stroke="#2bb5c2" stroke-width="0.6" fill="none"/>
<path d="M57.20,426.62L59.10,428.52L57.20,430.42L55.30,428.52Z" stroke="#2bb5c2" stroke-width="0.6" fill="none"/>
<path d="M66.30,423.30L68.20,425.20L66.30,427.10L64.40,425.20Z" stroke="#2bb5c2" stroke-width="0.6" fill="none"/>
<path d="M75.40,419.92L77.30,421.82L75.40,423.72L73.50,421.82Z" stroke="#2bb5c2" stroke-width="0.6" fill="none"/>
<path d="M84.50,417.30L86.40,419.20L84.50,421.10L82.60,419.20Z" stroke="#2bb5c2" stroke-width="0.6" fill="none"/>
<path d="M93.60,416.06L95.50,417.96L93.60,419.86L91.70,417.96Z" stroke="#2bb5c2" stroke-width="0.6" fill="none"/>
<path d="M102.70,415.01L104.60,416.91L102.70,418.81L100.80,416.91Z" stroke="#2bb5c2" stroke-width="0.6" fill="none"/>
<path d="M111.80,414.10L113.70,416.00L111.80,417.90L109.90,416.00Z" stroke="#2bb5c2" stroke-width="0.6" fill="none"/>
<path d="M120.90,413.30L122.80,415.20L120.90,417.10L119.00,415.20Z" stroke="#2bb5c2" stroke-width="0.6" fill="none"/>
<path d="M130.00,412.77L131.90,414.67L130.00,416.57L128.10,414.67Z" stroke="#2bb5c2" stroke-width="0.6" fill="none"/>
<path d="M139.10,412.30L141.00,414.20L139.10,416.10L137.20,414.20Z" stroke="#2bb5c2" stroke-width="0.6" fill="none"/>
<path d="M39.60,494.83L41.50,496.73L39.60,498.63L37.70,496.73Z" stroke="#2bb5c2" stroke-width="0.6" fill="none"/>
<path d="M48.10,436.30L50.00,438.20L48.10,440.10L46.20,438.20Z" stroke="#2bb5c2" stroke-width="0.6" fill="none"/>
<path d="M57.20,429.99L59.10,431.89L57.20,433.79L55.30,431.89Z" stroke="#2bb5c2" stroke-width="0.6" fill="none"/>
<path d="M66.30,426.30L68.20,428.20L66.30,430.10L64.40,428.20Z" stroke="#2bb5c2" stroke-width="0.6" fill="none"/>
<path d="M75.40,422.92L77.30,424.82L75.40,426.72L73.50,424.82Z" stroke="#2bb5c2" stroke-width="0.6" fill="none"/>
<path d="M84.50,420.30L86.40,422.20L84.50,424.10L82.60,422.20Z" stroke="#2bb5c2" stroke-width="0.6" fill="none"/>
<path d="M93.60,419.14L95.50,421.04L93.60,422.94L91.70,421.04Z" stroke="#2bb5c2" stroke-width="0.6" fill="none"/>
<path d="M102.70,418.15L104.60,420.05L102.70,421.95L100.80,420.05Z" stroke="#2bb5c2" stroke-width="0.6" fill="none"/>
<path d="M111.80,417.30L113.70,419.20L111.80,421.10L109.90,419.20Z" stroke="#2bb5c2" stroke-width="0.6" fill="none"/>
<path d="M39.60,504.38L41.50,506.28L39.60,508.18L37.70,506.28Z" stroke="#2bb5c2" stroke-width="0.6" fill="none"/>
<path d="M48.10,440.30L50.00,442.20L48.10,444.10L46.20,442.20Z" stroke="#2bb5c2" stroke-width="0.6" fill="none"/>
<path d="M57.20,433.99L59.10,435.89L57.20,437.79L55.30,435.89Z" stroke="#2bb5c2" stroke-width="0.6" fill="none"/>
<path d="M66.30,430.30L68.20,432.20L66.30,434.10L64.40,432.20Z" stroke="#2bb5c2" stroke-width="0.6" fill="none"/>
<path d="M75.40,426.92L77.30,428.82L75.40,430.72L73.50,428.82Z" stroke="#2bb5c2" stroke-width="0.6" fill="none"/>
<path d="M84.50,424.30L86.40,426.20L84.50,428.10L82.60,426.20Z" stroke="#2bb5c2" stroke-width="0.6" fill="none"/>
<path d="M93.60,423.22L95.50,425.12L93.60,427.02L91.70,425.12Z" stroke="#2bb5c2" stroke-width="0.6" fill="none"/>
<path d="M102.70,422.30L104.60,424.20L102.70,426.10L100.80,424.20Z" stroke="#2bb5c2" stroke-width="0.6" fill="none"/>
<path d="M39.60,513.93L41.50,515.83L39.60,517.73L37.70,515.83Z" stroke="#2bb5c2" stroke-width="0.6" fill="none"/>
<path d="M48.10,442.30L50.00,444.20L48.10,446.10L46.20,444.20Z" stroke="#2bb5c2" stroke-width="0.6" fill="none"/>
<path d="M57.20,435.99L59.10,437.89L57.20,439.79L55.30,437.89Z" stroke="#2bb5c2" stroke-width="0.6" fill="none"/>
<path d="M66.30,432.30L68.20,434.20L66.30,436.10L64.40,434.20Z" stroke="#2bb5c2" stroke-width="0.6" fill="none"/>
<path d="M75.40,429.48L77.30,431.38L75.40,433.28L73.50,431.38Z" stroke="#2bb5c2" stroke-width="0.6" fill="none"/>
<path d="M84.50,427.30L86.40,429.20L84.50,431.10L82.60,429.20Z" stroke="#2bb5c2" stroke-width="0.6" fill="none"/>
<path d="M93.60,425.75L95.50,427.65L93.60,429.55L91.70,427.65Z" stroke="#2bb5c2" stroke-width="0.6" fill="none"/>
<path d="M102.70,424.44L104.60,426.34L102.70,428.24L100.80,426.34Z" stroke="#2bb5c2" stroke-width="0.6" fill="none"/>
<path d="M111.80,423.30L113.70,425.20L111.80,427.10L109.90,425.20Z" stroke="#2bb5c2" stroke-width="0.6" fill="none"/>
<path d="M120.90,422.30L122.80,424.20L120.90,426.10L119.00,424.20Z" stroke="#2bb5c2" stroke-width="0.6" fill="none"/>
<path d="M39.60,499.08L40.90,501.42L38.30,501.42Z" fill="#13703e"/>
<path d="M48.10,420.90L49.40,423.24L46.80,423.24Z" fill="#13703e"/>
<path d="M57.20,415.85L58.50,418.19L55.90,418.19Z" fill="#13703e"/>
<path d="M66.30,412.90L67.60,415.24L65.00,415.24Z" fill="#13703e"/>
<path d="M75.40,410.08L76.70,412.42L74.10,412.42Z" fill="#13703e"/>
<path d="M84.50,407.90L85.80,410.24L83.20,410.24Z" fill="#13703e"/>
<path d="M93.60,406.97L94.90,409.31L92.30,409.31Z" fill="#13703e"/>
<path d="M102.70,406.18L104.00,408.52L101.40,408.52Z" fill="#13703e"/>
<path d="M111.80,405.50L113.10,407.84L110.50,407.84Z" fill="#13703e"/>
<path d="M120.90,404.90L122.20,407.24L119.60,407.24Z" fill="#13703e"/>
<path d="M130.00,404.37L131.30,406.71L128.70,406.71Z" fill="#13703e"/>
<path d="M139.10,403.90L140.40,406.24L137.80,406.24Z" fill="#13703e"/>
<path d="M39.60,508.63L40.90,510.97L38.30,510.97Z" fill="#13703e"/>
<path d="M48.10,426.90L49.40,429.24L46.80,429.24Z" fill="#13703e"/>
<path d="M57.20,421.22L58.50,423.56L55.90,423.56Z" fill="#13703e"/>
<path d="M66.30,417.90L67.60,420.24L65.00,420.24Z" fill="#13703e"/>
<path d="M75.40,415.08L76.70,417.42L74.10,417.42Z" fill="#13703e"/>
<path d="M84.50,412.90L85.80,415.24L83.20,415.24Z" fill="#13703e"/>
<path d="M93.60,411.97L94.90,414.31L92.30,414.31Z" fill="#13703e"/>
<path d="M102.70,411.18L104.00,413.52L101.40,413.52Z" fill="#13703e"/>
<path d="M111.80,410.50L113.10,412.84L110.50,412.84Z" fill="#13703e"/>
<path d="M120.90,409.90L122.20,412.24L119.60,412.24Z" fill="#13703e"/>
<path d="M130.00,409.42L131.30,411.76L128.70,411.76Z" fill="#13703e"/>
<path d="M139.10,408.99L140.40,411.33L137.80,411.33Z" fill="#13703e"/>
<path d="M148.20,408.60L149.50,410.94L146.90,410.94Z" fill="#13703e"/>
<path d="M157.30,408.24L158.60,410.58L156.00,410.58Z" fill="#13703e"/>
<path d="M166.40,407.90L167.70,410.24L165.10,410.24Z" fill="#13703e"/>
<path d="M39.60,518.18L40.90,520.52L38.30,520.52Z" fill="#13703e"/>
<path d="M48.10,428.90L49.40,431.24L46.80,431.24Z" fill="#13703e"/>
<path d="M57.20,423.85L58.50,426.19L55.90,426.19Z" fill="#13703e"/>
<path d="M66.30,420.90L67.60,423.24L65.00,423.24Z" fill="#13703e"/>
<path d="M75.40,418.08L76.70,420.42L74.10,420.42Z" fill="#13703e"/>
<path d="M84.50,415.90L85.80,418.24L83.20,418.24Z" fill="#13703e"/>
<path d="M93.60,414.97L94.90,417.31L92.30,417.31Z" fill="#13703e"/>
<path d="M102.70,414.18L104.00,416.52L101.40,416.52Z" fill="#13703e"/>
<path d="M111.80,413.50L113.10,415.84L110.50,415.84Z" fill="#13703e"/>
<path d="M120.90,412.90L122.20,415.24L119.60,415.24Z" fill="#13703e"/>
<path d="M39.60,502.73L40.90,505.07L38.30,505.07Z" fill="#13703e"/>
<path d="M48.10,432.90L49.40,435.24L46.80,435.24Z" fill="#13703e"/>
<path d="M57.20,427.22L58.50,429.56L55.90,429.56Z" fill="#13703e"/>
<path d="M66.30,423.90L67.60,426.24L65.00,426.24Z" fill="#13703e"/>
<path d="M75.40,421.08L76.70,423.42L74.10,423.42Z" fill="#13703e"/>
<path d="M84.50,418.90L85.80,421.24L83.20,421.24Z" fill="#13703e"/>
<path d="M93.60,417.66L94.90,420.00L92.30,420.00Z" fill="#13703e"/>
<path d="M102.70,416.61L104.00,418.95L101.40,418.95Z" fill="#13703e"/>
<path d="M111.80,415.70L113.10,418.04L110.50,418.04Z" fill="#13703e"/>
<path d="M120.90,414.90L122.20,417.24L119.60,417.24Z" fill="#13703e"/>
<path d="M130.00,413.90L131.30,416.24L128.70,416.24Z" fill="#13703e"/>
<path d="M39.60,512.28L40.90,514.62L38.30,514.62Z" fill="#13703e"/>
<path d="M48.10,434.90L49.40,437.24L46.80,437.24Z" fill="#13703e"/>
<path d="M57.20,429.85L58.50,432.19L55.90,432.19Z" fill="#13703e"/>
<path d="M66.30,426.90L67.60,429.24L65.00,429.24Z" fill="#13703e"/>
<path d="M75.40,424.08L76.70,426.42L74.10,426.42Z" fill="#13703e"/>
<path d="M84.50,421.90L85.80,424.24L83.20,424.24Z" fill="#13703e"/>
<path d="M93.60,420.74L94.90,423.08L92.30,423.08Z" fill="#13703e"/>
<path d="M102.70,419.75L104.00,422.09L101.40,422.09Z" fill="#13703e"/>
<path d="M111.80,418.90L113.10,421.24L110.50,421.24Z" fill="#13703e"/>
<path d="M37.80,505.42H41.40M39.60,503.62V507.22" stroke="#d84cb0" stroke-width="0.6" fill="none"/>
<path d="M46.30,380.20H49.90M48.10,378.40V382.00" stroke="#d84cb0" stroke-width="0.6" fill="none"/>
<path d="M55.40,378.20H59.00M57.20,376.40V380.00" stroke="#d84cb0" stroke-width="0.6" fill="none"/>
<path d="M64.50,376.80H68.10M66.30,375.00V378.60" stroke="#d84cb0" stroke-width="0.6" fill="none"/>
<path d="M73.60,375.40H77.20M75.40,373.60V377.20" stroke="#d84cb0" stroke-width="0.6" fill="none"/>
<path d="M82.70,375.45H86.30M84.50,373.65V377.25" stroke="#d84cb0" stroke-width="0.6" fill="none"/>
<path d="M91.80,375.49H95.40M93.60,373.69V377.29" stroke="#d84cb0" stroke-width="0.6" fill="none"/>
<path d="M100.90,375.52H104.50M102.70,373.72V377.32" stroke="#d84cb0" stroke-width="0.6" fill="none"/>
<path d="M110.00,375.55H113.60M111.80,373.75V377.35" stroke="#d84cb0" stroke-width="0.6" fill="none"/>
<path d="M119.10,375.58H122.70M120.90,373.78V377.38" stroke="#d84cb0" stroke-width="0.6" fill="none"/>
<path d="M128.20,375.60H131.80M130.00,373.80V377.40" stroke="#d84cb0" stroke-width="0.6" fill="none"/>
<path d="M37.80,514.97H41.40M39.60,513.17V516.77" stroke="#d84cb0" stroke-width="0.6" fill="none"/>
<path d="M46.30,388.20H49.90M48.10,386.40V390.00" stroke="#d84cb0" stroke-width="0.6" fill="none"/>
<path d="M55.40,382.20H59.00M57.20,380.40V384.00" stroke="#d84cb0" stroke-width="0.6" fill="none"/>
<path d="M64.50,379.20H68.10M66.30,377.40V381.00" stroke="#d84cb0" stroke-width="0.6" fill="none"/>
<path d="M73.60,377.20H77.20M75.40,375.40V379.00" stroke="#d84cb0" stroke-width="0.6" fill="none"/>
<path d="M82.70,376.20H86.30M84.50,374.40V378.00" stroke="#d84cb0" stroke-width="0.6" fill="none"/>
<path d="M37.80,499.52H41.40M39.60,497.72V501.32" stroke="#d84cb0" stroke-width="0.6" fill="none"/>
<path d="M46.30,396.20H49.90M48.10,394.40V398.00" stroke="#d84cb0" stroke-width="0.6" fill="none"/>
<path d="M55.40,389.80H59.00M57.20,388.00V391.60" stroke="#d84cb0" stroke-width="0.6" fill="none"/>
<path d="M64.50,386.80H68.10M66.30,385.00V388.60" stroke="#d84cb0" stroke-width="0.6" fill="none"/>
<path d="M73.60,384.60H77.20M75.40,382.80V386.40" stroke="#d84cb0" stroke-width="0.6" fill="none"/>
<path d="M37.80,509.07H41.40M39.60,507.27V510.87" stroke="#d84cb0" stroke-width="0.6" fill="none"/>
<path d="M46.30,410.20H49.90M48.10,408.40V412.00" stroke="#d84cb0" stroke-width="0.6" fill="none"/>
<path d="M55.40,405.20H59.00M57.20,403.40V407.00" stroke="#d84cb0" stroke-width="0.6" fill="none"/>
<path d="M64.50,398.20H68.10M66.30,396.40V400.00" stroke="#d84cb0" stroke-width="0.6" fill="none"/>
<path d="M73.60,394.20H77.20M75.40,392.40V396.00" stroke="#d84cb0" stroke-width="0.6" fill="none"/>
<path d="M82.70,391.80H86.30M84.50,390.00V393.60" stroke="#d84cb0" stroke-width="0.6" fill="none"/>
<path d="M91.80,390.20H95.40M93.60,388.40V392.00" stroke="#d84cb0" stroke-width="0.6" fill="none"/>
<path d="M37.80,518.62H41.40M39.60,516.82V520.42" stroke="#d84cb0" stroke-width="0.6" fill="none"/>
<path d="M46.30,426.20H49.90M48.10,424.40V428.00" stroke="#d84cb0" stroke-width="0.6" fill="none"/>
<path d="M55.40,418.20H59.00M57.20,416.40V420.00" stroke="#d84cb0" stroke-width="0.6" fill="none"/>
<path d="M64.50,414.20H68.10M66.30,412.40V416.00" stroke="#d84cb0" stroke-width="0.6" fill="none"/>
<path d="M73.60,410.82H77.20M75.40,409.02V412.62" stroke="#d84cb0" stroke-width="0.6" fill="none"/>
<path d="M82.70,408.20H86.30M84.50,406.40V410.00" stroke="#d84cb0" stroke-width="0.6" fill="none"/>
<path d="M39.60,496.23L41.50,498.13L39.60,500.03L37.70,498.13Z" stroke="#8a2a66" stroke-width="0.6" fill="none"/>
<path d="M48.10,414.30L50.00,416.20L48.10,418.10L46.20,416.20Z" stroke="#8a2a66" stroke-width="0.6" fill="none"/>
<path d="M57.20,409.88L59.10,411.78L57.20,413.68L55.30,411.78Z" stroke="#8a2a66" stroke-width="0.6" fill="none"/>
<path d="M66.30,407.30L68.20,409.20L66.30,411.10L64.40,409.20Z" stroke="#8a2a66" stroke-width="0.6" fill="none"/>
<path d="M75.40,405.61L77.30,407.51L75.40,409.41L73.50,407.51Z" stroke="#8a2a66" stroke-width="0.6" fill="none"/>
<path d="M84.50,404.30L86.40,406.20L84.50,408.10L82.60,406.20Z" stroke="#8a2a66" stroke-width="0.6" fill="none"/>
<path d="M93.60,403.37L95.50,405.27L93.60,407.17L91.70,405.27Z" stroke="#8a2a66" stroke-width="0.6" fill="none"/>
<path d="M102.70,402.58L104.60,404.48L102.70,406.38L100.80,404.48Z" stroke="#8a2a66" stroke-width="0.6" fill="none"/>
<path d="M111.80,401.90L113.70,403.80L111.80,405.70L109.90,403.80Z" stroke="#8a2a66" stroke-width="0.6" fill="none"/>
<path d="M120.90,401.30L122.80,403.20L120.90,405.10L119.00,403.20Z" stroke="#8a2a66" stroke-width="0.6" fill="none"/>
<path d="M130.00,400.88L131.90,402.78L130.00,404.68L128.10,402.78Z" stroke="#8a2a66" stroke-width="0.6" fill="none"/>
<path d="M139.10,400.49L141.00,402.39L139.10,404.29L137.20,402.39Z" stroke="#8a2a66" stroke-width="0.6" fill="none"/>
<path d="M148.20,400.14L150.10,402.04L148.20,403.94L146.30,402.04Z" stroke="#8a2a66" stroke-width="0.6" fill="none"/>
<path d="M157.30,399.82L159.20,401.72L157.30,403.62L155.40,401.72Z" stroke="#8a2a66" stroke-width="0.6" fill="none"/>
<path d="M166.40,399.53L168.30,401.43L166.40,403.33L164.50,401.43Z" stroke="#8a2a66" stroke-width="0.6" fill="none"/>
<path d="M175.50,399.25L177.40,401.15L175.50,403.05L173.60,401.15Z" stroke="#8a2a66" stroke-width="0.6" fill="none"/>
<path d="M184.60,398.99L186.50,400.89L184.60,402.79L182.70,400.89Z" stroke="#8a2a66" stroke-width="0.6" fill="none"/>
<path d="M193.70,398.75L195.60,400.65L193.70,402.55L191.80,400.65Z" stroke="#8a2a66" stroke-width="0.6" fill="none"/>
<path d="M202.80,398.52L204.70,400.42L202.80,402.32L200.90,400.42Z" stroke="#8a2a66" stroke-width="0.6" fill="none"/>
<path d="M211.90,398.30L213.80,400.20L211.90,402.10L210.00,400.20Z" stroke="#8a2a66" stroke-width="0.6" fill="none"/>
<path d="M39.60,505.77L41.50,507.67L39.60,509.57L37.70,507.67Z" stroke="#8a2a66" stroke-width="0.6" fill="none"/>
<path d="M48.10,418.30L50.00,420.20L48.10,422.10L46.20,420.20Z" stroke="#8a2a66" stroke-width="0.6" fill="none"/>
<path d="M57.20,413.88L59.10,415.78L57.20,417.68L55.30,415.78Z" stroke="#8a2a66" stroke-width="0.6" fill="none"/>
<path d="M66.30,411.30L68.20,413.20L66.30,415.10L64.40,413.20Z" stroke="#8a2a66" stroke-width="0.6" fill="none"/>
<path d="M75.40,409.05L77.30,410.95L75.40,412.85L73.50,410.95Z" stroke="#8a2a66" stroke-width="0.6" fill="none"/>
<path d="M84.50,407.30L86.40,409.20L84.50,411.10L82.60,409.20Z" stroke="#8a2a66" stroke-width="0.6" fill="none"/>
<path d="M93.60,406.06L95.50,407.96L93.60,409.86L91.70,407.96Z" stroke="#8a2a66" stroke-width="0.6" fill="none"/>
<path d="M102.70,405.01L104.60,406.91L102.70,408.81L100.80,406.91Z" stroke="#8a2a66" stroke-width="0.6" fill="none"/>
<path d="M111.80,404.10L113.70,406.00L111.80,407.90L109.90,406.00Z" stroke="#8a2a66" stroke-width="0.6" fill="none"/>
<path d="M120.90,403.30L122.80,405.20L120.90,407.10L119.00,405.20Z" stroke="#8a2a66" stroke-width="0.6" fill="none"/>
<path d="M130.00,402.73L131.90,404.63L130.00,406.53L128.10,404.63Z" stroke="#8a2a66" stroke-width="0.6" fill="none"/>
<path d="M139.10,402.21L141.00,404.11L139.10,406.01L137.20,404.11Z" stroke="#8a2a66" stroke-width="0.6" fill="none"/>
<path d="M148.20,401.74L150.10,403.64L148.20,405.54L146.30,403.64Z" stroke="#8a2a66" stroke-width="0.6" fill="none"/>
<path d="M157.30,401.30L159.20,403.20L157.30,405.10L155.40,403.20Z" stroke="#8a2a66" stroke-width="0.6" fill="none"/>
<path d="M39.60,515.32L41.50,517.22L39.60,519.12L37.70,517.22Z" stroke="#8a2a66" stroke-width="0.6" fill="none"/>
<path d="M48.10,422.30L50.00,424.20L48.10,426.10L46.20,424.20Z" stroke="#8a2a66" stroke-width="0.6" fill="none"/>
<path d="M57.20,417.88L59.10,419.78L57.20,421.68L55.30,419.78Z" stroke="#8a2a66" stroke-width="0.6" fill="none"/>
<path d="M66.30,415.30L68.20,417.20L66.30,419.10L64.40,417.20Z" stroke="#8a2a66" stroke-width="0.6" fill="none"/>
<path d="M75.40,412.48L77.30,414.38L75.40,416.28L73.50,414.38Z" stroke="#8a2a66" stroke-width="0.6" fill="none"/>
<path d="M84.50,410.30L86.40,412.20L84.50,414.10L82.60,412.20Z" stroke="#8a2a66" stroke-width="0.6" fill="none"/>
<path d="M93.60,409.06L95.50,410.96L93.60,412.86L91.70,410.96Z" stroke="#8a2a66" stroke-width="0.6" fill="none"/>
<path d="M102.70,408.01L104.60,409.91L102.70,411.81L100.80,409.91Z" stroke="#8a2a66" stroke-width="0.6" fill="none"/>
<path d="M111.80,407.10L113.70,409.00L111.80,410.90L109.90,409.00Z" stroke="#8a2a66" stroke-width="0.6" fill="none"/>
<path d="M120.90,406.30L122.80,408.20L120.90,410.10L119.00,408.20Z" stroke="#8a2a66" stroke-width="0.6" fill="none"/>
<path d="M130.00,405.89L131.90,407.79L130.00,409.69L128.10,407.79Z" stroke="#8a2a66" stroke-width="0.6" fill="none"/>
<path d="M139.10,405.51L141.00,407.41L139.10,409.31L137.20,407.41Z" stroke="#8a2a66" stroke-width="0.6" fill="none"/>
<path d="M148.20,405.17L150.10,407.07L148.20,408.97L146.30,407.07Z" stroke="#8a2a66" stroke-width="0.6" fill="none"/>
<path d="M157.30,404.86L159.20,406.76L157.30,408.66L155.40,406.76Z" stroke="#8a2a66" stroke-width="0.6" fill="none"/>
<path d="M166.40,404.57L168.30,406.47L166.40,408.37L164.50,406.47Z" stroke="#8a2a66" stroke-width="0.6" fill="none"/>
<path d="M175.50,404.30L177.40,406.20L175.50,408.10L173.60,406.20Z" stroke="#8a2a66" stroke-width="0.6" fill="none"/>
<path d="M39.60,499.87L41.50,501.77L39.60,503.67L37.70,501.77Z" stroke="#8a2a66" stroke-width="0.6" fill="none"/>
<path d="M48.10,426.30L50.00,428.20L48.10,430.10L46.20,428.20Z" stroke="#8a2a66" stroke-width="0.6" fill="none"/>
<path d="M57.20,421.88L59.10,423.78L57.20,425.68L55.30,423.78Z" stroke="#8a2a66" stroke-width="0.6" fill="none"/>
<path d="M66.30,419.30L68.20,421.20L66.30,423.10L64.40,421.20Z" stroke="#8a2a66" stroke-width="0.6" fill="none"/>
<path d="M75.40,416.48L77.30,418.38L75.40,420.28L73.50,418.38Z" stroke="#8a2a66" stroke-width="0.6" fill="none"/>
<path d="M84.50,414.30L86.40,416.20L84.50,418.10L82.60,416.20Z" stroke="#8a2a66" stroke-width="0.6" fill="none"/>
<path d="M93.60,413.06L95.50,414.96L93.60,416.86L91.70,414.96Z" stroke="#8a2a66" stroke-width="0.6" fill="none"/>
<path d="M102.70,412.01L104.60,413.91L102.70,415.81L100.80,413.91Z" stroke="#8a2a66" stroke-width="0.6" fill="none"/>
<path d="M111.80,411.10L113.70,413.00L111.80,414.90L109.90,413.00Z" stroke="#8a2a66" stroke-width="0.6" fill="none"/>
<path d="M120.90,410.30L122.80,412.20L120.90,414.10L119.00,412.20Z" stroke="#8a2a66" stroke-width="0.6" fill="none"/>
<path d="M130.00,409.77L131.90,411.67L130.00,413.57L128.10,411.67Z" stroke="#8a2a66" stroke-width="0.6" fill="none"/>
<path d="M139.10,409.30L141.00,411.20L139.10,413.10L137.20,411.20Z" stroke="#8a2a66" stroke-width="0.6" fill="none"/>
<path d="M39.60,509.42L41.50,511.32L39.60,513.22L37.70,511.32Z" stroke="#8a2a66" stroke-width="0.6" fill="none"/>
<path d="M48.10,430.30L50.00,432.20L48.10,434.10L46.20,432.20Z" stroke="#8a2a66" stroke-width="0.6" fill="none"/>
<path d="M57.20,425.88L59.10,427.78L57.20,429.68L55.30,427.78Z" stroke="#8a2a66" stroke-width="0.6" fill="none"/>
<path d="M66.30,423.30L68.20,425.20L66.30,427.10L64.40,425.20Z" stroke="#8a2a66" stroke-width="0.6" fill="none"/>
<path d="M75.40,420.48L77.30,422.38L75.40,424.28L73.50,422.38Z" stroke="#8a2a66" stroke-width="0.6" fill="none"/>
<path d="M84.50,418.30L86.40,420.20L84.50,422.10L82.60,420.20Z" stroke="#8a2a66" stroke-width="0.6" fill="none"/>
<path d="M93.60,417.06L95.50,418.96L93.60,420.86L91.70,418.96Z" stroke="#8a2a66" stroke-width="0.6" fill="none"/>
<path d="M102.70,416.01L104.60,417.91L102.70,419.81L100.80,417.91Z" stroke="#8a2a66" stroke-width="0.6" fill="none"/>
<path d="M111.80,415.10L113.70,417.00L111.80,418.90L109.90,417.00Z" stroke="#8a2a66" stroke-width="0.6" fill="none"/>
<path d="M120.90,414.30L122.80,416.20L120.90,418.10L119.00,416.20Z" stroke="#8a2a66" stroke-width="0.6" fill="none"/>
<path d="M39.60,518.97L41.50,520.87L39.60,522.77L37.70,520.87Z" stroke="#8a2a66" stroke-width="0.6" fill="none"/>
<path d="M48.10,434.30L50.00,436.20L48.10,438.10L46.20,436.20Z" stroke="#8a2a66" stroke-width="0.6" fill="none"/>
<path d="M57.20,429.88L59.10,431.78L57.20,433.68L55.30,431.78Z" stroke="#8a2a66" stroke-width="0.6" fill="none"/>
<path d="M66.30,427.30L68.20,429.20L66.30,431.10L64.40,429.20Z" stroke="#8a2a66" stroke-width="0.6" fill="none"/>
<path d="M75.40,424.48L77.30,426.38L75.40,428.28L73.50,426.38Z" stroke="#8a2a66" stroke-width="0.6" fill="none"/>
<path d="M84.50,422.30L86.40,424.20L84.50,426.10L82.60,424.20Z" stroke="#8a2a66" stroke-width="0.6" fill="none"/>
<path d="M93.60,420.75L95.50,422.65L93.60,424.55L91.70,422.65Z" stroke="#8a2a66" stroke-width="0.6" fill="none"/>
<path d="M102.70,419.44L104.60,421.34L102.70,423.24L100.80,421.34Z" stroke="#8a2a66" stroke-width="0.6" fill="none"/>
<path d="M111.80,418.30L113.70,420.20L111.80,422.10L109.90,420.20Z" stroke="#8a2a66" stroke-width="0.6" fill="none"/>
<path d="M120.90,417.30L122.80,419.20L120.90,421.10L119.00,419.20Z" stroke="#8a2a66" stroke-width="0.6" fill="none"/>
<path d="M130.00,416.57L131.90,418.47L130.00,420.37L128.10,418.47Z" stroke="#8a2a66" stroke-width="0.6" fill="none"/>
<path d="M139.10,415.90L141.00,417.80L139.10,419.70L137.20,417.80Z" stroke="#8a2a66" stroke-width="0.6" fill="none"/>
<path d="M148.20,415.30L150.10,417.20L148.20,419.10L146.30,417.20Z" stroke="#8a2a66" stroke-width="0.6" fill="none"/>
<rect x="217.4" y="445.6" width="80.6" height="63.2" fill="#fff" stroke="#888" stroke-width="0.8"/>
<text x="219.80" y="452.80" font-size="5.0" font-weight="bold" text-anchor="start" fill="#111" textLength="36.4" lengthAdjust="spacingAndGlyphs" stroke="#111" stroke-width="0.22" >Tissue Location</text>
<text x="219.80" y="460.30" font-size="5.0" font-weight="bold" text-anchor="start" fill="#111" textLength="76.2" lengthAdjust="spacingAndGlyphs" stroke="#111" stroke-width="0.22" >(Dot Type, Dot Color, Line Color)</text>
<line x1="220.20" y1="467.80" x2="227.40" y2="467.80" stroke="#ee2020" stroke-width="0.8" />
<circle cx="223.80" cy="467.80" r="1.70" fill="#ee2020"/>
<text x="228.80" y="469.60" font-size="5.0" font-weight="bold" text-anchor="start" fill="#111" stroke="#111" stroke-width="0.22" >Placenta</text>
<line x1="257.60" y1="467.80" x2="264.80" y2="467.80" stroke="#9aa52a" stroke-width="0.8" />
<circle cx="261.20" cy="467.80" r="1.70" fill="#9aa52a"/>
<text x="265.80" y="469.60" font-size="5.0" font-weight="bold" text-anchor="start" fill="#111" stroke="#111" stroke-width="0.22" >Colostrum</text>
<line x1="220.20" y1="476.55" x2="227.40" y2="476.55" stroke="#505050" stroke-width="0.8" />
<circle cx="223.80" cy="476.55" r="1.70" fill="#262626"/>
<text x="228.80" y="478.35" font-size="5.0" font-weight="bold" text-anchor="start" fill="#111" stroke="#111" stroke-width="0.22" >Vagina</text>
<line x1="257.60" y1="476.55" x2="264.80" y2="476.55" stroke="#8c8c8c" stroke-width="0.8" />
<path d="M259.16,474.51L263.24,478.59M259.16,478.59L263.24,474.51" stroke="#6e6e6e" stroke-width="0.7" fill="none"/>
<text x="265.80" y="478.35" font-size="5.0" font-weight="bold" text-anchor="start" fill="#111" stroke="#111" stroke-width="0.22" >Oral</text>
<line x1="220.20" y1="485.30" x2="227.40" y2="485.30" stroke="#3cc8d4" stroke-width="0.8" />
<path d="M223.80,482.74L226.37,485.30L223.80,487.87L221.24,485.30Z" stroke="#2bb5c2" stroke-width="0.6" fill="none"/>
<text x="228.80" y="487.10" font-size="5.0" font-weight="bold" text-anchor="start" fill="#111" stroke="#111" stroke-width="0.22" >Cow Fecal</text>
<line x1="257.60" y1="485.30" x2="264.80" y2="485.30" stroke="#de58bc" stroke-width="0.8" />
<path d="M259.04,485.30H263.36M261.20,483.14V487.46" stroke="#d84cb0" stroke-width="0.6" fill="none"/>
<text x="265.80" y="487.10" font-size="5.0" font-weight="bold" text-anchor="start" fill="#111" stroke="#111" stroke-width="0.22" >Meconium</text>
<line x1="220.20" y1="494.05" x2="227.40" y2="494.05" stroke="#f47c45" stroke-width="0.8" />
<path d="M223.80,491.65L226.44,494.05L223.80,496.45L221.16,494.05Z" fill="#f8a07c" stroke="#f8a07c" stroke-width="0.4"/>
<text x="228.80" y="495.85" font-size="5.0" font-weight="bold" text-anchor="start" fill="#111" stroke="#111" stroke-width="0.22" >Fecal 24 h</text>
<line x1="257.60" y1="494.05" x2="264.80" y2="494.05" stroke="#5a64c8" stroke-width="0.8" />
<path d="M261.20,491.65L263.84,494.05L261.20,496.45L258.56,494.05Z" fill="#8e9ae0" stroke="#8e9ae0" stroke-width="0.4"/>
<text x="265.80" y="495.85" font-size="5.0" font-weight="bold" text-anchor="start" fill="#111" stroke="#111" stroke-width="0.22" >Fecal 7 d</text>
<line x1="220.20" y1="502.80" x2="227.40" y2="502.80" stroke="#24a062" stroke-width="0.8" />
<path d="M223.80,501.24L225.36,504.05L222.24,504.05Z" fill="#13703e"/>
<text x="228.80" y="504.60" font-size="5.0" font-weight="bold" text-anchor="start" fill="#111" stroke="#111" stroke-width="0.22" >Fecal 42 d</text>
<line x1="257.60" y1="502.80" x2="264.80" y2="502.80" stroke="#8e3a70" stroke-width="0.8" />
<path d="M261.20,500.24L263.76,502.80L261.20,505.37L258.63,502.80Z" stroke="#8a2a66" stroke-width="0.6" fill="none"/>
<text x="265.80" y="504.60" font-size="5.0" font-weight="bold" text-anchor="start" fill="#111" stroke="#111" stroke-width="0.22" >Fecal 60 d</text>
</svg>
</body></html>
